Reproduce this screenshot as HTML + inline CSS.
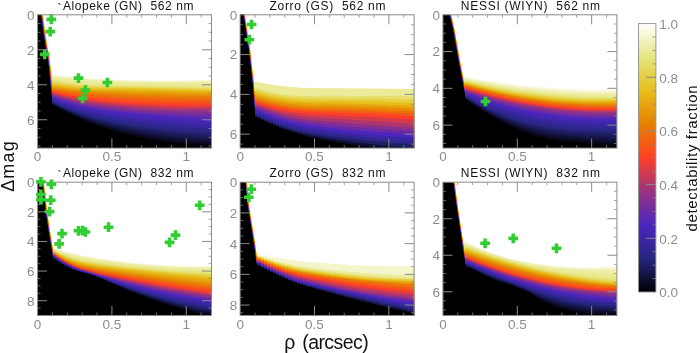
<!DOCTYPE html><html><head><meta charset="utf-8"><style>
*{margin:0;padding:0}
html,body{width:700px;height:353px;overflow:hidden;background:#fff}
svg{position:absolute;left:0;top:0;font-family:"Liberation Sans",sans-serif}
.t{font-size:12px;fill:#111}
.l{font-size:13.5px;fill:#8c8c8c}
.ax{font-size:18px;fill:#111}
</style></head><body><svg width="700" height="353" viewBox="0 0 700 353"><defs><clipPath id="cp0"><rect x="37.55" y="14.80" width="173.95" height="133.30"/></clipPath><linearGradient id="g00" x1="0" y1="14.80" x2="0" y2="148.10" gradientUnits="userSpaceOnUse"><stop offset="-0.0075" stop-color="#ffffff"/><stop offset="-0.0075" stop-color="#efefad"/><stop offset="-0.0075" stop-color="#e6e680"/><stop offset="-0.0075" stop-color="#e6bf1a"/><stop offset="-0.0075" stop-color="#e68000"/><stop offset="-0.0075" stop-color="#ff4026"/><stop offset="-0.0075" stop-color="#993380"/><stop offset="0.0044" stop-color="#4c26bf"/><stop offset="0.0232" stop-color="#262680"/><stop offset="0.0416" stop-color="#000000"/></linearGradient><linearGradient id="g01" x1="0" y1="14.80" x2="0" y2="148.10" gradientUnits="userSpaceOnUse"><stop offset="-0.0075" stop-color="#ffffff"/><stop offset="-0.0075" stop-color="#efefad"/><stop offset="-0.0075" stop-color="#e6e680"/><stop offset="-0.0075" stop-color="#e6bf1a"/><stop offset="0.0058" stop-color="#e68000"/><stop offset="0.0247" stop-color="#ff4026"/><stop offset="0.0435" stop-color="#993380"/><stop offset="0.0624" stop-color="#4c26bf"/><stop offset="0.0812" stop-color="#262680"/><stop offset="0.0999" stop-color="#000000"/></linearGradient><linearGradient id="g02" x1="0" y1="14.80" x2="0" y2="148.10" gradientUnits="userSpaceOnUse"><stop offset="0.0077" stop-color="#ffffff"/><stop offset="0.0194" stop-color="#efefad"/><stop offset="0.0261" stop-color="#e6e680"/><stop offset="0.0450" stop-color="#e6bf1a"/><stop offset="0.0638" stop-color="#e68000"/><stop offset="0.0827" stop-color="#ff4026"/><stop offset="0.1015" stop-color="#993380"/><stop offset="0.1203" stop-color="#4c26bf"/><stop offset="0.1374" stop-color="#262680"/><stop offset="0.1527" stop-color="#000000"/></linearGradient><linearGradient id="g03" x1="0" y1="14.80" x2="0" y2="148.10" gradientUnits="userSpaceOnUse"><stop offset="0.0654" stop-color="#ffffff"/><stop offset="0.0773" stop-color="#efefad"/><stop offset="0.0841" stop-color="#e6e680"/><stop offset="0.1029" stop-color="#e6bf1a"/><stop offset="0.1218" stop-color="#e68000"/><stop offset="0.1386" stop-color="#ff4026"/><stop offset="0.1542" stop-color="#993380"/><stop offset="0.1698" stop-color="#4c26bf"/><stop offset="0.1854" stop-color="#262680"/><stop offset="0.2007" stop-color="#000000"/></linearGradient><linearGradient id="g04" x1="0" y1="14.80" x2="0" y2="148.10" gradientUnits="userSpaceOnUse"><stop offset="0.1236" stop-color="#ffffff"/><stop offset="0.1342" stop-color="#efefad"/><stop offset="0.1398" stop-color="#e6e680"/><stop offset="0.1554" stop-color="#e6bf1a"/><stop offset="0.1710" stop-color="#e68000"/><stop offset="0.1866" stop-color="#ff4026"/><stop offset="0.2023" stop-color="#993380"/><stop offset="0.2179" stop-color="#4c26bf"/><stop offset="0.2335" stop-color="#262680"/><stop offset="0.2487" stop-color="#000000"/></linearGradient><linearGradient id="g05" x1="0" y1="14.80" x2="0" y2="148.10" gradientUnits="userSpaceOnUse"><stop offset="0.1726" stop-color="#ffffff"/><stop offset="0.1822" stop-color="#efefad"/><stop offset="0.1878" stop-color="#e6e680"/><stop offset="0.2035" stop-color="#e6bf1a"/><stop offset="0.2191" stop-color="#e68000"/><stop offset="0.2347" stop-color="#ff4026"/><stop offset="0.2499" stop-color="#993380"/><stop offset="0.2613" stop-color="#4c26bf"/><stop offset="0.2727" stop-color="#262680"/><stop offset="0.2843" stop-color="#000000"/></linearGradient><linearGradient id="g06" x1="0" y1="14.80" x2="0" y2="148.10" gradientUnits="userSpaceOnUse"><stop offset="0.2206" stop-color="#ffffff"/><stop offset="0.2302" stop-color="#efefad"/><stop offset="0.2359" stop-color="#e6e680"/><stop offset="0.2508" stop-color="#e6bf1a"/><stop offset="0.2622" stop-color="#e68000"/><stop offset="0.2736" stop-color="#ff4026"/><stop offset="0.2849" stop-color="#993380"/><stop offset="0.2963" stop-color="#4c26bf"/><stop offset="0.3125" stop-color="#262680"/><stop offset="0.3325" stop-color="#000000"/></linearGradient><linearGradient id="g07" x1="0" y1="14.80" x2="0" y2="148.10" gradientUnits="userSpaceOnUse"><stop offset="0.2630" stop-color="#ffffff"/><stop offset="0.2703" stop-color="#efefad"/><stop offset="0.2744" stop-color="#e6e680"/><stop offset="0.2858" stop-color="#e6bf1a"/><stop offset="0.2972" stop-color="#e68000"/><stop offset="0.3141" stop-color="#ff4026"/><stop offset="0.3344" stop-color="#993380"/><stop offset="0.3547" stop-color="#4c26bf"/><stop offset="0.3750" stop-color="#262680"/><stop offset="0.3951" stop-color="#000000"/></linearGradient><linearGradient id="g08" x1="0" y1="14.80" x2="0" y2="148.10" gradientUnits="userSpaceOnUse"><stop offset="0.2979" stop-color="#ffffff"/><stop offset="0.3083" stop-color="#efefad"/><stop offset="0.3156" stop-color="#e6e680"/><stop offset="0.3360" stop-color="#e6bf1a"/><stop offset="0.3563" stop-color="#e68000"/><stop offset="0.3766" stop-color="#ff4026"/><stop offset="0.3969" stop-color="#993380"/><stop offset="0.4181" stop-color="#4c26bf"/><stop offset="0.4442" stop-color="#262680"/><stop offset="0.4699" stop-color="#000000"/></linearGradient><linearGradient id="g09" x1="0" y1="14.80" x2="0" y2="148.10" gradientUnits="userSpaceOnUse"><stop offset="0.3581" stop-color="#ffffff"/><stop offset="0.3708" stop-color="#efefad"/><stop offset="0.3782" stop-color="#e6e680"/><stop offset="0.3985" stop-color="#e6bf1a"/><stop offset="0.4201" stop-color="#e68000"/><stop offset="0.4463" stop-color="#ff4026"/><stop offset="0.4724" stop-color="#993380"/><stop offset="0.4985" stop-color="#4c26bf"/><stop offset="0.5246" stop-color="#262680"/><stop offset="0.5452" stop-color="#000000"/></linearGradient><linearGradient id="g0a" x1="0" y1="14.80" x2="0" y2="148.10" gradientUnits="userSpaceOnUse"><stop offset="0.4226" stop-color="#ffffff"/><stop offset="0.4389" stop-color="#efefad"/><stop offset="0.4483" stop-color="#e6e680"/><stop offset="0.4744" stop-color="#e6bf1a"/><stop offset="0.5005" stop-color="#e68000"/><stop offset="0.5266" stop-color="#ff4026"/><stop offset="0.5469" stop-color="#993380"/><stop offset="0.5673" stop-color="#4c26bf"/><stop offset="0.5876" stop-color="#262680"/><stop offset="0.6074" stop-color="#000000"/></linearGradient><linearGradient id="g0b" x1="0" y1="14.80" x2="0" y2="148.10" gradientUnits="userSpaceOnUse"><stop offset="0.4466" stop-color="#ffffff"/><stop offset="0.4624" stop-color="#efefad"/><stop offset="0.4916" stop-color="#e6e680"/><stop offset="0.5258" stop-color="#e6bf1a"/><stop offset="0.5573" stop-color="#e68000"/><stop offset="0.5798" stop-color="#ff4026"/><stop offset="0.5980" stop-color="#993380"/><stop offset="0.6231" stop-color="#4c26bf"/><stop offset="0.6545" stop-color="#262680"/><stop offset="0.6803" stop-color="#000000"/></linearGradient><linearGradient id="g0c" x1="0" y1="14.80" x2="0" y2="148.10" gradientUnits="userSpaceOnUse"><stop offset="0.4472" stop-color="#ffffff"/><stop offset="0.4632" stop-color="#efefad"/><stop offset="0.4924" stop-color="#e6e680"/><stop offset="0.5265" stop-color="#e6bf1a"/><stop offset="0.5578" stop-color="#e68000"/><stop offset="0.5807" stop-color="#ff4026"/><stop offset="0.5992" stop-color="#993380"/><stop offset="0.6246" stop-color="#4c26bf"/><stop offset="0.6564" stop-color="#262680"/><stop offset="0.6822" stop-color="#000000"/></linearGradient><linearGradient id="g0d" x1="0" y1="14.80" x2="0" y2="148.10" gradientUnits="userSpaceOnUse"><stop offset="0.4479" stop-color="#ffffff"/><stop offset="0.4640" stop-color="#efefad"/><stop offset="0.4938" stop-color="#e6e680"/><stop offset="0.5277" stop-color="#e6bf1a"/><stop offset="0.5587" stop-color="#e68000"/><stop offset="0.5825" stop-color="#ff4026"/><stop offset="0.6015" stop-color="#993380"/><stop offset="0.6274" stop-color="#4c26bf"/><stop offset="0.6602" stop-color="#262680"/><stop offset="0.6865" stop-color="#000000"/></linearGradient><linearGradient id="g0e" x1="0" y1="14.80" x2="0" y2="148.10" gradientUnits="userSpaceOnUse"><stop offset="0.4488" stop-color="#ffffff"/><stop offset="0.4650" stop-color="#efefad"/><stop offset="0.4952" stop-color="#e6e680"/><stop offset="0.5290" stop-color="#e6bf1a"/><stop offset="0.5597" stop-color="#e68000"/><stop offset="0.5843" stop-color="#ff4026"/><stop offset="0.6039" stop-color="#993380"/><stop offset="0.6302" stop-color="#4c26bf"/><stop offset="0.6638" stop-color="#262680"/><stop offset="0.6907" stop-color="#000000"/></linearGradient><linearGradient id="g0f" x1="0" y1="14.80" x2="0" y2="148.10" gradientUnits="userSpaceOnUse"><stop offset="0.4495" stop-color="#ffffff"/><stop offset="0.4662" stop-color="#efefad"/><stop offset="0.4967" stop-color="#e6e680"/><stop offset="0.5302" stop-color="#e6bf1a"/><stop offset="0.5606" stop-color="#e68000"/><stop offset="0.5861" stop-color="#ff4026"/><stop offset="0.6061" stop-color="#993380"/><stop offset="0.6330" stop-color="#4c26bf"/><stop offset="0.6674" stop-color="#262680"/><stop offset="0.6947" stop-color="#000000"/></linearGradient><linearGradient id="g0g" x1="0" y1="14.80" x2="0" y2="148.10" gradientUnits="userSpaceOnUse"><stop offset="0.4504" stop-color="#ffffff"/><stop offset="0.4668" stop-color="#efefad"/><stop offset="0.4981" stop-color="#e6e680"/><stop offset="0.5314" stop-color="#e6bf1a"/><stop offset="0.5615" stop-color="#e68000"/><stop offset="0.5879" stop-color="#ff4026"/><stop offset="0.6085" stop-color="#993380"/><stop offset="0.6358" stop-color="#4c26bf"/><stop offset="0.6710" stop-color="#262680"/><stop offset="0.6988" stop-color="#000000"/></linearGradient><linearGradient id="g0h" x1="0" y1="14.80" x2="0" y2="148.10" gradientUnits="userSpaceOnUse"><stop offset="0.4510" stop-color="#ffffff"/><stop offset="0.4679" stop-color="#efefad"/><stop offset="0.4992" stop-color="#e6e680"/><stop offset="0.5325" stop-color="#e6bf1a"/><stop offset="0.5625" stop-color="#e68000"/><stop offset="0.5897" stop-color="#ff4026"/><stop offset="0.6106" stop-color="#993380"/><stop offset="0.6386" stop-color="#4c26bf"/><stop offset="0.6745" stop-color="#262680"/><stop offset="0.7029" stop-color="#000000"/></linearGradient><linearGradient id="g0i" x1="0" y1="14.80" x2="0" y2="148.10" gradientUnits="userSpaceOnUse"><stop offset="0.4520" stop-color="#ffffff"/><stop offset="0.4690" stop-color="#efefad"/><stop offset="0.5003" stop-color="#e6e680"/><stop offset="0.5336" stop-color="#e6bf1a"/><stop offset="0.5634" stop-color="#e68000"/><stop offset="0.5914" stop-color="#ff4026"/><stop offset="0.6129" stop-color="#993380"/><stop offset="0.6412" stop-color="#4c26bf"/><stop offset="0.6780" stop-color="#262680"/><stop offset="0.7070" stop-color="#000000"/></linearGradient><linearGradient id="g0j" x1="0" y1="14.80" x2="0" y2="148.10" gradientUnits="userSpaceOnUse"><stop offset="0.4531" stop-color="#ffffff"/><stop offset="0.4704" stop-color="#efefad"/><stop offset="0.5025" stop-color="#e6e680"/><stop offset="0.5353" stop-color="#e6bf1a"/><stop offset="0.5647" stop-color="#e68000"/><stop offset="0.5939" stop-color="#ff4026"/><stop offset="0.6161" stop-color="#993380"/><stop offset="0.6451" stop-color="#4c26bf"/><stop offset="0.6831" stop-color="#262680"/><stop offset="0.7129" stop-color="#000000"/></linearGradient><linearGradient id="g0k" x1="0" y1="14.80" x2="0" y2="148.10" gradientUnits="userSpaceOnUse"><stop offset="0.4545" stop-color="#ffffff"/><stop offset="0.4722" stop-color="#efefad"/><stop offset="0.5046" stop-color="#e6e680"/><stop offset="0.5374" stop-color="#e6bf1a"/><stop offset="0.5664" stop-color="#e68000"/><stop offset="0.5972" stop-color="#ff4026"/><stop offset="0.6204" stop-color="#993380"/><stop offset="0.6503" stop-color="#4c26bf"/><stop offset="0.6899" stop-color="#262680"/><stop offset="0.7208" stop-color="#000000"/></linearGradient><linearGradient id="g0l" x1="0" y1="14.80" x2="0" y2="148.10" gradientUnits="userSpaceOnUse"><stop offset="0.4560" stop-color="#ffffff"/><stop offset="0.4739" stop-color="#efefad"/><stop offset="0.5072" stop-color="#e6e680"/><stop offset="0.5394" stop-color="#e6bf1a"/><stop offset="0.5681" stop-color="#e68000"/><stop offset="0.6004" stop-color="#ff4026"/><stop offset="0.6245" stop-color="#993380"/><stop offset="0.6552" stop-color="#4c26bf"/><stop offset="0.6964" stop-color="#262680"/><stop offset="0.7284" stop-color="#000000"/></linearGradient><linearGradient id="g0m" x1="0" y1="14.80" x2="0" y2="148.10" gradientUnits="userSpaceOnUse"><stop offset="0.4573" stop-color="#ffffff"/><stop offset="0.4755" stop-color="#efefad"/><stop offset="0.5091" stop-color="#e6e680"/><stop offset="0.5413" stop-color="#e6bf1a"/><stop offset="0.5698" stop-color="#e68000"/><stop offset="0.6034" stop-color="#ff4026"/><stop offset="0.6284" stop-color="#993380"/><stop offset="0.6600" stop-color="#4c26bf"/><stop offset="0.7027" stop-color="#262680"/><stop offset="0.7360" stop-color="#000000"/></linearGradient><linearGradient id="g0n" x1="0" y1="14.80" x2="0" y2="148.10" gradientUnits="userSpaceOnUse"><stop offset="0.4587" stop-color="#ffffff"/><stop offset="0.4770" stop-color="#efefad"/><stop offset="0.5115" stop-color="#e6e680"/><stop offset="0.5431" stop-color="#e6bf1a"/><stop offset="0.5714" stop-color="#e68000"/><stop offset="0.6064" stop-color="#ff4026"/><stop offset="0.6323" stop-color="#993380"/><stop offset="0.6646" stop-color="#4c26bf"/><stop offset="0.7089" stop-color="#262680"/><stop offset="0.7434" stop-color="#000000"/></linearGradient><linearGradient id="g0o" x1="0" y1="14.80" x2="0" y2="148.10" gradientUnits="userSpaceOnUse"><stop offset="0.4601" stop-color="#ffffff"/><stop offset="0.4786" stop-color="#efefad"/><stop offset="0.5133" stop-color="#e6e680"/><stop offset="0.5448" stop-color="#e6bf1a"/><stop offset="0.5730" stop-color="#e68000"/><stop offset="0.6094" stop-color="#ff4026"/><stop offset="0.6360" stop-color="#993380"/><stop offset="0.6691" stop-color="#4c26bf"/><stop offset="0.7149" stop-color="#262680"/><stop offset="0.7508" stop-color="#000000"/></linearGradient><linearGradient id="g0p" x1="0" y1="14.80" x2="0" y2="148.10" gradientUnits="userSpaceOnUse"><stop offset="0.4614" stop-color="#ffffff"/><stop offset="0.4801" stop-color="#efefad"/><stop offset="0.5150" stop-color="#e6e680"/><stop offset="0.5464" stop-color="#e6bf1a"/><stop offset="0.5745" stop-color="#e68000"/><stop offset="0.6122" stop-color="#ff4026"/><stop offset="0.6397" stop-color="#993380"/><stop offset="0.6735" stop-color="#4c26bf"/><stop offset="0.7208" stop-color="#262680"/><stop offset="0.7580" stop-color="#000000"/></linearGradient><linearGradient id="g0q" x1="0" y1="14.80" x2="0" y2="148.10" gradientUnits="userSpaceOnUse"><stop offset="0.4628" stop-color="#ffffff"/><stop offset="0.4815" stop-color="#efefad"/><stop offset="0.5168" stop-color="#e6e680"/><stop offset="0.5478" stop-color="#e6bf1a"/><stop offset="0.5760" stop-color="#e68000"/><stop offset="0.6149" stop-color="#ff4026"/><stop offset="0.6432" stop-color="#993380"/><stop offset="0.6777" stop-color="#4c26bf"/><stop offset="0.7265" stop-color="#262680"/><stop offset="0.7650" stop-color="#000000"/></linearGradient><linearGradient id="g0r" x1="0" y1="14.80" x2="0" y2="148.10" gradientUnits="userSpaceOnUse"><stop offset="0.4641" stop-color="#ffffff"/><stop offset="0.4830" stop-color="#efefad"/><stop offset="0.5186" stop-color="#e6e680"/><stop offset="0.5492" stop-color="#e6bf1a"/><stop offset="0.5774" stop-color="#e68000"/><stop offset="0.6175" stop-color="#ff4026"/><stop offset="0.6465" stop-color="#993380"/><stop offset="0.6817" stop-color="#4c26bf"/><stop offset="0.7319" stop-color="#262680"/><stop offset="0.7719" stop-color="#000000"/></linearGradient><linearGradient id="g0s" x1="0" y1="14.80" x2="0" y2="148.10" gradientUnits="userSpaceOnUse"><stop offset="0.4653" stop-color="#ffffff"/><stop offset="0.4844" stop-color="#efefad"/><stop offset="0.5202" stop-color="#e6e680"/><stop offset="0.5505" stop-color="#e6bf1a"/><stop offset="0.5788" stop-color="#e68000"/><stop offset="0.6200" stop-color="#ff4026"/><stop offset="0.6497" stop-color="#993380"/><stop offset="0.6855" stop-color="#4c26bf"/><stop offset="0.7372" stop-color="#262680"/><stop offset="0.7788" stop-color="#000000"/></linearGradient><linearGradient id="g0t" x1="0" y1="14.80" x2="0" y2="148.10" gradientUnits="userSpaceOnUse"><stop offset="0.4665" stop-color="#ffffff"/><stop offset="0.4858" stop-color="#efefad"/><stop offset="0.5216" stop-color="#e6e680"/><stop offset="0.5516" stop-color="#e6bf1a"/><stop offset="0.5802" stop-color="#e68000"/><stop offset="0.6225" stop-color="#ff4026"/><stop offset="0.6529" stop-color="#993380"/><stop offset="0.6893" stop-color="#4c26bf"/><stop offset="0.7424" stop-color="#262680"/><stop offset="0.7854" stop-color="#000000"/></linearGradient><linearGradient id="g0u" x1="0" y1="14.80" x2="0" y2="148.10" gradientUnits="userSpaceOnUse"><stop offset="0.4676" stop-color="#ffffff"/><stop offset="0.4871" stop-color="#efefad"/><stop offset="0.5229" stop-color="#e6e680"/><stop offset="0.5527" stop-color="#e6bf1a"/><stop offset="0.5815" stop-color="#e68000"/><stop offset="0.6248" stop-color="#ff4026"/><stop offset="0.6559" stop-color="#993380"/><stop offset="0.6928" stop-color="#4c26bf"/><stop offset="0.7473" stop-color="#262680"/><stop offset="0.7919" stop-color="#000000"/></linearGradient><linearGradient id="g0v" x1="0" y1="14.80" x2="0" y2="148.10" gradientUnits="userSpaceOnUse"><stop offset="0.4689" stop-color="#ffffff"/><stop offset="0.4882" stop-color="#efefad"/><stop offset="0.5241" stop-color="#e6e680"/><stop offset="0.5537" stop-color="#e6bf1a"/><stop offset="0.5828" stop-color="#e68000"/><stop offset="0.6272" stop-color="#ff4026"/><stop offset="0.6587" stop-color="#993380"/><stop offset="0.6961" stop-color="#4c26bf"/><stop offset="0.7521" stop-color="#262680"/><stop offset="0.7984" stop-color="#000000"/></linearGradient><linearGradient id="g0w" x1="0" y1="14.80" x2="0" y2="148.10" gradientUnits="userSpaceOnUse"><stop offset="0.4700" stop-color="#ffffff"/><stop offset="0.4891" stop-color="#efefad"/><stop offset="0.5253" stop-color="#e6e680"/><stop offset="0.5545" stop-color="#e6bf1a"/><stop offset="0.5839" stop-color="#e68000"/><stop offset="0.6292" stop-color="#ff4026"/><stop offset="0.6615" stop-color="#993380"/><stop offset="0.6993" stop-color="#4c26bf"/><stop offset="0.7567" stop-color="#262680"/><stop offset="0.8046" stop-color="#000000"/></linearGradient><linearGradient id="g0x" x1="0" y1="14.80" x2="0" y2="148.10" gradientUnits="userSpaceOnUse"><stop offset="0.4710" stop-color="#ffffff"/><stop offset="0.4904" stop-color="#efefad"/><stop offset="0.5267" stop-color="#e6e680"/><stop offset="0.5552" stop-color="#e6bf1a"/><stop offset="0.5851" stop-color="#e68000"/><stop offset="0.6313" stop-color="#ff4026"/><stop offset="0.6641" stop-color="#993380"/><stop offset="0.7024" stop-color="#4c26bf"/><stop offset="0.7611" stop-color="#262680"/><stop offset="0.8107" stop-color="#000000"/></linearGradient><linearGradient id="g0y" x1="0" y1="14.80" x2="0" y2="148.10" gradientUnits="userSpaceOnUse"><stop offset="0.4720" stop-color="#ffffff"/><stop offset="0.4915" stop-color="#efefad"/><stop offset="0.5272" stop-color="#e6e680"/><stop offset="0.5559" stop-color="#e6bf1a"/><stop offset="0.5863" stop-color="#e68000"/><stop offset="0.6333" stop-color="#ff4026"/><stop offset="0.6666" stop-color="#993380"/><stop offset="0.7053" stop-color="#4c26bf"/><stop offset="0.7653" stop-color="#262680"/><stop offset="0.8167" stop-color="#000000"/></linearGradient><linearGradient id="g0z" x1="0" y1="14.80" x2="0" y2="148.10" gradientUnits="userSpaceOnUse"><stop offset="0.4731" stop-color="#ffffff"/><stop offset="0.4921" stop-color="#efefad"/><stop offset="0.5282" stop-color="#e6e680"/><stop offset="0.5564" stop-color="#e6bf1a"/><stop offset="0.5874" stop-color="#e68000"/><stop offset="0.6351" stop-color="#ff4026"/><stop offset="0.6690" stop-color="#993380"/><stop offset="0.7081" stop-color="#4c26bf"/><stop offset="0.7694" stop-color="#262680"/><stop offset="0.8226" stop-color="#000000"/></linearGradient><linearGradient id="g010" x1="0" y1="14.80" x2="0" y2="148.10" gradientUnits="userSpaceOnUse"><stop offset="0.4741" stop-color="#ffffff"/><stop offset="0.4933" stop-color="#efefad"/><stop offset="0.5287" stop-color="#e6e680"/><stop offset="0.5569" stop-color="#e6bf1a"/><stop offset="0.5884" stop-color="#e68000"/><stop offset="0.6369" stop-color="#ff4026"/><stop offset="0.6713" stop-color="#993380"/><stop offset="0.7108" stop-color="#4c26bf"/><stop offset="0.7733" stop-color="#262680"/><stop offset="0.8283" stop-color="#000000"/></linearGradient><linearGradient id="g011" x1="0" y1="14.80" x2="0" y2="148.10" gradientUnits="userSpaceOnUse"><stop offset="0.4750" stop-color="#ffffff"/><stop offset="0.4940" stop-color="#efefad"/><stop offset="0.5297" stop-color="#e6e680"/><stop offset="0.5572" stop-color="#e6bf1a"/><stop offset="0.5894" stop-color="#e68000"/><stop offset="0.6386" stop-color="#ff4026"/><stop offset="0.6734" stop-color="#993380"/><stop offset="0.7132" stop-color="#4c26bf"/><stop offset="0.7770" stop-color="#262680"/><stop offset="0.8339" stop-color="#000000"/></linearGradient><linearGradient id="g012" x1="0" y1="14.80" x2="0" y2="148.10" gradientUnits="userSpaceOnUse"><stop offset="0.4760" stop-color="#ffffff"/><stop offset="0.4949" stop-color="#efefad"/><stop offset="0.5299" stop-color="#e6e680"/><stop offset="0.5575" stop-color="#e6bf1a"/><stop offset="0.5904" stop-color="#e68000"/><stop offset="0.6402" stop-color="#ff4026"/><stop offset="0.6754" stop-color="#993380"/><stop offset="0.7155" stop-color="#4c26bf"/><stop offset="0.7805" stop-color="#262680"/><stop offset="0.8394" stop-color="#000000"/></linearGradient><linearGradient id="g013" x1="0" y1="14.80" x2="0" y2="148.10" gradientUnits="userSpaceOnUse"><stop offset="0.4767" stop-color="#ffffff"/><stop offset="0.4955" stop-color="#efefad"/><stop offset="0.5303" stop-color="#e6e680"/><stop offset="0.5576" stop-color="#e6bf1a"/><stop offset="0.5912" stop-color="#e68000"/><stop offset="0.6417" stop-color="#ff4026"/><stop offset="0.6773" stop-color="#993380"/><stop offset="0.7177" stop-color="#4c26bf"/><stop offset="0.7839" stop-color="#262680"/><stop offset="0.8448" stop-color="#000000"/></linearGradient><linearGradient id="g014" x1="0" y1="14.80" x2="0" y2="148.10" gradientUnits="userSpaceOnUse"><stop offset="0.4777" stop-color="#ffffff"/><stop offset="0.4963" stop-color="#efefad"/><stop offset="0.5308" stop-color="#e6e680"/><stop offset="0.5576" stop-color="#e6bf1a"/><stop offset="0.5922" stop-color="#e68000"/><stop offset="0.6431" stop-color="#ff4026"/><stop offset="0.6790" stop-color="#993380"/><stop offset="0.7197" stop-color="#4c26bf"/><stop offset="0.7871" stop-color="#262680"/><stop offset="0.8500" stop-color="#000000"/></linearGradient><linearGradient id="g015" x1="0" y1="14.80" x2="0" y2="148.10" gradientUnits="userSpaceOnUse"><stop offset="0.4785" stop-color="#ffffff"/><stop offset="0.4966" stop-color="#efefad"/><stop offset="0.5312" stop-color="#e6e680"/><stop offset="0.5576" stop-color="#e6bf1a"/><stop offset="0.5930" stop-color="#e68000"/><stop offset="0.6444" stop-color="#ff4026"/><stop offset="0.6807" stop-color="#993380"/><stop offset="0.7215" stop-color="#4c26bf"/><stop offset="0.7901" stop-color="#262680"/><stop offset="0.8551" stop-color="#000000"/></linearGradient><linearGradient id="g016" x1="0" y1="14.80" x2="0" y2="148.10" gradientUnits="userSpaceOnUse"><stop offset="0.4793" stop-color="#ffffff"/><stop offset="0.4976" stop-color="#efefad"/><stop offset="0.5313" stop-color="#e6e680"/><stop offset="0.5576" stop-color="#e6bf1a"/><stop offset="0.5939" stop-color="#e68000"/><stop offset="0.6457" stop-color="#ff4026"/><stop offset="0.6823" stop-color="#993380"/><stop offset="0.7233" stop-color="#4c26bf"/><stop offset="0.7932" stop-color="#262680"/><stop offset="0.8601" stop-color="#000000"/></linearGradient><linearGradient id="g017" x1="0" y1="14.80" x2="0" y2="148.10" gradientUnits="userSpaceOnUse"><stop offset="0.4801" stop-color="#ffffff"/><stop offset="0.4980" stop-color="#efefad"/><stop offset="0.5314" stop-color="#e6e680"/><stop offset="0.5576" stop-color="#e6bf1a"/><stop offset="0.5947" stop-color="#e68000"/><stop offset="0.6470" stop-color="#ff4026"/><stop offset="0.6839" stop-color="#993380"/><stop offset="0.7252" stop-color="#4c26bf"/><stop offset="0.7961" stop-color="#262680"/><stop offset="0.8650" stop-color="#000000"/></linearGradient><linearGradient id="g018" x1="0" y1="14.80" x2="0" y2="148.10" gradientUnits="userSpaceOnUse"><stop offset="0.4808" stop-color="#ffffff"/><stop offset="0.4987" stop-color="#efefad"/><stop offset="0.5316" stop-color="#e6e680"/><stop offset="0.5576" stop-color="#e6bf1a"/><stop offset="0.5955" stop-color="#e68000"/><stop offset="0.6483" stop-color="#ff4026"/><stop offset="0.6855" stop-color="#993380"/><stop offset="0.7271" stop-color="#4c26bf"/><stop offset="0.7991" stop-color="#262680"/><stop offset="0.8698" stop-color="#000000"/></linearGradient><linearGradient id="g019" x1="0" y1="14.80" x2="0" y2="148.10" gradientUnits="userSpaceOnUse"><stop offset="0.4816" stop-color="#ffffff"/><stop offset="0.4993" stop-color="#efefad"/><stop offset="0.5319" stop-color="#e6e680"/><stop offset="0.5576" stop-color="#e6bf1a"/><stop offset="0.5963" stop-color="#e68000"/><stop offset="0.6496" stop-color="#ff4026"/><stop offset="0.6870" stop-color="#993380"/><stop offset="0.7288" stop-color="#4c26bf"/><stop offset="0.8019" stop-color="#262680"/><stop offset="0.8745" stop-color="#000000"/></linearGradient><linearGradient id="g01a" x1="0" y1="14.80" x2="0" y2="148.10" gradientUnits="userSpaceOnUse"><stop offset="0.4823" stop-color="#ffffff"/><stop offset="0.4996" stop-color="#efefad"/><stop offset="0.5324" stop-color="#e6e680"/><stop offset="0.5576" stop-color="#e6bf1a"/><stop offset="0.5970" stop-color="#e68000"/><stop offset="0.6507" stop-color="#ff4026"/><stop offset="0.6885" stop-color="#993380"/><stop offset="0.7305" stop-color="#4c26bf"/><stop offset="0.8048" stop-color="#262680"/><stop offset="0.8791" stop-color="#000000"/></linearGradient><linearGradient id="g01b" x1="0" y1="14.80" x2="0" y2="148.10" gradientUnits="userSpaceOnUse"><stop offset="0.4828" stop-color="#ffffff"/><stop offset="0.5003" stop-color="#efefad"/><stop offset="0.5327" stop-color="#e6e680"/><stop offset="0.5577" stop-color="#e6bf1a"/><stop offset="0.5978" stop-color="#e68000"/><stop offset="0.6518" stop-color="#ff4026"/><stop offset="0.6900" stop-color="#993380"/><stop offset="0.7322" stop-color="#4c26bf"/><stop offset="0.8075" stop-color="#262680"/><stop offset="0.8836" stop-color="#000000"/></linearGradient><linearGradient id="g01c" x1="0" y1="14.80" x2="0" y2="148.10" gradientUnits="userSpaceOnUse"><stop offset="0.4835" stop-color="#ffffff"/><stop offset="0.5008" stop-color="#efefad"/><stop offset="0.5328" stop-color="#e6e680"/><stop offset="0.5577" stop-color="#e6bf1a"/><stop offset="0.5985" stop-color="#e68000"/><stop offset="0.6530" stop-color="#ff4026"/><stop offset="0.6914" stop-color="#993380"/><stop offset="0.7340" stop-color="#4c26bf"/><stop offset="0.8102" stop-color="#262680"/><stop offset="0.8881" stop-color="#000000"/></linearGradient><linearGradient id="g01d" x1="0" y1="14.80" x2="0" y2="148.10" gradientUnits="userSpaceOnUse"><stop offset="0.4840" stop-color="#ffffff"/><stop offset="0.5011" stop-color="#efefad"/><stop offset="0.5329" stop-color="#e6e680"/><stop offset="0.5578" stop-color="#e6bf1a"/><stop offset="0.5993" stop-color="#e68000"/><stop offset="0.6542" stop-color="#ff4026"/><stop offset="0.6928" stop-color="#993380"/><stop offset="0.7358" stop-color="#4c26bf"/><stop offset="0.8129" stop-color="#262680"/><stop offset="0.8924" stop-color="#000000"/></linearGradient><linearGradient id="g01e" x1="0" y1="14.80" x2="0" y2="148.10" gradientUnits="userSpaceOnUse"><stop offset="0.4847" stop-color="#ffffff"/><stop offset="0.5018" stop-color="#efefad"/><stop offset="0.5331" stop-color="#e6e680"/><stop offset="0.5579" stop-color="#e6bf1a"/><stop offset="0.5999" stop-color="#e68000"/><stop offset="0.6552" stop-color="#ff4026"/><stop offset="0.6941" stop-color="#993380"/><stop offset="0.7375" stop-color="#4c26bf"/><stop offset="0.8156" stop-color="#262680"/><stop offset="0.8966" stop-color="#000000"/></linearGradient><linearGradient id="g01f" x1="0" y1="14.80" x2="0" y2="148.10" gradientUnits="userSpaceOnUse"><stop offset="0.4852" stop-color="#ffffff"/><stop offset="0.5022" stop-color="#efefad"/><stop offset="0.5335" stop-color="#e6e680"/><stop offset="0.5579" stop-color="#e6bf1a"/><stop offset="0.6006" stop-color="#e68000"/><stop offset="0.6562" stop-color="#ff4026"/><stop offset="0.6954" stop-color="#993380"/><stop offset="0.7391" stop-color="#4c26bf"/><stop offset="0.8181" stop-color="#262680"/><stop offset="0.9008" stop-color="#000000"/></linearGradient><linearGradient id="g01g" x1="0" y1="14.80" x2="0" y2="148.10" gradientUnits="userSpaceOnUse"><stop offset="0.4856" stop-color="#ffffff"/><stop offset="0.5025" stop-color="#efefad"/><stop offset="0.5341" stop-color="#e6e680"/><stop offset="0.5580" stop-color="#e6bf1a"/><stop offset="0.6013" stop-color="#e68000"/><stop offset="0.6573" stop-color="#ff4026"/><stop offset="0.6967" stop-color="#993380"/><stop offset="0.7408" stop-color="#4c26bf"/><stop offset="0.8206" stop-color="#262680"/><stop offset="0.9048" stop-color="#000000"/></linearGradient><linearGradient id="g01h" x1="0" y1="14.80" x2="0" y2="148.10" gradientUnits="userSpaceOnUse"><stop offset="0.4862" stop-color="#ffffff"/><stop offset="0.5027" stop-color="#efefad"/><stop offset="0.5342" stop-color="#e6e680"/><stop offset="0.5581" stop-color="#e6bf1a"/><stop offset="0.6019" stop-color="#e68000"/><stop offset="0.6582" stop-color="#ff4026"/><stop offset="0.6979" stop-color="#993380"/><stop offset="0.7423" stop-color="#4c26bf"/><stop offset="0.8231" stop-color="#262680"/><stop offset="0.9088" stop-color="#000000"/></linearGradient><linearGradient id="g01i" x1="0" y1="14.80" x2="0" y2="148.10" gradientUnits="userSpaceOnUse"><stop offset="0.4866" stop-color="#ffffff"/><stop offset="0.5035" stop-color="#efefad"/><stop offset="0.5343" stop-color="#e6e680"/><stop offset="0.5582" stop-color="#e6bf1a"/><stop offset="0.6026" stop-color="#e68000"/><stop offset="0.6592" stop-color="#ff4026"/><stop offset="0.6990" stop-color="#993380"/><stop offset="0.7439" stop-color="#4c26bf"/><stop offset="0.8256" stop-color="#262680"/><stop offset="0.9126" stop-color="#000000"/></linearGradient><linearGradient id="g01j" x1="0" y1="14.80" x2="0" y2="148.10" gradientUnits="userSpaceOnUse"><stop offset="0.4869" stop-color="#ffffff"/><stop offset="0.5038" stop-color="#efefad"/><stop offset="0.5345" stop-color="#e6e680"/><stop offset="0.5585" stop-color="#e6bf1a"/><stop offset="0.6031" stop-color="#e68000"/><stop offset="0.6602" stop-color="#ff4026"/><stop offset="0.7002" stop-color="#993380"/><stop offset="0.7454" stop-color="#4c26bf"/><stop offset="0.8279" stop-color="#262680"/><stop offset="0.9164" stop-color="#000000"/></linearGradient><linearGradient id="g01k" x1="0" y1="14.80" x2="0" y2="148.10" gradientUnits="userSpaceOnUse"><stop offset="0.4873" stop-color="#ffffff"/><stop offset="0.5040" stop-color="#efefad"/><stop offset="0.5348" stop-color="#e6e680"/><stop offset="0.5587" stop-color="#e6bf1a"/><stop offset="0.6038" stop-color="#e68000"/><stop offset="0.6610" stop-color="#ff4026"/><stop offset="0.7013" stop-color="#993380"/><stop offset="0.7470" stop-color="#4c26bf"/><stop offset="0.8303" stop-color="#262680"/><stop offset="0.9201" stop-color="#000000"/></linearGradient><linearGradient id="g01l" x1="0" y1="14.80" x2="0" y2="148.10" gradientUnits="userSpaceOnUse"><stop offset="0.4878" stop-color="#ffffff"/><stop offset="0.5041" stop-color="#efefad"/><stop offset="0.5353" stop-color="#e6e680"/><stop offset="0.5589" stop-color="#e6bf1a"/><stop offset="0.6044" stop-color="#e68000"/><stop offset="0.6619" stop-color="#ff4026"/><stop offset="0.7024" stop-color="#993380"/><stop offset="0.7485" stop-color="#4c26bf"/><stop offset="0.8325" stop-color="#262680"/><stop offset="0.9237" stop-color="#000000"/></linearGradient><linearGradient id="g01m" x1="0" y1="14.80" x2="0" y2="148.10" gradientUnits="userSpaceOnUse"><stop offset="0.4881" stop-color="#ffffff"/><stop offset="0.5048" stop-color="#efefad"/><stop offset="0.5357" stop-color="#e6e680"/><stop offset="0.5591" stop-color="#e6bf1a"/><stop offset="0.6049" stop-color="#e68000"/><stop offset="0.6627" stop-color="#ff4026"/><stop offset="0.7034" stop-color="#993380"/><stop offset="0.7500" stop-color="#4c26bf"/><stop offset="0.8348" stop-color="#262680"/><stop offset="0.9271" stop-color="#000000"/></linearGradient><linearGradient id="g01n" x1="0" y1="14.80" x2="0" y2="148.10" gradientUnits="userSpaceOnUse"><stop offset="0.4883" stop-color="#ffffff"/><stop offset="0.5051" stop-color="#efefad"/><stop offset="0.5358" stop-color="#e6e680"/><stop offset="0.5593" stop-color="#e6bf1a"/><stop offset="0.6055" stop-color="#e68000"/><stop offset="0.6635" stop-color="#ff4026"/><stop offset="0.7044" stop-color="#993380"/><stop offset="0.7514" stop-color="#4c26bf"/><stop offset="0.8370" stop-color="#262680"/><stop offset="0.9305" stop-color="#000000"/></linearGradient><linearGradient id="g01o" x1="0" y1="14.80" x2="0" y2="148.10" gradientUnits="userSpaceOnUse"><stop offset="0.4885" stop-color="#ffffff"/><stop offset="0.5053" stop-color="#efefad"/><stop offset="0.5359" stop-color="#e6e680"/><stop offset="0.5594" stop-color="#e6bf1a"/><stop offset="0.6060" stop-color="#e68000"/><stop offset="0.6644" stop-color="#ff4026"/><stop offset="0.7053" stop-color="#993380"/><stop offset="0.7529" stop-color="#4c26bf"/><stop offset="0.8391" stop-color="#262680"/><stop offset="0.9338" stop-color="#000000"/></linearGradient><linearGradient id="g01p" x1="0" y1="14.80" x2="0" y2="148.10" gradientUnits="userSpaceOnUse"><stop offset="0.4887" stop-color="#ffffff"/><stop offset="0.5055" stop-color="#efefad"/><stop offset="0.5362" stop-color="#e6e680"/><stop offset="0.5596" stop-color="#e6bf1a"/><stop offset="0.6065" stop-color="#e68000"/><stop offset="0.6651" stop-color="#ff4026"/><stop offset="0.7063" stop-color="#993380"/><stop offset="0.7543" stop-color="#4c26bf"/><stop offset="0.8412" stop-color="#262680"/><stop offset="0.9370" stop-color="#000000"/></linearGradient><linearGradient id="g01q" x1="0" y1="14.80" x2="0" y2="148.10" gradientUnits="userSpaceOnUse"><stop offset="0.4891" stop-color="#ffffff"/><stop offset="0.5056" stop-color="#efefad"/><stop offset="0.5366" stop-color="#e6e680"/><stop offset="0.5598" stop-color="#e6bf1a"/><stop offset="0.6071" stop-color="#e68000"/><stop offset="0.6658" stop-color="#ff4026"/><stop offset="0.7072" stop-color="#993380"/><stop offset="0.7557" stop-color="#4c26bf"/><stop offset="0.8432" stop-color="#262680"/><stop offset="0.9401" stop-color="#000000"/></linearGradient><linearGradient id="g01r" x1="0" y1="14.80" x2="0" y2="148.10" gradientUnits="userSpaceOnUse"><stop offset="0.4893" stop-color="#ffffff"/><stop offset="0.5057" stop-color="#efefad"/><stop offset="0.5372" stop-color="#e6e680"/><stop offset="0.5602" stop-color="#e6bf1a"/><stop offset="0.6075" stop-color="#e68000"/><stop offset="0.6665" stop-color="#ff4026"/><stop offset="0.7080" stop-color="#993380"/><stop offset="0.7571" stop-color="#4c26bf"/><stop offset="0.8452" stop-color="#262680"/><stop offset="0.9431" stop-color="#000000"/></linearGradient><linearGradient id="g01s" x1="0" y1="14.80" x2="0" y2="148.10" gradientUnits="userSpaceOnUse"><stop offset="0.4894" stop-color="#ffffff"/><stop offset="0.5062" stop-color="#efefad"/><stop offset="0.5373" stop-color="#e6e680"/><stop offset="0.5605" stop-color="#e6bf1a"/><stop offset="0.6080" stop-color="#e68000"/><stop offset="0.6672" stop-color="#ff4026"/><stop offset="0.7088" stop-color="#993380"/><stop offset="0.7584" stop-color="#4c26bf"/><stop offset="0.8472" stop-color="#262680"/><stop offset="0.9460" stop-color="#000000"/></linearGradient><linearGradient id="g01t" x1="0" y1="14.80" x2="0" y2="148.10" gradientUnits="userSpaceOnUse"><stop offset="0.4895" stop-color="#ffffff"/><stop offset="0.5065" stop-color="#efefad"/><stop offset="0.5374" stop-color="#e6e680"/><stop offset="0.5608" stop-color="#e6bf1a"/><stop offset="0.6084" stop-color="#e68000"/><stop offset="0.6679" stop-color="#ff4026"/><stop offset="0.7096" stop-color="#993380"/><stop offset="0.7597" stop-color="#4c26bf"/><stop offset="0.8490" stop-color="#262680"/><stop offset="0.9489" stop-color="#000000"/></linearGradient><linearGradient id="g01u" x1="0" y1="14.80" x2="0" y2="148.10" gradientUnits="userSpaceOnUse"><stop offset="0.4896" stop-color="#ffffff"/><stop offset="0.5066" stop-color="#efefad"/><stop offset="0.5377" stop-color="#e6e680"/><stop offset="0.5610" stop-color="#e6bf1a"/><stop offset="0.6088" stop-color="#e68000"/><stop offset="0.6684" stop-color="#ff4026"/><stop offset="0.7103" stop-color="#993380"/><stop offset="0.7609" stop-color="#4c26bf"/><stop offset="0.8509" stop-color="#262680"/><stop offset="0.9516" stop-color="#000000"/></linearGradient><linearGradient id="g01v" x1="0" y1="14.80" x2="0" y2="148.10" gradientUnits="userSpaceOnUse"><stop offset="0.4897" stop-color="#ffffff"/><stop offset="0.5067" stop-color="#efefad"/><stop offset="0.5381" stop-color="#e6e680"/><stop offset="0.5611" stop-color="#e6bf1a"/><stop offset="0.6092" stop-color="#e68000"/><stop offset="0.6691" stop-color="#ff4026"/><stop offset="0.7110" stop-color="#993380"/><stop offset="0.7621" stop-color="#4c26bf"/><stop offset="0.8527" stop-color="#262680"/><stop offset="0.9542" stop-color="#000000"/></linearGradient><linearGradient id="g01w" x1="0" y1="14.80" x2="0" y2="148.10" gradientUnits="userSpaceOnUse"><stop offset="0.4897" stop-color="#ffffff"/><stop offset="0.5068" stop-color="#efefad"/><stop offset="0.5387" stop-color="#e6e680"/><stop offset="0.5617" stop-color="#e6bf1a"/><stop offset="0.6097" stop-color="#e68000"/><stop offset="0.6695" stop-color="#ff4026"/><stop offset="0.7117" stop-color="#993380"/><stop offset="0.7635" stop-color="#4c26bf"/><stop offset="0.8544" stop-color="#262680"/><stop offset="0.9568" stop-color="#000000"/></linearGradient><linearGradient id="g01x" x1="0" y1="14.80" x2="0" y2="148.10" gradientUnits="userSpaceOnUse"><stop offset="0.4897" stop-color="#ffffff"/><stop offset="0.5069" stop-color="#efefad"/><stop offset="0.5388" stop-color="#e6e680"/><stop offset="0.5621" stop-color="#e6bf1a"/><stop offset="0.6101" stop-color="#e68000"/><stop offset="0.6701" stop-color="#ff4026"/><stop offset="0.7123" stop-color="#993380"/><stop offset="0.7648" stop-color="#4c26bf"/><stop offset="0.8561" stop-color="#262680"/><stop offset="0.9592" stop-color="#000000"/></linearGradient><linearGradient id="g01y" x1="0" y1="14.80" x2="0" y2="148.10" gradientUnits="userSpaceOnUse"><stop offset="0.4897" stop-color="#ffffff"/><stop offset="0.5069" stop-color="#efefad"/><stop offset="0.5389" stop-color="#e6e680"/><stop offset="0.5624" stop-color="#e6bf1a"/><stop offset="0.6104" stop-color="#e68000"/><stop offset="0.6707" stop-color="#ff4026"/><stop offset="0.7128" stop-color="#993380"/><stop offset="0.7660" stop-color="#4c26bf"/><stop offset="0.8578" stop-color="#262680"/><stop offset="0.9615" stop-color="#000000"/></linearGradient><linearGradient id="g01z" x1="0" y1="14.80" x2="0" y2="148.10" gradientUnits="userSpaceOnUse"><stop offset="0.4896" stop-color="#ffffff"/><stop offset="0.5070" stop-color="#efefad"/><stop offset="0.5392" stop-color="#e6e680"/><stop offset="0.5626" stop-color="#e6bf1a"/><stop offset="0.6107" stop-color="#e68000"/><stop offset="0.6710" stop-color="#ff4026"/><stop offset="0.7134" stop-color="#993380"/><stop offset="0.7671" stop-color="#4c26bf"/><stop offset="0.8593" stop-color="#262680"/><stop offset="0.9638" stop-color="#000000"/></linearGradient><linearGradient id="g020" x1="0" y1="14.80" x2="0" y2="148.10" gradientUnits="userSpaceOnUse"><stop offset="0.4895" stop-color="#ffffff"/><stop offset="0.5070" stop-color="#efefad"/><stop offset="0.5397" stop-color="#e6e680"/><stop offset="0.5631" stop-color="#e6bf1a"/><stop offset="0.6111" stop-color="#e68000"/><stop offset="0.6714" stop-color="#ff4026"/><stop offset="0.7139" stop-color="#993380"/><stop offset="0.7681" stop-color="#4c26bf"/><stop offset="0.8609" stop-color="#262680"/><stop offset="0.9659" stop-color="#000000"/></linearGradient><linearGradient id="g021" x1="0" y1="14.80" x2="0" y2="148.10" gradientUnits="userSpaceOnUse"><stop offset="0.4894" stop-color="#ffffff"/><stop offset="0.5070" stop-color="#efefad"/><stop offset="0.5402" stop-color="#e6e680"/><stop offset="0.5635" stop-color="#e6bf1a"/><stop offset="0.6114" stop-color="#e68000"/><stop offset="0.6719" stop-color="#ff4026"/><stop offset="0.7143" stop-color="#993380"/><stop offset="0.7694" stop-color="#4c26bf"/><stop offset="0.8624" stop-color="#262680"/><stop offset="0.9680" stop-color="#000000"/></linearGradient><linearGradient id="g022" x1="0" y1="14.80" x2="0" y2="148.10" gradientUnits="userSpaceOnUse"><stop offset="0.4892" stop-color="#ffffff"/><stop offset="0.5070" stop-color="#efefad"/><stop offset="0.5403" stop-color="#e6e680"/><stop offset="0.5639" stop-color="#e6bf1a"/><stop offset="0.6117" stop-color="#e68000"/><stop offset="0.6723" stop-color="#ff4026"/><stop offset="0.7148" stop-color="#993380"/><stop offset="0.7705" stop-color="#4c26bf"/><stop offset="0.8638" stop-color="#262680"/><stop offset="0.9700" stop-color="#000000"/></linearGradient><linearGradient id="g023" x1="0" y1="14.80" x2="0" y2="148.10" gradientUnits="userSpaceOnUse"><stop offset="0.4890" stop-color="#ffffff"/><stop offset="0.5070" stop-color="#efefad"/><stop offset="0.5405" stop-color="#e6e680"/><stop offset="0.5641" stop-color="#e6bf1a"/><stop offset="0.6119" stop-color="#e68000"/><stop offset="0.6726" stop-color="#ff4026"/><stop offset="0.7152" stop-color="#993380"/><stop offset="0.7715" stop-color="#4c26bf"/><stop offset="0.8652" stop-color="#262680"/><stop offset="0.9718" stop-color="#000000"/></linearGradient><linearGradient id="g024" x1="0" y1="14.80" x2="0" y2="148.10" gradientUnits="userSpaceOnUse"><stop offset="0.4887" stop-color="#ffffff"/><stop offset="0.5070" stop-color="#efefad"/><stop offset="0.5408" stop-color="#e6e680"/><stop offset="0.5647" stop-color="#e6bf1a"/><stop offset="0.6122" stop-color="#e68000"/><stop offset="0.6729" stop-color="#ff4026"/><stop offset="0.7155" stop-color="#993380"/><stop offset="0.7726" stop-color="#4c26bf"/><stop offset="0.8666" stop-color="#262680"/><stop offset="0.9736" stop-color="#000000"/></linearGradient><linearGradient id="g025" x1="0" y1="14.80" x2="0" y2="148.10" gradientUnits="userSpaceOnUse"><stop offset="0.4885" stop-color="#ffffff"/><stop offset="0.5070" stop-color="#efefad"/><stop offset="0.5414" stop-color="#e6e680"/><stop offset="0.5652" stop-color="#e6bf1a"/><stop offset="0.6125" stop-color="#e68000"/><stop offset="0.6732" stop-color="#ff4026"/><stop offset="0.7158" stop-color="#993380"/><stop offset="0.7737" stop-color="#4c26bf"/><stop offset="0.8679" stop-color="#262680"/><stop offset="0.9753" stop-color="#000000"/></linearGradient><linearGradient id="g026" x1="0" y1="14.80" x2="0" y2="148.10" gradientUnits="userSpaceOnUse"><stop offset="0.4883" stop-color="#ffffff"/><stop offset="0.5069" stop-color="#efefad"/><stop offset="0.5417" stop-color="#e6e680"/><stop offset="0.5655" stop-color="#e6bf1a"/><stop offset="0.6127" stop-color="#e68000"/><stop offset="0.6735" stop-color="#ff4026"/><stop offset="0.7161" stop-color="#993380"/><stop offset="0.7747" stop-color="#4c26bf"/><stop offset="0.8691" stop-color="#262680"/><stop offset="0.9769" stop-color="#000000"/></linearGradient><linearGradient id="g027" x1="0" y1="14.80" x2="0" y2="148.10" gradientUnits="userSpaceOnUse"><stop offset="0.4880" stop-color="#ffffff"/><stop offset="0.5069" stop-color="#efefad"/><stop offset="0.5418" stop-color="#e6e680"/><stop offset="0.5660" stop-color="#e6bf1a"/><stop offset="0.6129" stop-color="#e68000"/><stop offset="0.6738" stop-color="#ff4026"/><stop offset="0.7164" stop-color="#993380"/><stop offset="0.7756" stop-color="#4c26bf"/><stop offset="0.8703" stop-color="#262680"/><stop offset="0.9784" stop-color="#000000"/></linearGradient><linearGradient id="g028" x1="0" y1="14.80" x2="0" y2="148.10" gradientUnits="userSpaceOnUse"><stop offset="0.4877" stop-color="#ffffff"/><stop offset="0.5068" stop-color="#efefad"/><stop offset="0.5420" stop-color="#e6e680"/><stop offset="0.5666" stop-color="#e6bf1a"/><stop offset="0.6131" stop-color="#e68000"/><stop offset="0.6739" stop-color="#ff4026"/><stop offset="0.7166" stop-color="#993380"/><stop offset="0.7767" stop-color="#4c26bf"/><stop offset="0.8715" stop-color="#262680"/><stop offset="0.9798" stop-color="#000000"/></linearGradient><linearGradient id="g029" x1="0" y1="14.80" x2="0" y2="148.10" gradientUnits="userSpaceOnUse"><stop offset="0.4872" stop-color="#ffffff"/><stop offset="0.5067" stop-color="#efefad"/><stop offset="0.5425" stop-color="#e6e680"/><stop offset="0.5670" stop-color="#e6bf1a"/><stop offset="0.6133" stop-color="#e68000"/><stop offset="0.6741" stop-color="#ff4026"/><stop offset="0.7167" stop-color="#993380"/><stop offset="0.7775" stop-color="#4c26bf"/><stop offset="0.8726" stop-color="#262680"/><stop offset="0.9811" stop-color="#000000"/></linearGradient><linearGradient id="g02a" x1="0" y1="14.80" x2="0" y2="148.10" gradientUnits="userSpaceOnUse"><stop offset="0.4869" stop-color="#ffffff"/><stop offset="0.5066" stop-color="#efefad"/><stop offset="0.5432" stop-color="#e6e680"/><stop offset="0.5675" stop-color="#e6bf1a"/><stop offset="0.6134" stop-color="#e68000"/><stop offset="0.6742" stop-color="#ff4026"/><stop offset="0.7168" stop-color="#993380"/><stop offset="0.7785" stop-color="#4c26bf"/><stop offset="0.8736" stop-color="#262680"/><stop offset="0.9823" stop-color="#000000"/></linearGradient><linearGradient id="g02b" x1="0" y1="14.80" x2="0" y2="148.10" gradientUnits="userSpaceOnUse"><stop offset="0.4865" stop-color="#ffffff"/><stop offset="0.5064" stop-color="#efefad"/><stop offset="0.5433" stop-color="#e6e680"/><stop offset="0.5681" stop-color="#e6bf1a"/><stop offset="0.6135" stop-color="#e68000"/><stop offset="0.6743" stop-color="#ff4026"/><stop offset="0.7169" stop-color="#993380"/><stop offset="0.7794" stop-color="#4c26bf"/><stop offset="0.8746" stop-color="#262680"/><stop offset="0.9834" stop-color="#000000"/></linearGradient><linearGradient id="g02c" x1="0" y1="14.80" x2="0" y2="148.10" gradientUnits="userSpaceOnUse"><stop offset="0.4860" stop-color="#ffffff"/><stop offset="0.5061" stop-color="#efefad"/><stop offset="0.5434" stop-color="#e6e680"/><stop offset="0.5685" stop-color="#e6bf1a"/><stop offset="0.6136" stop-color="#e68000"/><stop offset="0.6744" stop-color="#ff4026"/><stop offset="0.7169" stop-color="#993380"/><stop offset="0.7801" stop-color="#4c26bf"/><stop offset="0.8756" stop-color="#262680"/><stop offset="0.9844" stop-color="#000000"/></linearGradient><linearGradient id="g02d" x1="0" y1="14.80" x2="0" y2="148.10" gradientUnits="userSpaceOnUse"><stop offset="0.4855" stop-color="#ffffff"/><stop offset="0.5056" stop-color="#efefad"/><stop offset="0.5437" stop-color="#e6e680"/><stop offset="0.5691" stop-color="#e6bf1a"/><stop offset="0.6138" stop-color="#e68000"/><stop offset="0.6744" stop-color="#ff4026"/><stop offset="0.7169" stop-color="#993380"/><stop offset="0.7811" stop-color="#4c26bf"/><stop offset="0.8765" stop-color="#262680"/><stop offset="0.9853" stop-color="#000000"/></linearGradient><linearGradient id="g02e" x1="0" y1="14.80" x2="0" y2="148.10" gradientUnits="userSpaceOnUse"><stop offset="0.4851" stop-color="#ffffff"/><stop offset="0.5055" stop-color="#efefad"/><stop offset="0.5444" stop-color="#e6e680"/><stop offset="0.5697" stop-color="#e6bf1a"/><stop offset="0.6139" stop-color="#e68000"/><stop offset="0.6744" stop-color="#ff4026"/><stop offset="0.7169" stop-color="#993380"/><stop offset="0.7818" stop-color="#4c26bf"/><stop offset="0.8773" stop-color="#262680"/><stop offset="0.9862" stop-color="#000000"/></linearGradient><linearGradient id="g02f" x1="0" y1="14.80" x2="0" y2="148.10" gradientUnits="userSpaceOnUse"><stop offset="0.4844" stop-color="#ffffff"/><stop offset="0.5054" stop-color="#efefad"/><stop offset="0.5447" stop-color="#e6e680"/><stop offset="0.5701" stop-color="#e6bf1a"/><stop offset="0.6140" stop-color="#e68000"/><stop offset="0.6744" stop-color="#ff4026"/><stop offset="0.7169" stop-color="#993380"/><stop offset="0.7827" stop-color="#4c26bf"/><stop offset="0.8782" stop-color="#262680"/><stop offset="0.9871" stop-color="#000000"/></linearGradient><linearGradient id="g02g" x1="0" y1="14.80" x2="0" y2="148.10" gradientUnits="userSpaceOnUse"><stop offset="0.4839" stop-color="#ffffff"/><stop offset="0.5053" stop-color="#efefad"/><stop offset="0.5448" stop-color="#e6e680"/><stop offset="0.5708" stop-color="#e6bf1a"/><stop offset="0.6140" stop-color="#e68000"/><stop offset="0.6744" stop-color="#ff4026"/><stop offset="0.7168" stop-color="#993380"/><stop offset="0.7834" stop-color="#4c26bf"/><stop offset="0.8789" stop-color="#262680"/><stop offset="0.9882" stop-color="#000000"/></linearGradient><linearGradient id="g02h" x1="0" y1="14.80" x2="0" y2="148.10" gradientUnits="userSpaceOnUse"><stop offset="0.4833" stop-color="#ffffff"/><stop offset="0.5050" stop-color="#efefad"/><stop offset="0.5451" stop-color="#e6e680"/><stop offset="0.5714" stop-color="#e6bf1a"/><stop offset="0.6141" stop-color="#e68000"/><stop offset="0.6743" stop-color="#ff4026"/><stop offset="0.7166" stop-color="#993380"/><stop offset="0.7842" stop-color="#4c26bf"/><stop offset="0.8796" stop-color="#262680"/><stop offset="0.9896" stop-color="#000000"/></linearGradient><linearGradient id="g02i" x1="0" y1="14.80" x2="0" y2="148.10" gradientUnits="userSpaceOnUse"><stop offset="0.4826" stop-color="#ffffff"/><stop offset="0.5046" stop-color="#efefad"/><stop offset="0.5456" stop-color="#e6e680"/><stop offset="0.5720" stop-color="#e6bf1a"/><stop offset="0.6141" stop-color="#e68000"/><stop offset="0.6743" stop-color="#ff4026"/><stop offset="0.7165" stop-color="#993380"/><stop offset="0.7849" stop-color="#4c26bf"/><stop offset="0.8803" stop-color="#262680"/><stop offset="0.9911" stop-color="#000000"/></linearGradient><linearGradient id="g02j" x1="0" y1="14.80" x2="0" y2="148.10" gradientUnits="userSpaceOnUse"><stop offset="0.4820" stop-color="#ffffff"/><stop offset="0.5041" stop-color="#efefad"/><stop offset="0.5462" stop-color="#e6e680"/><stop offset="0.5726" stop-color="#e6bf1a"/><stop offset="0.6141" stop-color="#e68000"/><stop offset="0.6741" stop-color="#ff4026"/><stop offset="0.7162" stop-color="#993380"/><stop offset="0.7857" stop-color="#4c26bf"/><stop offset="0.8809" stop-color="#262680"/><stop offset="0.9930" stop-color="#000000"/></linearGradient><linearGradient id="g02k" x1="0" y1="14.80" x2="0" y2="148.10" gradientUnits="userSpaceOnUse"><stop offset="0.4813" stop-color="#ffffff"/><stop offset="0.5039" stop-color="#efefad"/><stop offset="0.5463" stop-color="#e6e680"/><stop offset="0.5731" stop-color="#e6bf1a"/><stop offset="0.6141" stop-color="#e68000"/><stop offset="0.6740" stop-color="#ff4026"/><stop offset="0.7159" stop-color="#993380"/><stop offset="0.7862" stop-color="#4c26bf"/><stop offset="0.8815" stop-color="#262680"/><stop offset="0.9950" stop-color="#000000"/></linearGradient><linearGradient id="g02l" x1="0" y1="14.80" x2="0" y2="148.10" gradientUnits="userSpaceOnUse"><stop offset="0.4806" stop-color="#ffffff"/><stop offset="0.5037" stop-color="#efefad"/><stop offset="0.5465" stop-color="#e6e680"/><stop offset="0.5739" stop-color="#e6bf1a"/><stop offset="0.6141" stop-color="#e68000"/><stop offset="0.6739" stop-color="#ff4026"/><stop offset="0.7156" stop-color="#993380"/><stop offset="0.7870" stop-color="#4c26bf"/><stop offset="0.8820" stop-color="#262680"/><stop offset="0.9973" stop-color="#000000"/></linearGradient><linearGradient id="g02m" x1="0" y1="14.80" x2="0" y2="148.10" gradientUnits="userSpaceOnUse"><stop offset="0.4798" stop-color="#ffffff"/><stop offset="0.5033" stop-color="#efefad"/><stop offset="0.5469" stop-color="#e6e680"/><stop offset="0.5745" stop-color="#e6bf1a"/><stop offset="0.6140" stop-color="#e68000"/><stop offset="0.6737" stop-color="#ff4026"/><stop offset="0.7153" stop-color="#993380"/><stop offset="0.7876" stop-color="#4c26bf"/><stop offset="0.8824" stop-color="#262680"/><stop offset="0.9998" stop-color="#000000"/></linearGradient><clipPath id="cp1"><rect x="240.15" y="14.80" width="173.95" height="133.30"/></clipPath><clipPath id="cp2"><rect x="442.95" y="14.80" width="173.95" height="133.30"/></clipPath><linearGradient id="g20" x1="0" y1="14.80" x2="0" y2="148.10" gradientUnits="userSpaceOnUse"><stop offset="-0.0075" stop-color="#ffffff"/><stop offset="-0.0075" stop-color="#efefad"/><stop offset="-0.0075" stop-color="#e6e680"/><stop offset="-0.0075" stop-color="#e6bf1a"/><stop offset="-0.0075" stop-color="#e68000"/><stop offset="-0.0075" stop-color="#ff4026"/><stop offset="0.0073" stop-color="#993380"/><stop offset="0.0164" stop-color="#4c26bf"/><stop offset="0.0255" stop-color="#262680"/><stop offset="0.0344" stop-color="#000000"/></linearGradient><linearGradient id="g21" x1="0" y1="14.80" x2="0" y2="148.10" gradientUnits="userSpaceOnUse"><stop offset="-0.0075" stop-color="#ffffff"/><stop offset="-0.0075" stop-color="#efefad"/><stop offset="0.0040" stop-color="#e6e680"/><stop offset="0.0131" stop-color="#e6bf1a"/><stop offset="0.0222" stop-color="#e68000"/><stop offset="0.0313" stop-color="#ff4026"/><stop offset="0.0404" stop-color="#993380"/><stop offset="0.0495" stop-color="#4c26bf"/><stop offset="0.0586" stop-color="#262680"/><stop offset="0.0675" stop-color="#000000"/></linearGradient><linearGradient id="g22" x1="0" y1="14.80" x2="0" y2="148.10" gradientUnits="userSpaceOnUse"><stop offset="0.0276" stop-color="#ffffff"/><stop offset="0.0338" stop-color="#efefad"/><stop offset="0.0371" stop-color="#e6e680"/><stop offset="0.0462" stop-color="#e6bf1a"/><stop offset="0.0553" stop-color="#e68000"/><stop offset="0.0644" stop-color="#ff4026"/><stop offset="0.0735" stop-color="#993380"/><stop offset="0.0826" stop-color="#4c26bf"/><stop offset="0.0917" stop-color="#262680"/><stop offset="0.1008" stop-color="#000000"/></linearGradient><linearGradient id="g23" x1="0" y1="14.80" x2="0" y2="148.10" gradientUnits="userSpaceOnUse"><stop offset="0.0608" stop-color="#ffffff"/><stop offset="0.0669" stop-color="#efefad"/><stop offset="0.0702" stop-color="#e6e680"/><stop offset="0.0793" stop-color="#e6bf1a"/><stop offset="0.0884" stop-color="#e68000"/><stop offset="0.0975" stop-color="#ff4026"/><stop offset="0.1066" stop-color="#993380"/><stop offset="0.1162" stop-color="#4c26bf"/><stop offset="0.1280" stop-color="#262680"/><stop offset="0.1395" stop-color="#000000"/></linearGradient><linearGradient id="g24" x1="0" y1="14.80" x2="0" y2="148.10" gradientUnits="userSpaceOnUse"><stop offset="0.0940" stop-color="#ffffff"/><stop offset="0.1000" stop-color="#efefad"/><stop offset="0.1033" stop-color="#e6e680"/><stop offset="0.1124" stop-color="#e6bf1a"/><stop offset="0.1237" stop-color="#e68000"/><stop offset="0.1355" stop-color="#ff4026"/><stop offset="0.1473" stop-color="#993380"/><stop offset="0.1590" stop-color="#4c26bf"/><stop offset="0.1708" stop-color="#262680"/><stop offset="0.1826" stop-color="#000000"/></linearGradient><linearGradient id="g25" x1="0" y1="14.80" x2="0" y2="148.10" gradientUnits="userSpaceOnUse"><stop offset="0.1310" stop-color="#ffffff"/><stop offset="0.1387" stop-color="#efefad"/><stop offset="0.1430" stop-color="#e6e680"/><stop offset="0.1548" stop-color="#e6bf1a"/><stop offset="0.1665" stop-color="#e68000"/><stop offset="0.1783" stop-color="#ff4026"/><stop offset="0.1901" stop-color="#993380"/><stop offset="0.2019" stop-color="#4c26bf"/><stop offset="0.2137" stop-color="#262680"/><stop offset="0.2256" stop-color="#000000"/></linearGradient><linearGradient id="g26" x1="0" y1="14.80" x2="0" y2="148.10" gradientUnits="userSpaceOnUse"><stop offset="0.1743" stop-color="#ffffff"/><stop offset="0.1816" stop-color="#efefad"/><stop offset="0.1858" stop-color="#e6e680"/><stop offset="0.1976" stop-color="#e6bf1a"/><stop offset="0.2094" stop-color="#e68000"/><stop offset="0.2212" stop-color="#ff4026"/><stop offset="0.2330" stop-color="#993380"/><stop offset="0.2448" stop-color="#4c26bf"/><stop offset="0.2566" stop-color="#262680"/><stop offset="0.2682" stop-color="#000000"/></linearGradient><linearGradient id="g27" x1="0" y1="14.80" x2="0" y2="148.10" gradientUnits="userSpaceOnUse"><stop offset="0.2167" stop-color="#ffffff"/><stop offset="0.2245" stop-color="#efefad"/><stop offset="0.2287" stop-color="#e6e680"/><stop offset="0.2405" stop-color="#e6bf1a"/><stop offset="0.2523" stop-color="#e68000"/><stop offset="0.2641" stop-color="#ff4026"/><stop offset="0.2759" stop-color="#993380"/><stop offset="0.2876" stop-color="#4c26bf"/><stop offset="0.2994" stop-color="#262680"/><stop offset="0.3114" stop-color="#000000"/></linearGradient><linearGradient id="g28" x1="0" y1="14.80" x2="0" y2="148.10" gradientUnits="userSpaceOnUse"><stop offset="0.2599" stop-color="#ffffff"/><stop offset="0.2673" stop-color="#efefad"/><stop offset="0.2716" stop-color="#e6e680"/><stop offset="0.2834" stop-color="#e6bf1a"/><stop offset="0.2951" stop-color="#e68000"/><stop offset="0.3069" stop-color="#ff4026"/><stop offset="0.3187" stop-color="#993380"/><stop offset="0.3305" stop-color="#4c26bf"/><stop offset="0.3423" stop-color="#262680"/><stop offset="0.3538" stop-color="#000000"/></linearGradient><linearGradient id="g29" x1="0" y1="14.80" x2="0" y2="148.10" gradientUnits="userSpaceOnUse"><stop offset="0.3026" stop-color="#ffffff"/><stop offset="0.3102" stop-color="#efefad"/><stop offset="0.3144" stop-color="#e6e680"/><stop offset="0.3262" stop-color="#e6bf1a"/><stop offset="0.3380" stop-color="#e68000"/><stop offset="0.3498" stop-color="#ff4026"/><stop offset="0.3608" stop-color="#993380"/><stop offset="0.3715" stop-color="#4c26bf"/><stop offset="0.3821" stop-color="#262680"/><stop offset="0.3927" stop-color="#000000"/></linearGradient><linearGradient id="g2a" x1="0" y1="14.80" x2="0" y2="148.10" gradientUnits="userSpaceOnUse"><stop offset="0.3455" stop-color="#ffffff"/><stop offset="0.3531" stop-color="#efefad"/><stop offset="0.3570" stop-color="#e6e680"/><stop offset="0.3676" stop-color="#e6bf1a"/><stop offset="0.3782" stop-color="#e68000"/><stop offset="0.3888" stop-color="#ff4026"/><stop offset="0.3994" stop-color="#993380"/><stop offset="0.4100" stop-color="#4c26bf"/><stop offset="0.4206" stop-color="#262680"/><stop offset="0.4315" stop-color="#000000"/></linearGradient><linearGradient id="g2b" x1="0" y1="14.80" x2="0" y2="148.10" gradientUnits="userSpaceOnUse"><stop offset="0.3847" stop-color="#ffffff"/><stop offset="0.3917" stop-color="#efefad"/><stop offset="0.3956" stop-color="#e6e680"/><stop offset="0.4062" stop-color="#e6bf1a"/><stop offset="0.4168" stop-color="#e68000"/><stop offset="0.4274" stop-color="#ff4026"/><stop offset="0.4380" stop-color="#993380"/><stop offset="0.4486" stop-color="#4c26bf"/><stop offset="0.4592" stop-color="#262680"/><stop offset="0.4696" stop-color="#000000"/></linearGradient><linearGradient id="g2c" x1="0" y1="14.80" x2="0" y2="148.10" gradientUnits="userSpaceOnUse"><stop offset="0.4235" stop-color="#ffffff"/><stop offset="0.4303" stop-color="#efefad"/><stop offset="0.4341" stop-color="#e6e680"/><stop offset="0.4448" stop-color="#e6bf1a"/><stop offset="0.4554" stop-color="#e68000"/><stop offset="0.4660" stop-color="#ff4026"/><stop offset="0.4766" stop-color="#993380"/><stop offset="0.4872" stop-color="#4c26bf"/><stop offset="0.4979" stop-color="#262680"/><stop offset="0.5084" stop-color="#000000"/></linearGradient><linearGradient id="g2d" x1="0" y1="14.80" x2="0" y2="148.10" gradientUnits="userSpaceOnUse"><stop offset="0.4622" stop-color="#ffffff"/><stop offset="0.4689" stop-color="#efefad"/><stop offset="0.4727" stop-color="#e6e680"/><stop offset="0.4833" stop-color="#e6bf1a"/><stop offset="0.4940" stop-color="#e68000"/><stop offset="0.5046" stop-color="#ff4026"/><stop offset="0.5153" stop-color="#993380"/><stop offset="0.5260" stop-color="#4c26bf"/><stop offset="0.5367" stop-color="#262680"/><stop offset="0.5473" stop-color="#000000"/></linearGradient><linearGradient id="g2e" x1="0" y1="14.80" x2="0" y2="148.10" gradientUnits="userSpaceOnUse"><stop offset="0.4622" stop-color="#ffffff"/><stop offset="0.4833" stop-color="#efefad"/><stop offset="0.4975" stop-color="#e6e680"/><stop offset="0.5150" stop-color="#e6bf1a"/><stop offset="0.5317" stop-color="#e68000"/><stop offset="0.5434" stop-color="#ff4026"/><stop offset="0.5541" stop-color="#993380"/><stop offset="0.5648" stop-color="#4c26bf"/><stop offset="0.5755" stop-color="#262680"/><stop offset="0.5863" stop-color="#000000"/></linearGradient><linearGradient id="g2f" x1="0" y1="14.80" x2="0" y2="148.10" gradientUnits="userSpaceOnUse"><stop offset="0.4622" stop-color="#ffffff"/><stop offset="0.4833" stop-color="#efefad"/><stop offset="0.4975" stop-color="#e6e680"/><stop offset="0.5150" stop-color="#e6bf1a"/><stop offset="0.5317" stop-color="#e68000"/><stop offset="0.5501" stop-color="#ff4026"/><stop offset="0.5683" stop-color="#993380"/><stop offset="0.5906" stop-color="#4c26bf"/><stop offset="0.6152" stop-color="#262680"/><stop offset="0.6267" stop-color="#000000"/></linearGradient><linearGradient id="g2g" x1="0" y1="14.80" x2="0" y2="148.10" gradientUnits="userSpaceOnUse"><stop offset="0.4622" stop-color="#ffffff"/><stop offset="0.4833" stop-color="#efefad"/><stop offset="0.4975" stop-color="#e6e680"/><stop offset="0.5150" stop-color="#e6bf1a"/><stop offset="0.5317" stop-color="#e68000"/><stop offset="0.5501" stop-color="#ff4026"/><stop offset="0.5683" stop-color="#993380"/><stop offset="0.5906" stop-color="#4c26bf"/><stop offset="0.6192" stop-color="#262680"/><stop offset="0.6447" stop-color="#000000"/></linearGradient><linearGradient id="g2h" x1="0" y1="14.80" x2="0" y2="148.10" gradientUnits="userSpaceOnUse"><stop offset="0.4635" stop-color="#ffffff"/><stop offset="0.4849" stop-color="#efefad"/><stop offset="0.4995" stop-color="#e6e680"/><stop offset="0.5170" stop-color="#e6bf1a"/><stop offset="0.5338" stop-color="#e68000"/><stop offset="0.5524" stop-color="#ff4026"/><stop offset="0.5706" stop-color="#993380"/><stop offset="0.5935" stop-color="#4c26bf"/><stop offset="0.6236" stop-color="#262680"/><stop offset="0.6497" stop-color="#000000"/></linearGradient><linearGradient id="g2i" x1="0" y1="14.80" x2="0" y2="148.10" gradientUnits="userSpaceOnUse"><stop offset="0.4648" stop-color="#ffffff"/><stop offset="0.4865" stop-color="#efefad"/><stop offset="0.5012" stop-color="#e6e680"/><stop offset="0.5191" stop-color="#e6bf1a"/><stop offset="0.5358" stop-color="#e68000"/><stop offset="0.5546" stop-color="#ff4026"/><stop offset="0.5729" stop-color="#993380"/><stop offset="0.5963" stop-color="#4c26bf"/><stop offset="0.6280" stop-color="#262680"/><stop offset="0.6548" stop-color="#000000"/></linearGradient><linearGradient id="g2j" x1="0" y1="14.80" x2="0" y2="148.10" gradientUnits="userSpaceOnUse"><stop offset="0.4661" stop-color="#ffffff"/><stop offset="0.4880" stop-color="#efefad"/><stop offset="0.5029" stop-color="#e6e680"/><stop offset="0.5211" stop-color="#e6bf1a"/><stop offset="0.5379" stop-color="#e68000"/><stop offset="0.5569" stop-color="#ff4026"/><stop offset="0.5753" stop-color="#993380"/><stop offset="0.5991" stop-color="#4c26bf"/><stop offset="0.6324" stop-color="#262680"/><stop offset="0.6596" stop-color="#000000"/></linearGradient><linearGradient id="g2k" x1="0" y1="14.80" x2="0" y2="148.10" gradientUnits="userSpaceOnUse"><stop offset="0.4675" stop-color="#ffffff"/><stop offset="0.4896" stop-color="#efefad"/><stop offset="0.5045" stop-color="#e6e680"/><stop offset="0.5231" stop-color="#e6bf1a"/><stop offset="0.5400" stop-color="#e68000"/><stop offset="0.5591" stop-color="#ff4026"/><stop offset="0.5775" stop-color="#993380"/><stop offset="0.6018" stop-color="#4c26bf"/><stop offset="0.6367" stop-color="#262680"/><stop offset="0.6645" stop-color="#000000"/></linearGradient><linearGradient id="g2l" x1="0" y1="14.80" x2="0" y2="148.10" gradientUnits="userSpaceOnUse"><stop offset="0.4688" stop-color="#ffffff"/><stop offset="0.4911" stop-color="#efefad"/><stop offset="0.5062" stop-color="#e6e680"/><stop offset="0.5252" stop-color="#e6bf1a"/><stop offset="0.5420" stop-color="#e68000"/><stop offset="0.5613" stop-color="#ff4026"/><stop offset="0.5799" stop-color="#993380"/><stop offset="0.6046" stop-color="#4c26bf"/><stop offset="0.6410" stop-color="#262680"/><stop offset="0.6695" stop-color="#000000"/></linearGradient><linearGradient id="g2m" x1="0" y1="14.80" x2="0" y2="148.10" gradientUnits="userSpaceOnUse"><stop offset="0.4701" stop-color="#ffffff"/><stop offset="0.4927" stop-color="#efefad"/><stop offset="0.5079" stop-color="#e6e680"/><stop offset="0.5271" stop-color="#e6bf1a"/><stop offset="0.5441" stop-color="#e68000"/><stop offset="0.5635" stop-color="#ff4026"/><stop offset="0.5821" stop-color="#993380"/><stop offset="0.6074" stop-color="#4c26bf"/><stop offset="0.6453" stop-color="#262680"/><stop offset="0.6743" stop-color="#000000"/></linearGradient><linearGradient id="g2n" x1="0" y1="14.80" x2="0" y2="148.10" gradientUnits="userSpaceOnUse"><stop offset="0.4713" stop-color="#ffffff"/><stop offset="0.4942" stop-color="#efefad"/><stop offset="0.5097" stop-color="#e6e680"/><stop offset="0.5291" stop-color="#e6bf1a"/><stop offset="0.5461" stop-color="#e68000"/><stop offset="0.5657" stop-color="#ff4026"/><stop offset="0.5844" stop-color="#993380"/><stop offset="0.6101" stop-color="#4c26bf"/><stop offset="0.6494" stop-color="#262680"/><stop offset="0.6791" stop-color="#000000"/></linearGradient><linearGradient id="g2o" x1="0" y1="14.80" x2="0" y2="148.10" gradientUnits="userSpaceOnUse"><stop offset="0.4732" stop-color="#ffffff"/><stop offset="0.4964" stop-color="#efefad"/><stop offset="0.5121" stop-color="#e6e680"/><stop offset="0.5320" stop-color="#e6bf1a"/><stop offset="0.5490" stop-color="#e68000"/><stop offset="0.5690" stop-color="#ff4026"/><stop offset="0.5878" stop-color="#993380"/><stop offset="0.6141" stop-color="#4c26bf"/><stop offset="0.6557" stop-color="#262680"/><stop offset="0.6863" stop-color="#000000"/></linearGradient><linearGradient id="g2p" x1="0" y1="14.80" x2="0" y2="148.10" gradientUnits="userSpaceOnUse"><stop offset="0.4757" stop-color="#ffffff"/><stop offset="0.4994" stop-color="#efefad"/><stop offset="0.5154" stop-color="#e6e680"/><stop offset="0.5359" stop-color="#e6bf1a"/><stop offset="0.5530" stop-color="#e68000"/><stop offset="0.5732" stop-color="#ff4026"/><stop offset="0.5922" stop-color="#993380"/><stop offset="0.6194" stop-color="#4c26bf"/><stop offset="0.6637" stop-color="#262680"/><stop offset="0.6958" stop-color="#000000"/></linearGradient><linearGradient id="g2q" x1="0" y1="14.80" x2="0" y2="148.10" gradientUnits="userSpaceOnUse"><stop offset="0.4781" stop-color="#ffffff"/><stop offset="0.5023" stop-color="#efefad"/><stop offset="0.5188" stop-color="#e6e680"/><stop offset="0.5396" stop-color="#e6bf1a"/><stop offset="0.5569" stop-color="#e68000"/><stop offset="0.5774" stop-color="#ff4026"/><stop offset="0.5965" stop-color="#993380"/><stop offset="0.6247" stop-color="#4c26bf"/><stop offset="0.6716" stop-color="#262680"/><stop offset="0.7053" stop-color="#000000"/></linearGradient><linearGradient id="g2r" x1="0" y1="14.80" x2="0" y2="148.10" gradientUnits="userSpaceOnUse"><stop offset="0.4806" stop-color="#ffffff"/><stop offset="0.5052" stop-color="#efefad"/><stop offset="0.5221" stop-color="#e6e680"/><stop offset="0.5434" stop-color="#e6bf1a"/><stop offset="0.5607" stop-color="#e68000"/><stop offset="0.5815" stop-color="#ff4026"/><stop offset="0.6008" stop-color="#993380"/><stop offset="0.6298" stop-color="#4c26bf"/><stop offset="0.6794" stop-color="#262680"/><stop offset="0.7147" stop-color="#000000"/></linearGradient><linearGradient id="g2s" x1="0" y1="14.80" x2="0" y2="148.10" gradientUnits="userSpaceOnUse"><stop offset="0.4829" stop-color="#ffffff"/><stop offset="0.5080" stop-color="#efefad"/><stop offset="0.5252" stop-color="#e6e680"/><stop offset="0.5470" stop-color="#e6bf1a"/><stop offset="0.5644" stop-color="#e68000"/><stop offset="0.5856" stop-color="#ff4026"/><stop offset="0.6049" stop-color="#993380"/><stop offset="0.6347" stop-color="#4c26bf"/><stop offset="0.6870" stop-color="#262680"/><stop offset="0.7239" stop-color="#000000"/></linearGradient><linearGradient id="g2t" x1="0" y1="14.80" x2="0" y2="148.10" gradientUnits="userSpaceOnUse"><stop offset="0.4853" stop-color="#ffffff"/><stop offset="0.5108" stop-color="#efefad"/><stop offset="0.5283" stop-color="#e6e680"/><stop offset="0.5507" stop-color="#e6bf1a"/><stop offset="0.5682" stop-color="#e68000"/><stop offset="0.5896" stop-color="#ff4026"/><stop offset="0.6090" stop-color="#993380"/><stop offset="0.6398" stop-color="#4c26bf"/><stop offset="0.6944" stop-color="#262680"/><stop offset="0.7331" stop-color="#000000"/></linearGradient><linearGradient id="g2u" x1="0" y1="14.80" x2="0" y2="148.10" gradientUnits="userSpaceOnUse"><stop offset="0.4876" stop-color="#ffffff"/><stop offset="0.5136" stop-color="#efefad"/><stop offset="0.5313" stop-color="#e6e680"/><stop offset="0.5541" stop-color="#e6bf1a"/><stop offset="0.5717" stop-color="#e68000"/><stop offset="0.5935" stop-color="#ff4026"/><stop offset="0.6132" stop-color="#993380"/><stop offset="0.6447" stop-color="#4c26bf"/><stop offset="0.7016" stop-color="#262680"/><stop offset="0.7422" stop-color="#000000"/></linearGradient><linearGradient id="g2v" x1="0" y1="14.80" x2="0" y2="148.10" gradientUnits="userSpaceOnUse"><stop offset="0.4898" stop-color="#ffffff"/><stop offset="0.5162" stop-color="#efefad"/><stop offset="0.5343" stop-color="#e6e680"/><stop offset="0.5576" stop-color="#e6bf1a"/><stop offset="0.5754" stop-color="#e68000"/><stop offset="0.5974" stop-color="#ff4026"/><stop offset="0.6172" stop-color="#993380"/><stop offset="0.6494" stop-color="#4c26bf"/><stop offset="0.7086" stop-color="#262680"/><stop offset="0.7512" stop-color="#000000"/></linearGradient><linearGradient id="g2w" x1="0" y1="14.80" x2="0" y2="148.10" gradientUnits="userSpaceOnUse"><stop offset="0.4920" stop-color="#ffffff"/><stop offset="0.5189" stop-color="#efefad"/><stop offset="0.5373" stop-color="#e6e680"/><stop offset="0.5610" stop-color="#e6bf1a"/><stop offset="0.5788" stop-color="#e68000"/><stop offset="0.6012" stop-color="#ff4026"/><stop offset="0.6210" stop-color="#993380"/><stop offset="0.6540" stop-color="#4c26bf"/><stop offset="0.7156" stop-color="#262680"/><stop offset="0.7600" stop-color="#000000"/></linearGradient><linearGradient id="g2x" x1="0" y1="14.80" x2="0" y2="148.10" gradientUnits="userSpaceOnUse"><stop offset="0.4942" stop-color="#ffffff"/><stop offset="0.5215" stop-color="#efefad"/><stop offset="0.5402" stop-color="#e6e680"/><stop offset="0.5643" stop-color="#e6bf1a"/><stop offset="0.5822" stop-color="#e68000"/><stop offset="0.6049" stop-color="#ff4026"/><stop offset="0.6250" stop-color="#993380"/><stop offset="0.6586" stop-color="#4c26bf"/><stop offset="0.7222" stop-color="#262680"/><stop offset="0.7687" stop-color="#000000"/></linearGradient><linearGradient id="g2y" x1="0" y1="14.80" x2="0" y2="148.10" gradientUnits="userSpaceOnUse"><stop offset="0.4964" stop-color="#ffffff"/><stop offset="0.5241" stop-color="#efefad"/><stop offset="0.5431" stop-color="#e6e680"/><stop offset="0.5675" stop-color="#e6bf1a"/><stop offset="0.5857" stop-color="#e68000"/><stop offset="0.6086" stop-color="#ff4026"/><stop offset="0.6286" stop-color="#993380"/><stop offset="0.6631" stop-color="#4c26bf"/><stop offset="0.7288" stop-color="#262680"/><stop offset="0.7773" stop-color="#000000"/></linearGradient><linearGradient id="g2z" x1="0" y1="14.80" x2="0" y2="148.10" gradientUnits="userSpaceOnUse"><stop offset="0.4985" stop-color="#ffffff"/><stop offset="0.5265" stop-color="#efefad"/><stop offset="0.5458" stop-color="#e6e680"/><stop offset="0.5707" stop-color="#e6bf1a"/><stop offset="0.5890" stop-color="#e68000"/><stop offset="0.6122" stop-color="#ff4026"/><stop offset="0.6326" stop-color="#993380"/><stop offset="0.6676" stop-color="#4c26bf"/><stop offset="0.7352" stop-color="#262680"/><stop offset="0.7858" stop-color="#000000"/></linearGradient><linearGradient id="g210" x1="0" y1="14.80" x2="0" y2="148.10" gradientUnits="userSpaceOnUse"><stop offset="0.5006" stop-color="#ffffff"/><stop offset="0.5291" stop-color="#efefad"/><stop offset="0.5484" stop-color="#e6e680"/><stop offset="0.5739" stop-color="#e6bf1a"/><stop offset="0.5923" stop-color="#e68000"/><stop offset="0.6157" stop-color="#ff4026"/><stop offset="0.6361" stop-color="#993380"/><stop offset="0.6720" stop-color="#4c26bf"/><stop offset="0.7413" stop-color="#262680"/><stop offset="0.7941" stop-color="#000000"/></linearGradient><linearGradient id="g211" x1="0" y1="14.80" x2="0" y2="148.10" gradientUnits="userSpaceOnUse"><stop offset="0.5026" stop-color="#ffffff"/><stop offset="0.5315" stop-color="#efefad"/><stop offset="0.5511" stop-color="#e6e680"/><stop offset="0.5769" stop-color="#e6bf1a"/><stop offset="0.5954" stop-color="#e68000"/><stop offset="0.6192" stop-color="#ff4026"/><stop offset="0.6398" stop-color="#993380"/><stop offset="0.6763" stop-color="#4c26bf"/><stop offset="0.7473" stop-color="#262680"/><stop offset="0.8023" stop-color="#000000"/></linearGradient><linearGradient id="g212" x1="0" y1="14.80" x2="0" y2="148.10" gradientUnits="userSpaceOnUse"><stop offset="0.5046" stop-color="#ffffff"/><stop offset="0.5338" stop-color="#efefad"/><stop offset="0.5538" stop-color="#e6e680"/><stop offset="0.5800" stop-color="#e6bf1a"/><stop offset="0.5986" stop-color="#e68000"/><stop offset="0.6226" stop-color="#ff4026"/><stop offset="0.6433" stop-color="#993380"/><stop offset="0.6806" stop-color="#4c26bf"/><stop offset="0.7531" stop-color="#262680"/><stop offset="0.8104" stop-color="#000000"/></linearGradient><linearGradient id="g213" x1="0" y1="14.80" x2="0" y2="148.10" gradientUnits="userSpaceOnUse"><stop offset="0.5066" stop-color="#ffffff"/><stop offset="0.5362" stop-color="#efefad"/><stop offset="0.5565" stop-color="#e6e680"/><stop offset="0.5829" stop-color="#e6bf1a"/><stop offset="0.6016" stop-color="#e68000"/><stop offset="0.6259" stop-color="#ff4026"/><stop offset="0.6466" stop-color="#993380"/><stop offset="0.6846" stop-color="#4c26bf"/><stop offset="0.7587" stop-color="#262680"/><stop offset="0.8184" stop-color="#000000"/></linearGradient><linearGradient id="g214" x1="0" y1="14.80" x2="0" y2="148.10" gradientUnits="userSpaceOnUse"><stop offset="0.5085" stop-color="#ffffff"/><stop offset="0.5384" stop-color="#efefad"/><stop offset="0.5589" stop-color="#e6e680"/><stop offset="0.5858" stop-color="#e6bf1a"/><stop offset="0.6046" stop-color="#e68000"/><stop offset="0.6292" stop-color="#ff4026"/><stop offset="0.6502" stop-color="#993380"/><stop offset="0.6885" stop-color="#4c26bf"/><stop offset="0.7642" stop-color="#262680"/><stop offset="0.8263" stop-color="#000000"/></linearGradient><linearGradient id="g215" x1="0" y1="14.80" x2="0" y2="148.10" gradientUnits="userSpaceOnUse"><stop offset="0.5104" stop-color="#ffffff"/><stop offset="0.5407" stop-color="#efefad"/><stop offset="0.5614" stop-color="#e6e680"/><stop offset="0.5886" stop-color="#e6bf1a"/><stop offset="0.6076" stop-color="#e68000"/><stop offset="0.6324" stop-color="#ff4026"/><stop offset="0.6535" stop-color="#993380"/><stop offset="0.6926" stop-color="#4c26bf"/><stop offset="0.7695" stop-color="#262680"/><stop offset="0.8340" stop-color="#000000"/></linearGradient><linearGradient id="g216" x1="0" y1="14.80" x2="0" y2="148.10" gradientUnits="userSpaceOnUse"><stop offset="0.5122" stop-color="#ffffff"/><stop offset="0.5429" stop-color="#efefad"/><stop offset="0.5640" stop-color="#e6e680"/><stop offset="0.5914" stop-color="#e6bf1a"/><stop offset="0.6105" stop-color="#e68000"/><stop offset="0.6355" stop-color="#ff4026"/><stop offset="0.6568" stop-color="#993380"/><stop offset="0.6962" stop-color="#4c26bf"/><stop offset="0.7746" stop-color="#262680"/><stop offset="0.8416" stop-color="#000000"/></linearGradient><linearGradient id="g217" x1="0" y1="14.80" x2="0" y2="148.10" gradientUnits="userSpaceOnUse"><stop offset="0.5140" stop-color="#ffffff"/><stop offset="0.5450" stop-color="#efefad"/><stop offset="0.5662" stop-color="#e6e680"/><stop offset="0.5942" stop-color="#e6bf1a"/><stop offset="0.6134" stop-color="#e68000"/><stop offset="0.6386" stop-color="#ff4026"/><stop offset="0.6599" stop-color="#993380"/><stop offset="0.7002" stop-color="#4c26bf"/><stop offset="0.7795" stop-color="#262680"/><stop offset="0.8490" stop-color="#000000"/></linearGradient><linearGradient id="g218" x1="0" y1="14.80" x2="0" y2="148.10" gradientUnits="userSpaceOnUse"><stop offset="0.5158" stop-color="#ffffff"/><stop offset="0.5472" stop-color="#efefad"/><stop offset="0.5687" stop-color="#e6e680"/><stop offset="0.5967" stop-color="#e6bf1a"/><stop offset="0.6162" stop-color="#e68000"/><stop offset="0.6416" stop-color="#ff4026"/><stop offset="0.6630" stop-color="#993380"/><stop offset="0.7036" stop-color="#4c26bf"/><stop offset="0.7843" stop-color="#262680"/><stop offset="0.8561" stop-color="#000000"/></linearGradient><linearGradient id="g219" x1="0" y1="14.80" x2="0" y2="148.10" gradientUnits="userSpaceOnUse"><stop offset="0.5175" stop-color="#ffffff"/><stop offset="0.5492" stop-color="#efefad"/><stop offset="0.5708" stop-color="#e6e680"/><stop offset="0.5992" stop-color="#e6bf1a"/><stop offset="0.6189" stop-color="#e68000"/><stop offset="0.6445" stop-color="#ff4026"/><stop offset="0.6660" stop-color="#993380"/><stop offset="0.7074" stop-color="#4c26bf"/><stop offset="0.7889" stop-color="#262680"/><stop offset="0.8630" stop-color="#000000"/></linearGradient><linearGradient id="g21a" x1="0" y1="14.80" x2="0" y2="148.10" gradientUnits="userSpaceOnUse"><stop offset="0.5192" stop-color="#ffffff"/><stop offset="0.5512" stop-color="#efefad"/><stop offset="0.5732" stop-color="#e6e680"/><stop offset="0.6018" stop-color="#e6bf1a"/><stop offset="0.6215" stop-color="#e68000"/><stop offset="0.6474" stop-color="#ff4026"/><stop offset="0.6690" stop-color="#993380"/><stop offset="0.7109" stop-color="#4c26bf"/><stop offset="0.7933" stop-color="#262680"/><stop offset="0.8697" stop-color="#000000"/></linearGradient><linearGradient id="g21b" x1="0" y1="14.80" x2="0" y2="148.10" gradientUnits="userSpaceOnUse"><stop offset="0.5209" stop-color="#ffffff"/><stop offset="0.5532" stop-color="#efefad"/><stop offset="0.5752" stop-color="#e6e680"/><stop offset="0.6042" stop-color="#e6bf1a"/><stop offset="0.6241" stop-color="#e68000"/><stop offset="0.6502" stop-color="#ff4026"/><stop offset="0.6720" stop-color="#993380"/><stop offset="0.7141" stop-color="#4c26bf"/><stop offset="0.7975" stop-color="#262680"/><stop offset="0.8761" stop-color="#000000"/></linearGradient><linearGradient id="g21c" x1="0" y1="14.80" x2="0" y2="148.10" gradientUnits="userSpaceOnUse"><stop offset="0.5225" stop-color="#ffffff"/><stop offset="0.5551" stop-color="#efefad"/><stop offset="0.5776" stop-color="#e6e680"/><stop offset="0.6066" stop-color="#e6bf1a"/><stop offset="0.6267" stop-color="#e68000"/><stop offset="0.6529" stop-color="#ff4026"/><stop offset="0.6749" stop-color="#993380"/><stop offset="0.7176" stop-color="#4c26bf"/><stop offset="0.8016" stop-color="#262680"/><stop offset="0.8823" stop-color="#000000"/></linearGradient><linearGradient id="g21d" x1="0" y1="14.80" x2="0" y2="148.10" gradientUnits="userSpaceOnUse"><stop offset="0.5241" stop-color="#ffffff"/><stop offset="0.5570" stop-color="#efefad"/><stop offset="0.5795" stop-color="#e6e680"/><stop offset="0.6089" stop-color="#e6bf1a"/><stop offset="0.6291" stop-color="#e68000"/><stop offset="0.6556" stop-color="#ff4026"/><stop offset="0.6777" stop-color="#993380"/><stop offset="0.7209" stop-color="#4c26bf"/><stop offset="0.8054" stop-color="#262680"/><stop offset="0.8883" stop-color="#000000"/></linearGradient><linearGradient id="g21e" x1="0" y1="14.80" x2="0" y2="148.10" gradientUnits="userSpaceOnUse"><stop offset="0.5256" stop-color="#ffffff"/><stop offset="0.5588" stop-color="#efefad"/><stop offset="0.5815" stop-color="#e6e680"/><stop offset="0.6111" stop-color="#e6bf1a"/><stop offset="0.6315" stop-color="#e68000"/><stop offset="0.6582" stop-color="#ff4026"/><stop offset="0.6805" stop-color="#993380"/><stop offset="0.7241" stop-color="#4c26bf"/><stop offset="0.8091" stop-color="#262680"/><stop offset="0.8940" stop-color="#000000"/></linearGradient><linearGradient id="g21f" x1="0" y1="14.80" x2="0" y2="148.10" gradientUnits="userSpaceOnUse"><stop offset="0.5272" stop-color="#ffffff"/><stop offset="0.5606" stop-color="#efefad"/><stop offset="0.5837" stop-color="#e6e680"/><stop offset="0.6133" stop-color="#e6bf1a"/><stop offset="0.6339" stop-color="#e68000"/><stop offset="0.6607" stop-color="#ff4026"/><stop offset="0.6830" stop-color="#993380"/><stop offset="0.7271" stop-color="#4c26bf"/><stop offset="0.8127" stop-color="#262680"/><stop offset="0.8995" stop-color="#000000"/></linearGradient><linearGradient id="g21g" x1="0" y1="14.80" x2="0" y2="148.10" gradientUnits="userSpaceOnUse"><stop offset="0.5286" stop-color="#ffffff"/><stop offset="0.5624" stop-color="#efefad"/><stop offset="0.5854" stop-color="#e6e680"/><stop offset="0.6154" stop-color="#e6bf1a"/><stop offset="0.6361" stop-color="#e68000"/><stop offset="0.6632" stop-color="#ff4026"/><stop offset="0.6856" stop-color="#993380"/><stop offset="0.7301" stop-color="#4c26bf"/><stop offset="0.8160" stop-color="#262680"/><stop offset="0.9048" stop-color="#000000"/></linearGradient><linearGradient id="g21h" x1="0" y1="14.80" x2="0" y2="148.10" gradientUnits="userSpaceOnUse"><stop offset="0.5301" stop-color="#ffffff"/><stop offset="0.5640" stop-color="#efefad"/><stop offset="0.5872" stop-color="#e6e680"/><stop offset="0.6174" stop-color="#e6bf1a"/><stop offset="0.6384" stop-color="#e68000"/><stop offset="0.6656" stop-color="#ff4026"/><stop offset="0.6882" stop-color="#993380"/><stop offset="0.7330" stop-color="#4c26bf"/><stop offset="0.8192" stop-color="#262680"/><stop offset="0.9098" stop-color="#000000"/></linearGradient><linearGradient id="g21i" x1="0" y1="14.80" x2="0" y2="148.10" gradientUnits="userSpaceOnUse"><stop offset="0.5315" stop-color="#ffffff"/><stop offset="0.5657" stop-color="#efefad"/><stop offset="0.5891" stop-color="#e6e680"/><stop offset="0.6195" stop-color="#e6bf1a"/><stop offset="0.6405" stop-color="#e68000"/><stop offset="0.6679" stop-color="#ff4026"/><stop offset="0.6906" stop-color="#993380"/><stop offset="0.7358" stop-color="#4c26bf"/><stop offset="0.8224" stop-color="#262680"/><stop offset="0.9146" stop-color="#000000"/></linearGradient><linearGradient id="g21j" x1="0" y1="14.80" x2="0" y2="148.10" gradientUnits="userSpaceOnUse"><stop offset="0.5328" stop-color="#ffffff"/><stop offset="0.5673" stop-color="#efefad"/><stop offset="0.5911" stop-color="#e6e680"/><stop offset="0.6214" stop-color="#e6bf1a"/><stop offset="0.6426" stop-color="#e68000"/><stop offset="0.6702" stop-color="#ff4026"/><stop offset="0.6930" stop-color="#993380"/><stop offset="0.7385" stop-color="#4c26bf"/><stop offset="0.8254" stop-color="#262680"/><stop offset="0.9192" stop-color="#000000"/></linearGradient><linearGradient id="g21k" x1="0" y1="14.80" x2="0" y2="148.10" gradientUnits="userSpaceOnUse"><stop offset="0.5341" stop-color="#ffffff"/><stop offset="0.5689" stop-color="#efefad"/><stop offset="0.5927" stop-color="#e6e680"/><stop offset="0.6232" stop-color="#e6bf1a"/><stop offset="0.6447" stop-color="#e68000"/><stop offset="0.6724" stop-color="#ff4026"/><stop offset="0.6954" stop-color="#993380"/><stop offset="0.7411" stop-color="#4c26bf"/><stop offset="0.8284" stop-color="#262680"/><stop offset="0.9235" stop-color="#000000"/></linearGradient><linearGradient id="g21l" x1="0" y1="14.80" x2="0" y2="148.10" gradientUnits="userSpaceOnUse"><stop offset="0.5354" stop-color="#ffffff"/><stop offset="0.5704" stop-color="#efefad"/><stop offset="0.5943" stop-color="#e6e680"/><stop offset="0.6250" stop-color="#e6bf1a"/><stop offset="0.6466" stop-color="#e68000"/><stop offset="0.6745" stop-color="#ff4026"/><stop offset="0.6975" stop-color="#993380"/><stop offset="0.7438" stop-color="#4c26bf"/><stop offset="0.8312" stop-color="#262680"/><stop offset="0.9276" stop-color="#000000"/></linearGradient><linearGradient id="g21m" x1="0" y1="14.80" x2="0" y2="148.10" gradientUnits="userSpaceOnUse"><stop offset="0.5367" stop-color="#ffffff"/><stop offset="0.5718" stop-color="#efefad"/><stop offset="0.5959" stop-color="#e6e680"/><stop offset="0.6268" stop-color="#e6bf1a"/><stop offset="0.6486" stop-color="#e68000"/><stop offset="0.6767" stop-color="#ff4026"/><stop offset="0.6998" stop-color="#993380"/><stop offset="0.7463" stop-color="#4c26bf"/><stop offset="0.8340" stop-color="#262680"/><stop offset="0.9315" stop-color="#000000"/></linearGradient><linearGradient id="g21n" x1="0" y1="14.80" x2="0" y2="148.10" gradientUnits="userSpaceOnUse"><stop offset="0.5379" stop-color="#ffffff"/><stop offset="0.5732" stop-color="#efefad"/><stop offset="0.5975" stop-color="#e6e680"/><stop offset="0.6285" stop-color="#e6bf1a"/><stop offset="0.6504" stop-color="#e68000"/><stop offset="0.6786" stop-color="#ff4026"/><stop offset="0.7019" stop-color="#993380"/><stop offset="0.7486" stop-color="#4c26bf"/><stop offset="0.8366" stop-color="#262680"/><stop offset="0.9351" stop-color="#000000"/></linearGradient><linearGradient id="g21o" x1="0" y1="14.80" x2="0" y2="148.10" gradientUnits="userSpaceOnUse"><stop offset="0.5390" stop-color="#ffffff"/><stop offset="0.5746" stop-color="#efefad"/><stop offset="0.5990" stop-color="#e6e680"/><stop offset="0.6301" stop-color="#e6bf1a"/><stop offset="0.6522" stop-color="#e68000"/><stop offset="0.6805" stop-color="#ff4026"/><stop offset="0.7038" stop-color="#993380"/><stop offset="0.7511" stop-color="#4c26bf"/><stop offset="0.8391" stop-color="#262680"/><stop offset="0.9385" stop-color="#000000"/></linearGradient><linearGradient id="g21p" x1="0" y1="14.80" x2="0" y2="148.10" gradientUnits="userSpaceOnUse"><stop offset="0.5402" stop-color="#ffffff"/><stop offset="0.5760" stop-color="#efefad"/><stop offset="0.6005" stop-color="#e6e680"/><stop offset="0.6316" stop-color="#e6bf1a"/><stop offset="0.6539" stop-color="#e68000"/><stop offset="0.6825" stop-color="#ff4026"/><stop offset="0.7060" stop-color="#993380"/><stop offset="0.7532" stop-color="#4c26bf"/><stop offset="0.8416" stop-color="#262680"/><stop offset="0.9417" stop-color="#000000"/></linearGradient><linearGradient id="g21q" x1="0" y1="14.80" x2="0" y2="148.10" gradientUnits="userSpaceOnUse"><stop offset="0.5413" stop-color="#ffffff"/><stop offset="0.5773" stop-color="#efefad"/><stop offset="0.6019" stop-color="#e6e680"/><stop offset="0.6331" stop-color="#e6bf1a"/><stop offset="0.6556" stop-color="#e68000"/><stop offset="0.6843" stop-color="#ff4026"/><stop offset="0.7078" stop-color="#993380"/><stop offset="0.7556" stop-color="#4c26bf"/><stop offset="0.8439" stop-color="#262680"/><stop offset="0.9446" stop-color="#000000"/></linearGradient><linearGradient id="g21r" x1="0" y1="14.80" x2="0" y2="148.10" gradientUnits="userSpaceOnUse"><stop offset="0.5423" stop-color="#ffffff"/><stop offset="0.5785" stop-color="#efefad"/><stop offset="0.6033" stop-color="#e6e680"/><stop offset="0.6345" stop-color="#e6bf1a"/><stop offset="0.6572" stop-color="#e68000"/><stop offset="0.6860" stop-color="#ff4026"/><stop offset="0.7096" stop-color="#993380"/><stop offset="0.7576" stop-color="#4c26bf"/><stop offset="0.8461" stop-color="#262680"/><stop offset="0.9473" stop-color="#000000"/></linearGradient><linearGradient id="g21s" x1="0" y1="14.80" x2="0" y2="148.10" gradientUnits="userSpaceOnUse"><stop offset="0.5434" stop-color="#ffffff"/><stop offset="0.5797" stop-color="#efefad"/><stop offset="0.6047" stop-color="#e6e680"/><stop offset="0.6358" stop-color="#e6bf1a"/><stop offset="0.6587" stop-color="#e68000"/><stop offset="0.6876" stop-color="#ff4026"/><stop offset="0.7113" stop-color="#993380"/><stop offset="0.7598" stop-color="#4c26bf"/><stop offset="0.8483" stop-color="#262680"/><stop offset="0.9498" stop-color="#000000"/></linearGradient><linearGradient id="g21t" x1="0" y1="14.80" x2="0" y2="148.10" gradientUnits="userSpaceOnUse"><stop offset="0.5443" stop-color="#ffffff"/><stop offset="0.5809" stop-color="#efefad"/><stop offset="0.6060" stop-color="#e6e680"/><stop offset="0.6370" stop-color="#e6bf1a"/><stop offset="0.6602" stop-color="#e68000"/><stop offset="0.6892" stop-color="#ff4026"/><stop offset="0.7132" stop-color="#993380"/><stop offset="0.7617" stop-color="#4c26bf"/><stop offset="0.8503" stop-color="#262680"/><stop offset="0.9520" stop-color="#000000"/></linearGradient><linearGradient id="g21u" x1="0" y1="14.80" x2="0" y2="148.10" gradientUnits="userSpaceOnUse"><stop offset="0.5453" stop-color="#ffffff"/><stop offset="0.5820" stop-color="#efefad"/><stop offset="0.6071" stop-color="#e6e680"/><stop offset="0.6383" stop-color="#e6bf1a"/><stop offset="0.6616" stop-color="#e68000"/><stop offset="0.6908" stop-color="#ff4026"/><stop offset="0.7149" stop-color="#993380"/><stop offset="0.7635" stop-color="#4c26bf"/><stop offset="0.8522" stop-color="#262680"/><stop offset="0.9540" stop-color="#000000"/></linearGradient><linearGradient id="g21v" x1="0" y1="14.80" x2="0" y2="148.10" gradientUnits="userSpaceOnUse"><stop offset="0.5462" stop-color="#ffffff"/><stop offset="0.5831" stop-color="#efefad"/><stop offset="0.6082" stop-color="#e6e680"/><stop offset="0.6394" stop-color="#e6bf1a"/><stop offset="0.6630" stop-color="#e68000"/><stop offset="0.6923" stop-color="#ff4026"/><stop offset="0.7165" stop-color="#993380"/><stop offset="0.7652" stop-color="#4c26bf"/><stop offset="0.8541" stop-color="#262680"/><stop offset="0.9558" stop-color="#000000"/></linearGradient><linearGradient id="g21w" x1="0" y1="14.80" x2="0" y2="148.10" gradientUnits="userSpaceOnUse"><stop offset="0.5471" stop-color="#ffffff"/><stop offset="0.5841" stop-color="#efefad"/><stop offset="0.6094" stop-color="#e6e680"/><stop offset="0.6406" stop-color="#e6bf1a"/><stop offset="0.6644" stop-color="#e68000"/><stop offset="0.6937" stop-color="#ff4026"/><stop offset="0.7180" stop-color="#993380"/><stop offset="0.7671" stop-color="#4c26bf"/><stop offset="0.8558" stop-color="#262680"/><stop offset="0.9573" stop-color="#000000"/></linearGradient><linearGradient id="g21x" x1="0" y1="14.80" x2="0" y2="148.10" gradientUnits="userSpaceOnUse"><stop offset="0.5479" stop-color="#ffffff"/><stop offset="0.5850" stop-color="#efefad"/><stop offset="0.6107" stop-color="#e6e680"/><stop offset="0.6415" stop-color="#e6bf1a"/><stop offset="0.6656" stop-color="#e68000"/><stop offset="0.6950" stop-color="#ff4026"/><stop offset="0.7194" stop-color="#993380"/><stop offset="0.7688" stop-color="#4c26bf"/><stop offset="0.8575" stop-color="#262680"/><stop offset="0.9586" stop-color="#000000"/></linearGradient><linearGradient id="g21y" x1="0" y1="14.80" x2="0" y2="148.10" gradientUnits="userSpaceOnUse"><stop offset="0.5487" stop-color="#ffffff"/><stop offset="0.5860" stop-color="#efefad"/><stop offset="0.6114" stop-color="#e6e680"/><stop offset="0.6425" stop-color="#e6bf1a"/><stop offset="0.6668" stop-color="#e68000"/><stop offset="0.6963" stop-color="#ff4026"/><stop offset="0.7208" stop-color="#993380"/><stop offset="0.7704" stop-color="#4c26bf"/><stop offset="0.8590" stop-color="#262680"/><stop offset="0.9598" stop-color="#000000"/></linearGradient><linearGradient id="g21z" x1="0" y1="14.80" x2="0" y2="148.10" gradientUnits="userSpaceOnUse"><stop offset="0.5495" stop-color="#ffffff"/><stop offset="0.5868" stop-color="#efefad"/><stop offset="0.6124" stop-color="#e6e680"/><stop offset="0.6434" stop-color="#e6bf1a"/><stop offset="0.6679" stop-color="#e68000"/><stop offset="0.6975" stop-color="#ff4026"/><stop offset="0.7220" stop-color="#993380"/><stop offset="0.7719" stop-color="#4c26bf"/><stop offset="0.8604" stop-color="#262680"/><stop offset="0.9611" stop-color="#000000"/></linearGradient><linearGradient id="g220" x1="0" y1="14.80" x2="0" y2="148.10" gradientUnits="userSpaceOnUse"><stop offset="0.5502" stop-color="#ffffff"/><stop offset="0.5877" stop-color="#efefad"/><stop offset="0.6134" stop-color="#e6e680"/><stop offset="0.6442" stop-color="#e6bf1a"/><stop offset="0.6690" stop-color="#e68000"/><stop offset="0.6986" stop-color="#ff4026"/><stop offset="0.7231" stop-color="#993380"/><stop offset="0.7733" stop-color="#4c26bf"/><stop offset="0.8618" stop-color="#262680"/><stop offset="0.9624" stop-color="#000000"/></linearGradient><linearGradient id="g221" x1="0" y1="14.80" x2="0" y2="148.10" gradientUnits="userSpaceOnUse"><stop offset="0.5509" stop-color="#ffffff"/><stop offset="0.5884" stop-color="#efefad"/><stop offset="0.6141" stop-color="#e6e680"/><stop offset="0.6450" stop-color="#e6bf1a"/><stop offset="0.6700" stop-color="#e68000"/><stop offset="0.6997" stop-color="#ff4026"/><stop offset="0.7245" stop-color="#993380"/><stop offset="0.7745" stop-color="#4c26bf"/><stop offset="0.8630" stop-color="#262680"/><stop offset="0.9638" stop-color="#000000"/></linearGradient><linearGradient id="g222" x1="0" y1="14.80" x2="0" y2="148.10" gradientUnits="userSpaceOnUse"><stop offset="0.5515" stop-color="#ffffff"/><stop offset="0.5892" stop-color="#efefad"/><stop offset="0.6152" stop-color="#e6e680"/><stop offset="0.6457" stop-color="#e6bf1a"/><stop offset="0.6709" stop-color="#e68000"/><stop offset="0.7008" stop-color="#ff4026"/><stop offset="0.7257" stop-color="#993380"/><stop offset="0.7757" stop-color="#4c26bf"/><stop offset="0.8641" stop-color="#262680"/><stop offset="0.9652" stop-color="#000000"/></linearGradient><linearGradient id="g223" x1="0" y1="14.80" x2="0" y2="148.10" gradientUnits="userSpaceOnUse"><stop offset="0.5521" stop-color="#ffffff"/><stop offset="0.5899" stop-color="#efefad"/><stop offset="0.6157" stop-color="#e6e680"/><stop offset="0.6464" stop-color="#e6bf1a"/><stop offset="0.6718" stop-color="#e68000"/><stop offset="0.7017" stop-color="#ff4026"/><stop offset="0.7266" stop-color="#993380"/><stop offset="0.7770" stop-color="#4c26bf"/><stop offset="0.8652" stop-color="#262680"/><stop offset="0.9667" stop-color="#000000"/></linearGradient><linearGradient id="g224" x1="0" y1="14.80" x2="0" y2="148.10" gradientUnits="userSpaceOnUse"><stop offset="0.5527" stop-color="#ffffff"/><stop offset="0.5906" stop-color="#efefad"/><stop offset="0.6167" stop-color="#e6e680"/><stop offset="0.6469" stop-color="#e6bf1a"/><stop offset="0.6727" stop-color="#e68000"/><stop offset="0.7025" stop-color="#ff4026"/><stop offset="0.7275" stop-color="#993380"/><stop offset="0.7782" stop-color="#4c26bf"/><stop offset="0.8661" stop-color="#262680"/><stop offset="0.9682" stop-color="#000000"/></linearGradient><linearGradient id="g225" x1="0" y1="14.80" x2="0" y2="148.10" gradientUnits="userSpaceOnUse"><stop offset="0.5532" stop-color="#ffffff"/><stop offset="0.5911" stop-color="#efefad"/><stop offset="0.6170" stop-color="#e6e680"/><stop offset="0.6474" stop-color="#e6bf1a"/><stop offset="0.6734" stop-color="#e68000"/><stop offset="0.7034" stop-color="#ff4026"/><stop offset="0.7286" stop-color="#993380"/><stop offset="0.7791" stop-color="#4c26bf"/><stop offset="0.8669" stop-color="#262680"/><stop offset="0.9698" stop-color="#000000"/></linearGradient><linearGradient id="g226" x1="0" y1="14.80" x2="0" y2="148.10" gradientUnits="userSpaceOnUse"><stop offset="0.5537" stop-color="#ffffff"/><stop offset="0.5917" stop-color="#efefad"/><stop offset="0.6178" stop-color="#e6e680"/><stop offset="0.6479" stop-color="#e6bf1a"/><stop offset="0.6741" stop-color="#e68000"/><stop offset="0.7041" stop-color="#ff4026"/><stop offset="0.7292" stop-color="#993380"/><stop offset="0.7800" stop-color="#4c26bf"/><stop offset="0.8677" stop-color="#262680"/><stop offset="0.9714" stop-color="#000000"/></linearGradient><linearGradient id="g227" x1="0" y1="14.80" x2="0" y2="148.10" gradientUnits="userSpaceOnUse"><stop offset="0.5542" stop-color="#ffffff"/><stop offset="0.5922" stop-color="#efefad"/><stop offset="0.6183" stop-color="#e6e680"/><stop offset="0.6483" stop-color="#e6bf1a"/><stop offset="0.6747" stop-color="#e68000"/><stop offset="0.7048" stop-color="#ff4026"/><stop offset="0.7302" stop-color="#993380"/><stop offset="0.7810" stop-color="#4c26bf"/><stop offset="0.8683" stop-color="#262680"/><stop offset="0.9731" stop-color="#000000"/></linearGradient><linearGradient id="g228" x1="0" y1="14.80" x2="0" y2="148.10" gradientUnits="userSpaceOnUse"><stop offset="0.5546" stop-color="#ffffff"/><stop offset="0.5927" stop-color="#efefad"/><stop offset="0.6187" stop-color="#e6e680"/><stop offset="0.6486" stop-color="#e6bf1a"/><stop offset="0.6753" stop-color="#e68000"/><stop offset="0.7054" stop-color="#ff4026"/><stop offset="0.7307" stop-color="#993380"/><stop offset="0.7816" stop-color="#4c26bf"/><stop offset="0.8688" stop-color="#262680"/><stop offset="0.9748" stop-color="#000000"/></linearGradient><linearGradient id="g229" x1="0" y1="14.80" x2="0" y2="148.10" gradientUnits="userSpaceOnUse"><stop offset="0.5550" stop-color="#ffffff"/><stop offset="0.5931" stop-color="#efefad"/><stop offset="0.6193" stop-color="#e6e680"/><stop offset="0.6488" stop-color="#e6bf1a"/><stop offset="0.6758" stop-color="#e68000"/><stop offset="0.7059" stop-color="#ff4026"/><stop offset="0.7316" stop-color="#993380"/><stop offset="0.7825" stop-color="#4c26bf"/><stop offset="0.8693" stop-color="#262680"/><stop offset="0.9766" stop-color="#000000"/></linearGradient><linearGradient id="g22a" x1="0" y1="14.80" x2="0" y2="148.10" gradientUnits="userSpaceOnUse"><stop offset="0.5553" stop-color="#ffffff"/><stop offset="0.5935" stop-color="#efefad"/><stop offset="0.6198" stop-color="#e6e680"/><stop offset="0.6490" stop-color="#e6bf1a"/><stop offset="0.6763" stop-color="#e68000"/><stop offset="0.7064" stop-color="#ff4026"/><stop offset="0.7320" stop-color="#993380"/><stop offset="0.7830" stop-color="#4c26bf"/><stop offset="0.8696" stop-color="#262680"/><stop offset="0.9784" stop-color="#000000"/></linearGradient><linearGradient id="g22b" x1="0" y1="14.80" x2="0" y2="148.10" gradientUnits="userSpaceOnUse"><stop offset="0.5556" stop-color="#ffffff"/><stop offset="0.5938" stop-color="#efefad"/><stop offset="0.6200" stop-color="#e6e680"/><stop offset="0.6492" stop-color="#e6bf1a"/><stop offset="0.6766" stop-color="#e68000"/><stop offset="0.7068" stop-color="#ff4026"/><stop offset="0.7325" stop-color="#993380"/><stop offset="0.7836" stop-color="#4c26bf"/><stop offset="0.8698" stop-color="#262680"/><stop offset="0.9803" stop-color="#000000"/></linearGradient><linearGradient id="g22c" x1="0" y1="14.80" x2="0" y2="148.10" gradientUnits="userSpaceOnUse"><stop offset="0.5559" stop-color="#ffffff"/><stop offset="0.5941" stop-color="#efefad"/><stop offset="0.6202" stop-color="#e6e680"/><stop offset="0.6492" stop-color="#e6bf1a"/><stop offset="0.6770" stop-color="#e68000"/><stop offset="0.7072" stop-color="#ff4026"/><stop offset="0.7331" stop-color="#993380"/><stop offset="0.7841" stop-color="#4c26bf"/><stop offset="0.8699" stop-color="#262680"/><stop offset="0.9822" stop-color="#000000"/></linearGradient><linearGradient id="g22d" x1="0" y1="14.80" x2="0" y2="148.10" gradientUnits="userSpaceOnUse"><stop offset="0.5561" stop-color="#ffffff"/><stop offset="0.5944" stop-color="#efefad"/><stop offset="0.6205" stop-color="#e6e680"/><stop offset="0.6492" stop-color="#e6bf1a"/><stop offset="0.6773" stop-color="#e68000"/><stop offset="0.7074" stop-color="#ff4026"/><stop offset="0.7334" stop-color="#993380"/><stop offset="0.7845" stop-color="#4c26bf"/><stop offset="0.8700" stop-color="#262680"/><stop offset="0.9842" stop-color="#000000"/></linearGradient><linearGradient id="g22e" x1="0" y1="14.80" x2="0" y2="148.10" gradientUnits="userSpaceOnUse"><stop offset="0.5563" stop-color="#ffffff"/><stop offset="0.5946" stop-color="#efefad"/><stop offset="0.6208" stop-color="#e6e680"/><stop offset="0.6492" stop-color="#e6bf1a"/><stop offset="0.6775" stop-color="#e68000"/><stop offset="0.7077" stop-color="#ff4026"/><stop offset="0.7336" stop-color="#993380"/><stop offset="0.7847" stop-color="#4c26bf"/><stop offset="0.8699" stop-color="#262680"/><stop offset="0.9862" stop-color="#000000"/></linearGradient><linearGradient id="g22f" x1="0" y1="14.80" x2="0" y2="148.10" gradientUnits="userSpaceOnUse"><stop offset="0.5565" stop-color="#ffffff"/><stop offset="0.5947" stop-color="#efefad"/><stop offset="0.6211" stop-color="#e6e680"/><stop offset="0.6490" stop-color="#e6bf1a"/><stop offset="0.6776" stop-color="#e68000"/><stop offset="0.7078" stop-color="#ff4026"/><stop offset="0.7338" stop-color="#993380"/><stop offset="0.7850" stop-color="#4c26bf"/><stop offset="0.8698" stop-color="#262680"/><stop offset="0.9883" stop-color="#000000"/></linearGradient><linearGradient id="g22g" x1="0" y1="14.80" x2="0" y2="148.10" gradientUnits="userSpaceOnUse"><stop offset="0.5566" stop-color="#ffffff"/><stop offset="0.5948" stop-color="#efefad"/><stop offset="0.6212" stop-color="#e6e680"/><stop offset="0.6488" stop-color="#e6bf1a"/><stop offset="0.6777" stop-color="#e68000"/><stop offset="0.7079" stop-color="#ff4026"/><stop offset="0.7341" stop-color="#993380"/><stop offset="0.7852" stop-color="#4c26bf"/><stop offset="0.8698" stop-color="#262680"/><stop offset="0.9905" stop-color="#000000"/></linearGradient><linearGradient id="g22h" x1="0" y1="14.80" x2="0" y2="148.10" gradientUnits="userSpaceOnUse"><stop offset="0.5567" stop-color="#ffffff"/><stop offset="0.5949" stop-color="#efefad"/><stop offset="0.6212" stop-color="#e6e680"/><stop offset="0.6486" stop-color="#e6bf1a"/><stop offset="0.6777" stop-color="#e68000"/><stop offset="0.7079" stop-color="#ff4026"/><stop offset="0.7342" stop-color="#993380"/><stop offset="0.7853" stop-color="#4c26bf"/><stop offset="0.8700" stop-color="#262680"/><stop offset="0.9927" stop-color="#000000"/></linearGradient><linearGradient id="g22i" x1="0" y1="14.80" x2="0" y2="148.10" gradientUnits="userSpaceOnUse"><stop offset="0.5567" stop-color="#ffffff"/><stop offset="0.5949" stop-color="#efefad"/><stop offset="0.6212" stop-color="#e6e680"/><stop offset="0.6482" stop-color="#e6bf1a"/><stop offset="0.6777" stop-color="#e68000"/><stop offset="0.7079" stop-color="#ff4026"/><stop offset="0.7343" stop-color="#993380"/><stop offset="0.7853" stop-color="#4c26bf"/><stop offset="0.8705" stop-color="#262680"/><stop offset="0.9949" stop-color="#000000"/></linearGradient><linearGradient id="g22j" x1="0" y1="14.80" x2="0" y2="148.10" gradientUnits="userSpaceOnUse"><stop offset="0.5567" stop-color="#ffffff"/><stop offset="0.5949" stop-color="#efefad"/><stop offset="0.6212" stop-color="#e6e680"/><stop offset="0.6479" stop-color="#e6bf1a"/><stop offset="0.6776" stop-color="#e68000"/><stop offset="0.7077" stop-color="#ff4026"/><stop offset="0.7342" stop-color="#993380"/><stop offset="0.7853" stop-color="#4c26bf"/><stop offset="0.8712" stop-color="#262680"/><stop offset="0.9973" stop-color="#000000"/></linearGradient><linearGradient id="g22k" x1="0" y1="14.80" x2="0" y2="148.10" gradientUnits="userSpaceOnUse"><stop offset="0.5567" stop-color="#ffffff"/><stop offset="0.5948" stop-color="#efefad"/><stop offset="0.6211" stop-color="#e6e680"/><stop offset="0.6474" stop-color="#e6bf1a"/><stop offset="0.6774" stop-color="#e68000"/><stop offset="0.7075" stop-color="#ff4026"/><stop offset="0.7341" stop-color="#993380"/><stop offset="0.7851" stop-color="#4c26bf"/><stop offset="0.8719" stop-color="#262680"/><stop offset="0.9996" stop-color="#000000"/></linearGradient><linearGradient id="g22l" x1="0" y1="14.80" x2="0" y2="148.10" gradientUnits="userSpaceOnUse"><stop offset="0.5566" stop-color="#ffffff"/><stop offset="0.5947" stop-color="#efefad"/><stop offset="0.6207" stop-color="#e6e680"/><stop offset="0.6469" stop-color="#e6bf1a"/><stop offset="0.6772" stop-color="#e68000"/><stop offset="0.7073" stop-color="#ff4026"/><stop offset="0.7338" stop-color="#993380"/><stop offset="0.7847" stop-color="#4c26bf"/><stop offset="0.8730" stop-color="#262680"/><stop offset="1.0021" stop-color="#000000"/></linearGradient><linearGradient id="g22m" x1="0" y1="14.80" x2="0" y2="148.10" gradientUnits="userSpaceOnUse"><stop offset="0.5565" stop-color="#ffffff"/><stop offset="0.5945" stop-color="#efefad"/><stop offset="0.6204" stop-color="#e6e680"/><stop offset="0.6463" stop-color="#e6bf1a"/><stop offset="0.6770" stop-color="#e68000"/><stop offset="0.7070" stop-color="#ff4026"/><stop offset="0.7336" stop-color="#993380"/><stop offset="0.7845" stop-color="#4c26bf"/><stop offset="0.8743" stop-color="#262680"/><stop offset="1.0046" stop-color="#000000"/></linearGradient><linearGradient id="g22n" x1="0" y1="14.80" x2="0" y2="148.10" gradientUnits="userSpaceOnUse"><stop offset="0.5564" stop-color="#ffffff"/><stop offset="0.5943" stop-color="#efefad"/><stop offset="0.6201" stop-color="#e6e680"/><stop offset="0.6457" stop-color="#e6bf1a"/><stop offset="0.6766" stop-color="#e68000"/><stop offset="0.7066" stop-color="#ff4026"/><stop offset="0.7334" stop-color="#993380"/><stop offset="0.7842" stop-color="#4c26bf"/><stop offset="0.8757" stop-color="#262680"/><stop offset="1.0075" stop-color="#000000"/></linearGradient><clipPath id="cp3"><rect x="37.55" y="182.20" width="173.95" height="133.30"/></clipPath><linearGradient id="g30" x1="0" y1="182.20" x2="0" y2="315.50" gradientUnits="userSpaceOnUse"><stop offset="-0.0075" stop-color="#ffffff"/><stop offset="-0.0075" stop-color="#efefad"/><stop offset="-0.0075" stop-color="#e6e680"/><stop offset="-0.0075" stop-color="#e6bf1a"/><stop offset="-0.0075" stop-color="#e68000"/><stop offset="-0.0075" stop-color="#ff4026"/><stop offset="-0.0075" stop-color="#993380"/><stop offset="-0.0075" stop-color="#4c26bf"/><stop offset="0.0142" stop-color="#262680"/><stop offset="0.0311" stop-color="#000000"/></linearGradient><linearGradient id="g31" x1="0" y1="182.20" x2="0" y2="315.50" gradientUnits="userSpaceOnUse"><stop offset="-0.0075" stop-color="#ffffff"/><stop offset="-0.0075" stop-color="#efefad"/><stop offset="-0.0075" stop-color="#e6e680"/><stop offset="-0.0075" stop-color="#e6bf1a"/><stop offset="0.0079" stop-color="#e68000"/><stop offset="0.0252" stop-color="#ff4026"/><stop offset="0.0426" stop-color="#993380"/><stop offset="0.0599" stop-color="#4c26bf"/><stop offset="0.0773" stop-color="#262680"/><stop offset="0.0942" stop-color="#000000"/></linearGradient><linearGradient id="g32" x1="0" y1="182.20" x2="0" y2="315.50" gradientUnits="userSpaceOnUse"><stop offset="0.0191" stop-color="#ffffff"/><stop offset="0.0300" stop-color="#efefad"/><stop offset="0.0363" stop-color="#e6e680"/><stop offset="0.0536" stop-color="#e6bf1a"/><stop offset="0.0710" stop-color="#e68000"/><stop offset="0.0883" stop-color="#ff4026"/><stop offset="0.1057" stop-color="#993380"/><stop offset="0.1230" stop-color="#4c26bf"/><stop offset="0.1404" stop-color="#262680"/><stop offset="0.1573" stop-color="#000000"/></linearGradient><linearGradient id="g33" x1="0" y1="182.20" x2="0" y2="315.50" gradientUnits="userSpaceOnUse"><stop offset="0.0823" stop-color="#ffffff"/><stop offset="0.0931" stop-color="#efefad"/><stop offset="0.0994" stop-color="#e6e680"/><stop offset="0.1167" stop-color="#e6bf1a"/><stop offset="0.1341" stop-color="#e68000"/><stop offset="0.1514" stop-color="#ff4026"/><stop offset="0.1688" stop-color="#993380"/><stop offset="0.1861" stop-color="#4c26bf"/><stop offset="0.2035" stop-color="#262680"/><stop offset="0.2204" stop-color="#000000"/></linearGradient><linearGradient id="g34" x1="0" y1="182.20" x2="0" y2="315.50" gradientUnits="userSpaceOnUse"><stop offset="0.1455" stop-color="#ffffff"/><stop offset="0.1562" stop-color="#efefad"/><stop offset="0.1625" stop-color="#e6e680"/><stop offset="0.1798" stop-color="#e6bf1a"/><stop offset="0.1972" stop-color="#e68000"/><stop offset="0.2145" stop-color="#ff4026"/><stop offset="0.2319" stop-color="#993380"/><stop offset="0.2486" stop-color="#4c26bf"/><stop offset="0.2623" stop-color="#262680"/><stop offset="0.2757" stop-color="#000000"/></linearGradient><linearGradient id="g35" x1="0" y1="182.20" x2="0" y2="315.50" gradientUnits="userSpaceOnUse"><stop offset="0.2086" stop-color="#ffffff"/><stop offset="0.2193" stop-color="#efefad"/><stop offset="0.2256" stop-color="#e6e680"/><stop offset="0.2429" stop-color="#e6bf1a"/><stop offset="0.2573" stop-color="#e68000"/><stop offset="0.2711" stop-color="#ff4026"/><stop offset="0.2848" stop-color="#993380"/><stop offset="0.2986" stop-color="#4c26bf"/><stop offset="0.3123" stop-color="#262680"/><stop offset="0.3261" stop-color="#000000"/></linearGradient><linearGradient id="g36" x1="0" y1="182.20" x2="0" y2="315.50" gradientUnits="userSpaceOnUse"><stop offset="0.2661" stop-color="#ffffff"/><stop offset="0.2749" stop-color="#efefad"/><stop offset="0.2798" stop-color="#e6e680"/><stop offset="0.2936" stop-color="#e6bf1a"/><stop offset="0.3073" stop-color="#e68000"/><stop offset="0.3211" stop-color="#ff4026"/><stop offset="0.3348" stop-color="#993380"/><stop offset="0.3486" stop-color="#4c26bf"/><stop offset="0.3623" stop-color="#262680"/><stop offset="0.3761" stop-color="#000000"/></linearGradient><linearGradient id="g37" x1="0" y1="182.20" x2="0" y2="315.50" gradientUnits="userSpaceOnUse"><stop offset="0.3161" stop-color="#ffffff"/><stop offset="0.3249" stop-color="#efefad"/><stop offset="0.3298" stop-color="#e6e680"/><stop offset="0.3436" stop-color="#e6bf1a"/><stop offset="0.3573" stop-color="#e68000"/><stop offset="0.3711" stop-color="#ff4026"/><stop offset="0.3848" stop-color="#993380"/><stop offset="0.3983" stop-color="#4c26bf"/><stop offset="0.4104" stop-color="#262680"/><stop offset="0.4227" stop-color="#000000"/></linearGradient><linearGradient id="g38" x1="0" y1="182.20" x2="0" y2="315.50" gradientUnits="userSpaceOnUse"><stop offset="0.3664" stop-color="#ffffff"/><stop offset="0.3749" stop-color="#efefad"/><stop offset="0.3798" stop-color="#e6e680"/><stop offset="0.3936" stop-color="#e6bf1a"/><stop offset="0.4060" stop-color="#e68000"/><stop offset="0.4182" stop-color="#ff4026"/><stop offset="0.4303" stop-color="#993380"/><stop offset="0.4424" stop-color="#4c26bf"/><stop offset="0.4546" stop-color="#262680"/><stop offset="0.4664" stop-color="#000000"/></linearGradient><linearGradient id="g39" x1="0" y1="182.20" x2="0" y2="315.50" gradientUnits="userSpaceOnUse"><stop offset="0.4138" stop-color="#ffffff"/><stop offset="0.4215" stop-color="#efefad"/><stop offset="0.4259" stop-color="#e6e680"/><stop offset="0.4380" stop-color="#e6bf1a"/><stop offset="0.4502" stop-color="#e68000"/><stop offset="0.4623" stop-color="#ff4026"/><stop offset="0.4744" stop-color="#993380"/><stop offset="0.4866" stop-color="#4c26bf"/><stop offset="0.4987" stop-color="#262680"/><stop offset="0.5110" stop-color="#000000"/></linearGradient><linearGradient id="g3a" x1="0" y1="182.20" x2="0" y2="315.50" gradientUnits="userSpaceOnUse"><stop offset="0.4580" stop-color="#ffffff"/><stop offset="0.4656" stop-color="#efefad"/><stop offset="0.4700" stop-color="#e6e680"/><stop offset="0.4821" stop-color="#e6bf1a"/><stop offset="0.4943" stop-color="#e68000"/><stop offset="0.5064" stop-color="#ff4026"/><stop offset="0.5186" stop-color="#993380"/><stop offset="0.5307" stop-color="#4c26bf"/><stop offset="0.5428" stop-color="#262680"/><stop offset="0.5548" stop-color="#000000"/></linearGradient><linearGradient id="g3b" x1="0" y1="182.20" x2="0" y2="315.50" gradientUnits="userSpaceOnUse"><stop offset="0.4959" stop-color="#ffffff"/><stop offset="0.5018" stop-color="#efefad"/><stop offset="0.5108" stop-color="#e6e680"/><stop offset="0.5258" stop-color="#e6bf1a"/><stop offset="0.5326" stop-color="#e68000"/><stop offset="0.5417" stop-color="#ff4026"/><stop offset="0.5491" stop-color="#993380"/><stop offset="0.5565" stop-color="#4c26bf"/><stop offset="0.5673" stop-color="#262680"/><stop offset="0.5785" stop-color="#000000"/></linearGradient><linearGradient id="g3c" x1="0" y1="182.20" x2="0" y2="315.50" gradientUnits="userSpaceOnUse"><stop offset="0.4984" stop-color="#ffffff"/><stop offset="0.5041" stop-color="#efefad"/><stop offset="0.5148" stop-color="#e6e680"/><stop offset="0.5302" stop-color="#e6bf1a"/><stop offset="0.5381" stop-color="#e68000"/><stop offset="0.5472" stop-color="#ff4026"/><stop offset="0.5545" stop-color="#993380"/><stop offset="0.5621" stop-color="#4c26bf"/><stop offset="0.5728" stop-color="#262680"/><stop offset="0.5834" stop-color="#000000"/></linearGradient><linearGradient id="g3d" x1="0" y1="182.20" x2="0" y2="315.50" gradientUnits="userSpaceOnUse"><stop offset="0.5000" stop-color="#ffffff"/><stop offset="0.5070" stop-color="#efefad"/><stop offset="0.5187" stop-color="#e6e680"/><stop offset="0.5344" stop-color="#e6bf1a"/><stop offset="0.5435" stop-color="#e68000"/><stop offset="0.5525" stop-color="#ff4026"/><stop offset="0.5599" stop-color="#993380"/><stop offset="0.5673" stop-color="#4c26bf"/><stop offset="0.5783" stop-color="#262680"/><stop offset="0.5891" stop-color="#000000"/></linearGradient><linearGradient id="g3e" x1="0" y1="182.20" x2="0" y2="315.50" gradientUnits="userSpaceOnUse"><stop offset="0.5019" stop-color="#ffffff"/><stop offset="0.5097" stop-color="#efefad"/><stop offset="0.5224" stop-color="#e6e680"/><stop offset="0.5387" stop-color="#e6bf1a"/><stop offset="0.5487" stop-color="#e68000"/><stop offset="0.5578" stop-color="#ff4026"/><stop offset="0.5651" stop-color="#993380"/><stop offset="0.5726" stop-color="#4c26bf"/><stop offset="0.5836" stop-color="#262680"/><stop offset="0.5939" stop-color="#000000"/></linearGradient><linearGradient id="g3f" x1="0" y1="182.20" x2="0" y2="315.50" gradientUnits="userSpaceOnUse"><stop offset="0.5043" stop-color="#ffffff"/><stop offset="0.5121" stop-color="#efefad"/><stop offset="0.5261" stop-color="#e6e680"/><stop offset="0.5426" stop-color="#e6bf1a"/><stop offset="0.5539" stop-color="#e68000"/><stop offset="0.5629" stop-color="#ff4026"/><stop offset="0.5702" stop-color="#993380"/><stop offset="0.5776" stop-color="#4c26bf"/><stop offset="0.5887" stop-color="#262680"/><stop offset="0.5986" stop-color="#000000"/></linearGradient><linearGradient id="g3g" x1="0" y1="182.20" x2="0" y2="315.50" gradientUnits="userSpaceOnUse"><stop offset="0.5060" stop-color="#ffffff"/><stop offset="0.5145" stop-color="#efefad"/><stop offset="0.5298" stop-color="#e6e680"/><stop offset="0.5465" stop-color="#e6bf1a"/><stop offset="0.5588" stop-color="#e68000"/><stop offset="0.5679" stop-color="#ff4026"/><stop offset="0.5752" stop-color="#993380"/><stop offset="0.5827" stop-color="#4c26bf"/><stop offset="0.5938" stop-color="#262680"/><stop offset="0.6040" stop-color="#000000"/></linearGradient><linearGradient id="g3h" x1="0" y1="182.20" x2="0" y2="315.50" gradientUnits="userSpaceOnUse"><stop offset="0.5077" stop-color="#ffffff"/><stop offset="0.5172" stop-color="#efefad"/><stop offset="0.5331" stop-color="#e6e680"/><stop offset="0.5503" stop-color="#e6bf1a"/><stop offset="0.5636" stop-color="#e68000"/><stop offset="0.5728" stop-color="#ff4026"/><stop offset="0.5801" stop-color="#993380"/><stop offset="0.5876" stop-color="#4c26bf"/><stop offset="0.5987" stop-color="#262680"/><stop offset="0.6087" stop-color="#000000"/></linearGradient><linearGradient id="g3i" x1="0" y1="182.20" x2="0" y2="315.50" gradientUnits="userSpaceOnUse"><stop offset="0.5097" stop-color="#ffffff"/><stop offset="0.5193" stop-color="#efefad"/><stop offset="0.5366" stop-color="#e6e680"/><stop offset="0.5540" stop-color="#e6bf1a"/><stop offset="0.5683" stop-color="#e68000"/><stop offset="0.5776" stop-color="#ff4026"/><stop offset="0.5848" stop-color="#993380"/><stop offset="0.5923" stop-color="#4c26bf"/><stop offset="0.6034" stop-color="#262680"/><stop offset="0.6132" stop-color="#000000"/></linearGradient><linearGradient id="g3j" x1="0" y1="182.20" x2="0" y2="315.50" gradientUnits="userSpaceOnUse"><stop offset="0.5124" stop-color="#ffffff"/><stop offset="0.5232" stop-color="#efefad"/><stop offset="0.5417" stop-color="#e6e680"/><stop offset="0.5594" stop-color="#e6bf1a"/><stop offset="0.5750" stop-color="#e68000"/><stop offset="0.5844" stop-color="#ff4026"/><stop offset="0.5917" stop-color="#993380"/><stop offset="0.5992" stop-color="#4c26bf"/><stop offset="0.6102" stop-color="#262680"/><stop offset="0.6194" stop-color="#000000"/></linearGradient><linearGradient id="g3k" x1="0" y1="182.20" x2="0" y2="315.50" gradientUnits="userSpaceOnUse"><stop offset="0.5165" stop-color="#ffffff"/><stop offset="0.5277" stop-color="#efefad"/><stop offset="0.5478" stop-color="#e6e680"/><stop offset="0.5662" stop-color="#e6bf1a"/><stop offset="0.5837" stop-color="#e68000"/><stop offset="0.5931" stop-color="#ff4026"/><stop offset="0.6005" stop-color="#993380"/><stop offset="0.6078" stop-color="#4c26bf"/><stop offset="0.6189" stop-color="#262680"/><stop offset="0.6282" stop-color="#000000"/></linearGradient><linearGradient id="g3l" x1="0" y1="182.20" x2="0" y2="315.50" gradientUnits="userSpaceOnUse"><stop offset="0.5198" stop-color="#ffffff"/><stop offset="0.5321" stop-color="#efefad"/><stop offset="0.5538" stop-color="#e6e680"/><stop offset="0.5727" stop-color="#e6bf1a"/><stop offset="0.5915" stop-color="#e68000"/><stop offset="0.6014" stop-color="#ff4026"/><stop offset="0.6089" stop-color="#993380"/><stop offset="0.6162" stop-color="#4c26bf"/><stop offset="0.6271" stop-color="#262680"/><stop offset="0.6358" stop-color="#000000"/></linearGradient><linearGradient id="g3m" x1="0" y1="182.20" x2="0" y2="315.50" gradientUnits="userSpaceOnUse"><stop offset="0.5235" stop-color="#ffffff"/><stop offset="0.5362" stop-color="#efefad"/><stop offset="0.5595" stop-color="#e6e680"/><stop offset="0.5787" stop-color="#e6bf1a"/><stop offset="0.5989" stop-color="#e68000"/><stop offset="0.6092" stop-color="#ff4026"/><stop offset="0.6168" stop-color="#993380"/><stop offset="0.6240" stop-color="#4c26bf"/><stop offset="0.6347" stop-color="#262680"/><stop offset="0.6433" stop-color="#000000"/></linearGradient><linearGradient id="g3n" x1="0" y1="182.20" x2="0" y2="315.50" gradientUnits="userSpaceOnUse"><stop offset="0.5270" stop-color="#ffffff"/><stop offset="0.5401" stop-color="#efefad"/><stop offset="0.5644" stop-color="#e6e680"/><stop offset="0.5843" stop-color="#e6bf1a"/><stop offset="0.6057" stop-color="#e68000"/><stop offset="0.6164" stop-color="#ff4026"/><stop offset="0.6242" stop-color="#993380"/><stop offset="0.6313" stop-color="#4c26bf"/><stop offset="0.6416" stop-color="#262680"/><stop offset="0.6495" stop-color="#000000"/></linearGradient><linearGradient id="g3o" x1="0" y1="182.20" x2="0" y2="315.50" gradientUnits="userSpaceOnUse"><stop offset="0.5303" stop-color="#ffffff"/><stop offset="0.5442" stop-color="#efefad"/><stop offset="0.5691" stop-color="#e6e680"/><stop offset="0.5894" stop-color="#e6bf1a"/><stop offset="0.6121" stop-color="#e68000"/><stop offset="0.6231" stop-color="#ff4026"/><stop offset="0.6311" stop-color="#993380"/><stop offset="0.6382" stop-color="#4c26bf"/><stop offset="0.6481" stop-color="#262680"/><stop offset="0.6561" stop-color="#000000"/></linearGradient><linearGradient id="g3p" x1="0" y1="182.20" x2="0" y2="315.50" gradientUnits="userSpaceOnUse"><stop offset="0.5335" stop-color="#ffffff"/><stop offset="0.5476" stop-color="#efefad"/><stop offset="0.5735" stop-color="#e6e680"/><stop offset="0.5942" stop-color="#e6bf1a"/><stop offset="0.6176" stop-color="#e68000"/><stop offset="0.6293" stop-color="#ff4026"/><stop offset="0.6376" stop-color="#993380"/><stop offset="0.6446" stop-color="#4c26bf"/><stop offset="0.6540" stop-color="#262680"/><stop offset="0.6615" stop-color="#000000"/></linearGradient><linearGradient id="g3q" x1="0" y1="182.20" x2="0" y2="315.50" gradientUnits="userSpaceOnUse"><stop offset="0.5368" stop-color="#ffffff"/><stop offset="0.5514" stop-color="#efefad"/><stop offset="0.5778" stop-color="#e6e680"/><stop offset="0.5986" stop-color="#e6bf1a"/><stop offset="0.6228" stop-color="#e68000"/><stop offset="0.6351" stop-color="#ff4026"/><stop offset="0.6436" stop-color="#993380"/><stop offset="0.6505" stop-color="#4c26bf"/><stop offset="0.6593" stop-color="#262680"/><stop offset="0.6673" stop-color="#000000"/></linearGradient><linearGradient id="g3r" x1="0" y1="182.20" x2="0" y2="315.50" gradientUnits="userSpaceOnUse"><stop offset="0.5402" stop-color="#ffffff"/><stop offset="0.5547" stop-color="#efefad"/><stop offset="0.5812" stop-color="#e6e680"/><stop offset="0.6027" stop-color="#e6bf1a"/><stop offset="0.6273" stop-color="#e68000"/><stop offset="0.6404" stop-color="#ff4026"/><stop offset="0.6490" stop-color="#993380"/><stop offset="0.6559" stop-color="#4c26bf"/><stop offset="0.6642" stop-color="#262680"/><stop offset="0.6718" stop-color="#000000"/></linearGradient><linearGradient id="g3s" x1="0" y1="182.20" x2="0" y2="315.50" gradientUnits="userSpaceOnUse"><stop offset="0.5433" stop-color="#ffffff"/><stop offset="0.5579" stop-color="#efefad"/><stop offset="0.5846" stop-color="#e6e680"/><stop offset="0.6062" stop-color="#e6bf1a"/><stop offset="0.6312" stop-color="#e68000"/><stop offset="0.6452" stop-color="#ff4026"/><stop offset="0.6542" stop-color="#993380"/><stop offset="0.6609" stop-color="#4c26bf"/><stop offset="0.6685" stop-color="#262680"/><stop offset="0.6761" stop-color="#000000"/></linearGradient><linearGradient id="g3t" x1="0" y1="182.20" x2="0" y2="315.50" gradientUnits="userSpaceOnUse"><stop offset="0.5463" stop-color="#ffffff"/><stop offset="0.5609" stop-color="#efefad"/><stop offset="0.5875" stop-color="#e6e680"/><stop offset="0.6095" stop-color="#e6bf1a"/><stop offset="0.6347" stop-color="#e68000"/><stop offset="0.6495" stop-color="#ff4026"/><stop offset="0.6588" stop-color="#993380"/><stop offset="0.6654" stop-color="#4c26bf"/><stop offset="0.6723" stop-color="#262680"/><stop offset="0.6795" stop-color="#000000"/></linearGradient><linearGradient id="g3u" x1="0" y1="182.20" x2="0" y2="315.50" gradientUnits="userSpaceOnUse"><stop offset="0.5493" stop-color="#ffffff"/><stop offset="0.5638" stop-color="#efefad"/><stop offset="0.5903" stop-color="#e6e680"/><stop offset="0.6125" stop-color="#e6bf1a"/><stop offset="0.6380" stop-color="#e68000"/><stop offset="0.6535" stop-color="#ff4026"/><stop offset="0.6633" stop-color="#993380"/><stop offset="0.6699" stop-color="#4c26bf"/><stop offset="0.6762" stop-color="#262680"/><stop offset="0.6837" stop-color="#000000"/></linearGradient><linearGradient id="g3v" x1="0" y1="182.20" x2="0" y2="315.50" gradientUnits="userSpaceOnUse"><stop offset="0.5522" stop-color="#ffffff"/><stop offset="0.5667" stop-color="#efefad"/><stop offset="0.5930" stop-color="#e6e680"/><stop offset="0.6155" stop-color="#e6bf1a"/><stop offset="0.6412" stop-color="#e68000"/><stop offset="0.6576" stop-color="#ff4026"/><stop offset="0.6678" stop-color="#993380"/><stop offset="0.6744" stop-color="#4c26bf"/><stop offset="0.6804" stop-color="#262680"/><stop offset="0.6877" stop-color="#000000"/></linearGradient><linearGradient id="g3w" x1="0" y1="182.20" x2="0" y2="315.50" gradientUnits="userSpaceOnUse"><stop offset="0.5548" stop-color="#ffffff"/><stop offset="0.5695" stop-color="#efefad"/><stop offset="0.5958" stop-color="#e6e680"/><stop offset="0.6183" stop-color="#e6bf1a"/><stop offset="0.6443" stop-color="#e68000"/><stop offset="0.6617" stop-color="#ff4026"/><stop offset="0.6722" stop-color="#993380"/><stop offset="0.6789" stop-color="#4c26bf"/><stop offset="0.6847" stop-color="#262680"/><stop offset="0.6921" stop-color="#000000"/></linearGradient><linearGradient id="g3x" x1="0" y1="182.20" x2="0" y2="315.50" gradientUnits="userSpaceOnUse"><stop offset="0.5575" stop-color="#ffffff"/><stop offset="0.5719" stop-color="#efefad"/><stop offset="0.5987" stop-color="#e6e680"/><stop offset="0.6210" stop-color="#e6bf1a"/><stop offset="0.6473" stop-color="#e68000"/><stop offset="0.6653" stop-color="#ff4026"/><stop offset="0.6764" stop-color="#993380"/><stop offset="0.6834" stop-color="#4c26bf"/><stop offset="0.6893" stop-color="#262680"/><stop offset="0.6971" stop-color="#000000"/></linearGradient><linearGradient id="g3y" x1="0" y1="182.20" x2="0" y2="315.50" gradientUnits="userSpaceOnUse"><stop offset="0.5603" stop-color="#ffffff"/><stop offset="0.5745" stop-color="#efefad"/><stop offset="0.6007" stop-color="#e6e680"/><stop offset="0.6237" stop-color="#e6bf1a"/><stop offset="0.6503" stop-color="#e68000"/><stop offset="0.6692" stop-color="#ff4026"/><stop offset="0.6805" stop-color="#993380"/><stop offset="0.6880" stop-color="#4c26bf"/><stop offset="0.6941" stop-color="#262680"/><stop offset="0.7019" stop-color="#000000"/></linearGradient><linearGradient id="g3z" x1="0" y1="182.20" x2="0" y2="315.50" gradientUnits="userSpaceOnUse"><stop offset="0.5631" stop-color="#ffffff"/><stop offset="0.5773" stop-color="#efefad"/><stop offset="0.6033" stop-color="#e6e680"/><stop offset="0.6261" stop-color="#e6bf1a"/><stop offset="0.6532" stop-color="#e68000"/><stop offset="0.6726" stop-color="#ff4026"/><stop offset="0.6846" stop-color="#993380"/><stop offset="0.6925" stop-color="#4c26bf"/><stop offset="0.6990" stop-color="#262680"/><stop offset="0.7075" stop-color="#000000"/></linearGradient><linearGradient id="g310" x1="0" y1="182.20" x2="0" y2="315.50" gradientUnits="userSpaceOnUse"><stop offset="0.5657" stop-color="#ffffff"/><stop offset="0.5797" stop-color="#efefad"/><stop offset="0.6055" stop-color="#e6e680"/><stop offset="0.6285" stop-color="#e6bf1a"/><stop offset="0.6560" stop-color="#e68000"/><stop offset="0.6762" stop-color="#ff4026"/><stop offset="0.6888" stop-color="#993380"/><stop offset="0.6971" stop-color="#4c26bf"/><stop offset="0.7042" stop-color="#262680"/><stop offset="0.7125" stop-color="#000000"/></linearGradient><linearGradient id="g311" x1="0" y1="182.20" x2="0" y2="315.50" gradientUnits="userSpaceOnUse"><stop offset="0.5679" stop-color="#ffffff"/><stop offset="0.5820" stop-color="#efefad"/><stop offset="0.6078" stop-color="#e6e680"/><stop offset="0.6307" stop-color="#e6bf1a"/><stop offset="0.6588" stop-color="#e68000"/><stop offset="0.6797" stop-color="#ff4026"/><stop offset="0.6927" stop-color="#993380"/><stop offset="0.7017" stop-color="#4c26bf"/><stop offset="0.7095" stop-color="#262680"/><stop offset="0.7185" stop-color="#000000"/></linearGradient><linearGradient id="g312" x1="0" y1="182.20" x2="0" y2="315.50" gradientUnits="userSpaceOnUse"><stop offset="0.5706" stop-color="#ffffff"/><stop offset="0.5845" stop-color="#efefad"/><stop offset="0.6098" stop-color="#e6e680"/><stop offset="0.6329" stop-color="#e6bf1a"/><stop offset="0.6614" stop-color="#e68000"/><stop offset="0.6829" stop-color="#ff4026"/><stop offset="0.6966" stop-color="#993380"/><stop offset="0.7063" stop-color="#4c26bf"/><stop offset="0.7151" stop-color="#262680"/><stop offset="0.7247" stop-color="#000000"/></linearGradient><linearGradient id="g313" x1="0" y1="182.20" x2="0" y2="315.50" gradientUnits="userSpaceOnUse"><stop offset="0.5728" stop-color="#ffffff"/><stop offset="0.5865" stop-color="#efefad"/><stop offset="0.6122" stop-color="#e6e680"/><stop offset="0.6348" stop-color="#e6bf1a"/><stop offset="0.6639" stop-color="#e68000"/><stop offset="0.6860" stop-color="#ff4026"/><stop offset="0.7005" stop-color="#993380"/><stop offset="0.7109" stop-color="#4c26bf"/><stop offset="0.7209" stop-color="#262680"/><stop offset="0.7317" stop-color="#000000"/></linearGradient><linearGradient id="g314" x1="0" y1="182.20" x2="0" y2="315.50" gradientUnits="userSpaceOnUse"><stop offset="0.5752" stop-color="#ffffff"/><stop offset="0.5890" stop-color="#efefad"/><stop offset="0.6139" stop-color="#e6e680"/><stop offset="0.6368" stop-color="#e6bf1a"/><stop offset="0.6664" stop-color="#e68000"/><stop offset="0.6890" stop-color="#ff4026"/><stop offset="0.7041" stop-color="#993380"/><stop offset="0.7155" stop-color="#4c26bf"/><stop offset="0.7269" stop-color="#262680"/><stop offset="0.7379" stop-color="#000000"/></linearGradient><linearGradient id="g315" x1="0" y1="182.20" x2="0" y2="315.50" gradientUnits="userSpaceOnUse"><stop offset="0.5773" stop-color="#ffffff"/><stop offset="0.5910" stop-color="#efefad"/><stop offset="0.6156" stop-color="#e6e680"/><stop offset="0.6386" stop-color="#e6bf1a"/><stop offset="0.6688" stop-color="#e68000"/><stop offset="0.6920" stop-color="#ff4026"/><stop offset="0.7079" stop-color="#993380"/><stop offset="0.7201" stop-color="#4c26bf"/><stop offset="0.7330" stop-color="#262680"/><stop offset="0.7452" stop-color="#000000"/></linearGradient><linearGradient id="g316" x1="0" y1="182.20" x2="0" y2="315.50" gradientUnits="userSpaceOnUse"><stop offset="0.5797" stop-color="#ffffff"/><stop offset="0.5929" stop-color="#efefad"/><stop offset="0.6176" stop-color="#e6e680"/><stop offset="0.6404" stop-color="#e6bf1a"/><stop offset="0.6712" stop-color="#e68000"/><stop offset="0.6950" stop-color="#ff4026"/><stop offset="0.7115" stop-color="#993380"/><stop offset="0.7246" stop-color="#4c26bf"/><stop offset="0.7390" stop-color="#262680"/><stop offset="0.7517" stop-color="#000000"/></linearGradient><linearGradient id="g317" x1="0" y1="182.20" x2="0" y2="315.50" gradientUnits="userSpaceOnUse"><stop offset="0.5816" stop-color="#ffffff"/><stop offset="0.5952" stop-color="#efefad"/><stop offset="0.6197" stop-color="#e6e680"/><stop offset="0.6421" stop-color="#e6bf1a"/><stop offset="0.6737" stop-color="#e68000"/><stop offset="0.6980" stop-color="#ff4026"/><stop offset="0.7151" stop-color="#993380"/><stop offset="0.7291" stop-color="#4c26bf"/><stop offset="0.7449" stop-color="#262680"/><stop offset="0.7587" stop-color="#000000"/></linearGradient><linearGradient id="g318" x1="0" y1="182.20" x2="0" y2="315.50" gradientUnits="userSpaceOnUse"><stop offset="0.5839" stop-color="#ffffff"/><stop offset="0.5970" stop-color="#efefad"/><stop offset="0.6213" stop-color="#e6e680"/><stop offset="0.6440" stop-color="#e6bf1a"/><stop offset="0.6760" stop-color="#e68000"/><stop offset="0.7009" stop-color="#ff4026"/><stop offset="0.7187" stop-color="#993380"/><stop offset="0.7335" stop-color="#4c26bf"/><stop offset="0.7507" stop-color="#262680"/><stop offset="0.7651" stop-color="#000000"/></linearGradient><linearGradient id="g319" x1="0" y1="182.20" x2="0" y2="315.50" gradientUnits="userSpaceOnUse"><stop offset="0.5858" stop-color="#ffffff"/><stop offset="0.5989" stop-color="#efefad"/><stop offset="0.6230" stop-color="#e6e680"/><stop offset="0.6458" stop-color="#e6bf1a"/><stop offset="0.6784" stop-color="#e68000"/><stop offset="0.7038" stop-color="#ff4026"/><stop offset="0.7222" stop-color="#993380"/><stop offset="0.7379" stop-color="#4c26bf"/><stop offset="0.7565" stop-color="#262680"/><stop offset="0.7721" stop-color="#000000"/></linearGradient><linearGradient id="g31a" x1="0" y1="182.20" x2="0" y2="315.50" gradientUnits="userSpaceOnUse"><stop offset="0.5877" stop-color="#ffffff"/><stop offset="0.6011" stop-color="#efefad"/><stop offset="0.6247" stop-color="#e6e680"/><stop offset="0.6476" stop-color="#e6bf1a"/><stop offset="0.6807" stop-color="#e68000"/><stop offset="0.7068" stop-color="#ff4026"/><stop offset="0.7257" stop-color="#993380"/><stop offset="0.7422" stop-color="#4c26bf"/><stop offset="0.7623" stop-color="#262680"/><stop offset="0.7784" stop-color="#000000"/></linearGradient><linearGradient id="g31b" x1="0" y1="182.20" x2="0" y2="315.50" gradientUnits="userSpaceOnUse"><stop offset="0.5899" stop-color="#ffffff"/><stop offset="0.6029" stop-color="#efefad"/><stop offset="0.6265" stop-color="#e6e680"/><stop offset="0.6493" stop-color="#e6bf1a"/><stop offset="0.6830" stop-color="#e68000"/><stop offset="0.7097" stop-color="#ff4026"/><stop offset="0.7293" stop-color="#993380"/><stop offset="0.7465" stop-color="#4c26bf"/><stop offset="0.7679" stop-color="#262680"/><stop offset="0.7851" stop-color="#000000"/></linearGradient><linearGradient id="g31c" x1="0" y1="182.20" x2="0" y2="315.50" gradientUnits="userSpaceOnUse"><stop offset="0.5917" stop-color="#ffffff"/><stop offset="0.6045" stop-color="#efefad"/><stop offset="0.6283" stop-color="#e6e680"/><stop offset="0.6510" stop-color="#e6bf1a"/><stop offset="0.6854" stop-color="#e68000"/><stop offset="0.7125" stop-color="#ff4026"/><stop offset="0.7327" stop-color="#993380"/><stop offset="0.7508" stop-color="#4c26bf"/><stop offset="0.7734" stop-color="#262680"/><stop offset="0.7916" stop-color="#000000"/></linearGradient><linearGradient id="g31d" x1="0" y1="182.20" x2="0" y2="315.50" gradientUnits="userSpaceOnUse"><stop offset="0.5933" stop-color="#ffffff"/><stop offset="0.6061" stop-color="#efefad"/><stop offset="0.6302" stop-color="#e6e680"/><stop offset="0.6527" stop-color="#e6bf1a"/><stop offset="0.6877" stop-color="#e68000"/><stop offset="0.7153" stop-color="#ff4026"/><stop offset="0.7361" stop-color="#993380"/><stop offset="0.7549" stop-color="#4c26bf"/><stop offset="0.7789" stop-color="#262680"/><stop offset="0.7977" stop-color="#000000"/></linearGradient><linearGradient id="g31e" x1="0" y1="182.20" x2="0" y2="315.50" gradientUnits="userSpaceOnUse"><stop offset="0.5951" stop-color="#ffffff"/><stop offset="0.6081" stop-color="#efefad"/><stop offset="0.6317" stop-color="#e6e680"/><stop offset="0.6545" stop-color="#e6bf1a"/><stop offset="0.6900" stop-color="#e68000"/><stop offset="0.7181" stop-color="#ff4026"/><stop offset="0.7395" stop-color="#993380"/><stop offset="0.7591" stop-color="#4c26bf"/><stop offset="0.7843" stop-color="#262680"/><stop offset="0.8040" stop-color="#000000"/></linearGradient><linearGradient id="g31f" x1="0" y1="182.20" x2="0" y2="315.50" gradientUnits="userSpaceOnUse"><stop offset="0.5970" stop-color="#ffffff"/><stop offset="0.6099" stop-color="#efefad"/><stop offset="0.6333" stop-color="#e6e680"/><stop offset="0.6563" stop-color="#e6bf1a"/><stop offset="0.6922" stop-color="#e68000"/><stop offset="0.7209" stop-color="#ff4026"/><stop offset="0.7428" stop-color="#993380"/><stop offset="0.7632" stop-color="#4c26bf"/><stop offset="0.7897" stop-color="#262680"/><stop offset="0.8103" stop-color="#000000"/></linearGradient><linearGradient id="g31g" x1="0" y1="182.20" x2="0" y2="315.50" gradientUnits="userSpaceOnUse"><stop offset="0.5988" stop-color="#ffffff"/><stop offset="0.6116" stop-color="#efefad"/><stop offset="0.6349" stop-color="#e6e680"/><stop offset="0.6580" stop-color="#e6bf1a"/><stop offset="0.6945" stop-color="#e68000"/><stop offset="0.7237" stop-color="#ff4026"/><stop offset="0.7461" stop-color="#993380"/><stop offset="0.7672" stop-color="#4c26bf"/><stop offset="0.7950" stop-color="#262680"/><stop offset="0.8167" stop-color="#000000"/></linearGradient><linearGradient id="g31h" x1="0" y1="182.20" x2="0" y2="315.50" gradientUnits="userSpaceOnUse"><stop offset="0.6004" stop-color="#ffffff"/><stop offset="0.6132" stop-color="#efefad"/><stop offset="0.6364" stop-color="#e6e680"/><stop offset="0.6597" stop-color="#e6bf1a"/><stop offset="0.6967" stop-color="#e68000"/><stop offset="0.7265" stop-color="#ff4026"/><stop offset="0.7494" stop-color="#993380"/><stop offset="0.7711" stop-color="#4c26bf"/><stop offset="0.8001" stop-color="#262680"/><stop offset="0.8228" stop-color="#000000"/></linearGradient><linearGradient id="g31i" x1="0" y1="182.20" x2="0" y2="315.50" gradientUnits="userSpaceOnUse"><stop offset="0.6019" stop-color="#ffffff"/><stop offset="0.6148" stop-color="#efefad"/><stop offset="0.6380" stop-color="#e6e680"/><stop offset="0.6614" stop-color="#e6bf1a"/><stop offset="0.6990" stop-color="#e68000"/><stop offset="0.7293" stop-color="#ff4026"/><stop offset="0.7527" stop-color="#993380"/><stop offset="0.7752" stop-color="#4c26bf"/><stop offset="0.8052" stop-color="#262680"/><stop offset="0.8288" stop-color="#000000"/></linearGradient><linearGradient id="g31j" x1="0" y1="182.20" x2="0" y2="315.50" gradientUnits="userSpaceOnUse"><stop offset="0.6035" stop-color="#ffffff"/><stop offset="0.6163" stop-color="#efefad"/><stop offset="0.6395" stop-color="#e6e680"/><stop offset="0.6630" stop-color="#e6bf1a"/><stop offset="0.7012" stop-color="#e68000"/><stop offset="0.7321" stop-color="#ff4026"/><stop offset="0.7559" stop-color="#993380"/><stop offset="0.7790" stop-color="#4c26bf"/><stop offset="0.8103" stop-color="#262680"/><stop offset="0.8348" stop-color="#000000"/></linearGradient><linearGradient id="g31k" x1="0" y1="182.20" x2="0" y2="315.50" gradientUnits="userSpaceOnUse"><stop offset="0.6049" stop-color="#ffffff"/><stop offset="0.6178" stop-color="#efefad"/><stop offset="0.6410" stop-color="#e6e680"/><stop offset="0.6646" stop-color="#e6bf1a"/><stop offset="0.7034" stop-color="#e68000"/><stop offset="0.7347" stop-color="#ff4026"/><stop offset="0.7590" stop-color="#993380"/><stop offset="0.7829" stop-color="#4c26bf"/><stop offset="0.8152" stop-color="#262680"/><stop offset="0.8407" stop-color="#000000"/></linearGradient><linearGradient id="g31l" x1="0" y1="182.20" x2="0" y2="315.50" gradientUnits="userSpaceOnUse"><stop offset="0.6063" stop-color="#ffffff"/><stop offset="0.6192" stop-color="#efefad"/><stop offset="0.6425" stop-color="#e6e680"/><stop offset="0.6663" stop-color="#e6bf1a"/><stop offset="0.7056" stop-color="#e68000"/><stop offset="0.7374" stop-color="#ff4026"/><stop offset="0.7622" stop-color="#993380"/><stop offset="0.7867" stop-color="#4c26bf"/><stop offset="0.8201" stop-color="#262680"/><stop offset="0.8466" stop-color="#000000"/></linearGradient><linearGradient id="g31m" x1="0" y1="182.20" x2="0" y2="315.50" gradientUnits="userSpaceOnUse"><stop offset="0.6077" stop-color="#ffffff"/><stop offset="0.6206" stop-color="#efefad"/><stop offset="0.6440" stop-color="#e6e680"/><stop offset="0.6680" stop-color="#e6bf1a"/><stop offset="0.7078" stop-color="#e68000"/><stop offset="0.7401" stop-color="#ff4026"/><stop offset="0.7653" stop-color="#993380"/><stop offset="0.7904" stop-color="#4c26bf"/><stop offset="0.8250" stop-color="#262680"/><stop offset="0.8522" stop-color="#000000"/></linearGradient><linearGradient id="g31n" x1="0" y1="182.20" x2="0" y2="315.50" gradientUnits="userSpaceOnUse"><stop offset="0.6088" stop-color="#ffffff"/><stop offset="0.6220" stop-color="#efefad"/><stop offset="0.6454" stop-color="#e6e680"/><stop offset="0.6697" stop-color="#e6bf1a"/><stop offset="0.7100" stop-color="#e68000"/><stop offset="0.7428" stop-color="#ff4026"/><stop offset="0.7684" stop-color="#993380"/><stop offset="0.7942" stop-color="#4c26bf"/><stop offset="0.8298" stop-color="#262680"/><stop offset="0.8579" stop-color="#000000"/></linearGradient><linearGradient id="g31o" x1="0" y1="182.20" x2="0" y2="315.50" gradientUnits="userSpaceOnUse"><stop offset="0.6100" stop-color="#ffffff"/><stop offset="0.6232" stop-color="#efefad"/><stop offset="0.6469" stop-color="#e6e680"/><stop offset="0.6714" stop-color="#e6bf1a"/><stop offset="0.7121" stop-color="#e68000"/><stop offset="0.7455" stop-color="#ff4026"/><stop offset="0.7714" stop-color="#993380"/><stop offset="0.7978" stop-color="#4c26bf"/><stop offset="0.8344" stop-color="#262680"/><stop offset="0.8636" stop-color="#000000"/></linearGradient><linearGradient id="g31p" x1="0" y1="182.20" x2="0" y2="315.50" gradientUnits="userSpaceOnUse"><stop offset="0.6113" stop-color="#ffffff"/><stop offset="0.6241" stop-color="#efefad"/><stop offset="0.6483" stop-color="#e6e680"/><stop offset="0.6730" stop-color="#e6bf1a"/><stop offset="0.7143" stop-color="#e68000"/><stop offset="0.7481" stop-color="#ff4026"/><stop offset="0.7744" stop-color="#993380"/><stop offset="0.8014" stop-color="#4c26bf"/><stop offset="0.8390" stop-color="#262680"/><stop offset="0.8693" stop-color="#000000"/></linearGradient><linearGradient id="g31q" x1="0" y1="182.20" x2="0" y2="315.50" gradientUnits="userSpaceOnUse"><stop offset="0.6126" stop-color="#ffffff"/><stop offset="0.6255" stop-color="#efefad"/><stop offset="0.6498" stop-color="#e6e680"/><stop offset="0.6746" stop-color="#e6bf1a"/><stop offset="0.7163" stop-color="#e68000"/><stop offset="0.7507" stop-color="#ff4026"/><stop offset="0.7774" stop-color="#993380"/><stop offset="0.8050" stop-color="#4c26bf"/><stop offset="0.8435" stop-color="#262680"/><stop offset="0.8748" stop-color="#000000"/></linearGradient><linearGradient id="g31r" x1="0" y1="182.20" x2="0" y2="315.50" gradientUnits="userSpaceOnUse"><stop offset="0.6137" stop-color="#ffffff"/><stop offset="0.6269" stop-color="#efefad"/><stop offset="0.6512" stop-color="#e6e680"/><stop offset="0.6762" stop-color="#e6bf1a"/><stop offset="0.7185" stop-color="#e68000"/><stop offset="0.7533" stop-color="#ff4026"/><stop offset="0.7804" stop-color="#993380"/><stop offset="0.8085" stop-color="#4c26bf"/><stop offset="0.8480" stop-color="#262680"/><stop offset="0.8802" stop-color="#000000"/></linearGradient><linearGradient id="g31s" x1="0" y1="182.20" x2="0" y2="315.50" gradientUnits="userSpaceOnUse"><stop offset="0.6145" stop-color="#ffffff"/><stop offset="0.6281" stop-color="#efefad"/><stop offset="0.6525" stop-color="#e6e680"/><stop offset="0.6778" stop-color="#e6bf1a"/><stop offset="0.7205" stop-color="#e68000"/><stop offset="0.7559" stop-color="#ff4026"/><stop offset="0.7833" stop-color="#993380"/><stop offset="0.8119" stop-color="#4c26bf"/><stop offset="0.8523" stop-color="#262680"/><stop offset="0.8857" stop-color="#000000"/></linearGradient><linearGradient id="g31t" x1="0" y1="182.20" x2="0" y2="315.50" gradientUnits="userSpaceOnUse"><stop offset="0.6157" stop-color="#ffffff"/><stop offset="0.6290" stop-color="#efefad"/><stop offset="0.6536" stop-color="#e6e680"/><stop offset="0.6793" stop-color="#e6bf1a"/><stop offset="0.7226" stop-color="#e68000"/><stop offset="0.7584" stop-color="#ff4026"/><stop offset="0.7861" stop-color="#993380"/><stop offset="0.8154" stop-color="#4c26bf"/><stop offset="0.8566" stop-color="#262680"/><stop offset="0.8910" stop-color="#000000"/></linearGradient><linearGradient id="g31u" x1="0" y1="182.20" x2="0" y2="315.50" gradientUnits="userSpaceOnUse"><stop offset="0.6167" stop-color="#ffffff"/><stop offset="0.6300" stop-color="#efefad"/><stop offset="0.6548" stop-color="#e6e680"/><stop offset="0.6809" stop-color="#e6bf1a"/><stop offset="0.7247" stop-color="#e68000"/><stop offset="0.7610" stop-color="#ff4026"/><stop offset="0.7890" stop-color="#993380"/><stop offset="0.8187" stop-color="#4c26bf"/><stop offset="0.8608" stop-color="#262680"/><stop offset="0.8963" stop-color="#000000"/></linearGradient><linearGradient id="g31v" x1="0" y1="182.20" x2="0" y2="315.50" gradientUnits="userSpaceOnUse"><stop offset="0.6174" stop-color="#ffffff"/><stop offset="0.6313" stop-color="#efefad"/><stop offset="0.6561" stop-color="#e6e680"/><stop offset="0.6824" stop-color="#e6bf1a"/><stop offset="0.7267" stop-color="#e68000"/><stop offset="0.7636" stop-color="#ff4026"/><stop offset="0.7918" stop-color="#993380"/><stop offset="0.8220" stop-color="#4c26bf"/><stop offset="0.8650" stop-color="#262680"/><stop offset="0.9015" stop-color="#000000"/></linearGradient><linearGradient id="g31w" x1="0" y1="182.20" x2="0" y2="315.50" gradientUnits="userSpaceOnUse"><stop offset="0.6184" stop-color="#ffffff"/><stop offset="0.6321" stop-color="#efefad"/><stop offset="0.6574" stop-color="#e6e680"/><stop offset="0.6839" stop-color="#e6bf1a"/><stop offset="0.7288" stop-color="#e68000"/><stop offset="0.7660" stop-color="#ff4026"/><stop offset="0.7946" stop-color="#993380"/><stop offset="0.8252" stop-color="#4c26bf"/><stop offset="0.8690" stop-color="#262680"/><stop offset="0.9067" stop-color="#000000"/></linearGradient><linearGradient id="g31x" x1="0" y1="182.20" x2="0" y2="315.50" gradientUnits="userSpaceOnUse"><stop offset="0.6190" stop-color="#ffffff"/><stop offset="0.6330" stop-color="#efefad"/><stop offset="0.6587" stop-color="#e6e680"/><stop offset="0.6855" stop-color="#e6bf1a"/><stop offset="0.7308" stop-color="#e68000"/><stop offset="0.7685" stop-color="#ff4026"/><stop offset="0.7973" stop-color="#993380"/><stop offset="0.8285" stop-color="#4c26bf"/><stop offset="0.8731" stop-color="#262680"/><stop offset="0.9117" stop-color="#000000"/></linearGradient><linearGradient id="g31y" x1="0" y1="182.20" x2="0" y2="315.50" gradientUnits="userSpaceOnUse"><stop offset="0.6200" stop-color="#ffffff"/><stop offset="0.6341" stop-color="#efefad"/><stop offset="0.6598" stop-color="#e6e680"/><stop offset="0.6870" stop-color="#e6bf1a"/><stop offset="0.7328" stop-color="#e68000"/><stop offset="0.7711" stop-color="#ff4026"/><stop offset="0.8000" stop-color="#993380"/><stop offset="0.8317" stop-color="#4c26bf"/><stop offset="0.8770" stop-color="#262680"/><stop offset="0.9168" stop-color="#000000"/></linearGradient><linearGradient id="g31z" x1="0" y1="182.20" x2="0" y2="315.50" gradientUnits="userSpaceOnUse"><stop offset="0.6204" stop-color="#ffffff"/><stop offset="0.6346" stop-color="#efefad"/><stop offset="0.6608" stop-color="#e6e680"/><stop offset="0.6885" stop-color="#e6bf1a"/><stop offset="0.7348" stop-color="#e68000"/><stop offset="0.7734" stop-color="#ff4026"/><stop offset="0.8027" stop-color="#993380"/><stop offset="0.8348" stop-color="#4c26bf"/><stop offset="0.8808" stop-color="#262680"/><stop offset="0.9217" stop-color="#000000"/></linearGradient><linearGradient id="g320" x1="0" y1="182.20" x2="0" y2="315.50" gradientUnits="userSpaceOnUse"><stop offset="0.6213" stop-color="#ffffff"/><stop offset="0.6357" stop-color="#efefad"/><stop offset="0.6620" stop-color="#e6e680"/><stop offset="0.6900" stop-color="#e6bf1a"/><stop offset="0.7368" stop-color="#e68000"/><stop offset="0.7759" stop-color="#ff4026"/><stop offset="0.8054" stop-color="#993380"/><stop offset="0.8379" stop-color="#4c26bf"/><stop offset="0.8846" stop-color="#262680"/><stop offset="0.9266" stop-color="#000000"/></linearGradient><linearGradient id="g321" x1="0" y1="182.20" x2="0" y2="315.50" gradientUnits="userSpaceOnUse"><stop offset="0.6218" stop-color="#ffffff"/><stop offset="0.6361" stop-color="#efefad"/><stop offset="0.6632" stop-color="#e6e680"/><stop offset="0.6915" stop-color="#e6bf1a"/><stop offset="0.7387" stop-color="#e68000"/><stop offset="0.7784" stop-color="#ff4026"/><stop offset="0.8080" stop-color="#993380"/><stop offset="0.8409" stop-color="#4c26bf"/><stop offset="0.8883" stop-color="#262680"/><stop offset="0.9314" stop-color="#000000"/></linearGradient><linearGradient id="g322" x1="0" y1="182.20" x2="0" y2="315.50" gradientUnits="userSpaceOnUse"><stop offset="0.6222" stop-color="#ffffff"/><stop offset="0.6372" stop-color="#efefad"/><stop offset="0.6642" stop-color="#e6e680"/><stop offset="0.6930" stop-color="#e6bf1a"/><stop offset="0.7407" stop-color="#e68000"/><stop offset="0.7807" stop-color="#ff4026"/><stop offset="0.8105" stop-color="#993380"/><stop offset="0.8439" stop-color="#4c26bf"/><stop offset="0.8919" stop-color="#262680"/><stop offset="0.9362" stop-color="#000000"/></linearGradient><linearGradient id="g323" x1="0" y1="182.20" x2="0" y2="315.50" gradientUnits="userSpaceOnUse"><stop offset="0.6229" stop-color="#ffffff"/><stop offset="0.6376" stop-color="#efefad"/><stop offset="0.6651" stop-color="#e6e680"/><stop offset="0.6945" stop-color="#e6bf1a"/><stop offset="0.7426" stop-color="#e68000"/><stop offset="0.7832" stop-color="#ff4026"/><stop offset="0.8131" stop-color="#993380"/><stop offset="0.8468" stop-color="#4c26bf"/><stop offset="0.8955" stop-color="#262680"/><stop offset="0.9409" stop-color="#000000"/></linearGradient><linearGradient id="g324" x1="0" y1="182.20" x2="0" y2="315.50" gradientUnits="userSpaceOnUse"><stop offset="0.6233" stop-color="#ffffff"/><stop offset="0.6385" stop-color="#efefad"/><stop offset="0.6663" stop-color="#e6e680"/><stop offset="0.6960" stop-color="#e6bf1a"/><stop offset="0.7445" stop-color="#e68000"/><stop offset="0.7855" stop-color="#ff4026"/><stop offset="0.8156" stop-color="#993380"/><stop offset="0.8497" stop-color="#4c26bf"/><stop offset="0.8989" stop-color="#262680"/><stop offset="0.9456" stop-color="#000000"/></linearGradient><linearGradient id="g325" x1="0" y1="182.20" x2="0" y2="315.50" gradientUnits="userSpaceOnUse"><stop offset="0.6235" stop-color="#ffffff"/><stop offset="0.6390" stop-color="#efefad"/><stop offset="0.6673" stop-color="#e6e680"/><stop offset="0.6974" stop-color="#e6bf1a"/><stop offset="0.7464" stop-color="#e68000"/><stop offset="0.7879" stop-color="#ff4026"/><stop offset="0.8181" stop-color="#993380"/><stop offset="0.8525" stop-color="#4c26bf"/><stop offset="0.9023" stop-color="#262680"/><stop offset="0.9501" stop-color="#000000"/></linearGradient><linearGradient id="g326" x1="0" y1="182.20" x2="0" y2="315.50" gradientUnits="userSpaceOnUse"><stop offset="0.6239" stop-color="#ffffff"/><stop offset="0.6392" stop-color="#efefad"/><stop offset="0.6681" stop-color="#e6e680"/><stop offset="0.6989" stop-color="#e6bf1a"/><stop offset="0.7483" stop-color="#e68000"/><stop offset="0.7902" stop-color="#ff4026"/><stop offset="0.8205" stop-color="#993380"/><stop offset="0.8552" stop-color="#4c26bf"/><stop offset="0.9057" stop-color="#262680"/><stop offset="0.9546" stop-color="#000000"/></linearGradient><linearGradient id="g327" x1="0" y1="182.20" x2="0" y2="315.50" gradientUnits="userSpaceOnUse"><stop offset="0.6243" stop-color="#ffffff"/><stop offset="0.6401" stop-color="#efefad"/><stop offset="0.6693" stop-color="#e6e680"/><stop offset="0.7003" stop-color="#e6bf1a"/><stop offset="0.7502" stop-color="#e68000"/><stop offset="0.7925" stop-color="#ff4026"/><stop offset="0.8230" stop-color="#993380"/><stop offset="0.8580" stop-color="#4c26bf"/><stop offset="0.9089" stop-color="#262680"/><stop offset="0.9591" stop-color="#000000"/></linearGradient><linearGradient id="g328" x1="0" y1="182.20" x2="0" y2="315.50" gradientUnits="userSpaceOnUse"><stop offset="0.6245" stop-color="#ffffff"/><stop offset="0.6405" stop-color="#efefad"/><stop offset="0.6700" stop-color="#e6e680"/><stop offset="0.7018" stop-color="#e6bf1a"/><stop offset="0.7521" stop-color="#e68000"/><stop offset="0.7948" stop-color="#ff4026"/><stop offset="0.8253" stop-color="#993380"/><stop offset="0.8607" stop-color="#4c26bf"/><stop offset="0.9121" stop-color="#262680"/><stop offset="0.9635" stop-color="#000000"/></linearGradient><linearGradient id="g329" x1="0" y1="182.20" x2="0" y2="315.50" gradientUnits="userSpaceOnUse"><stop offset="0.6247" stop-color="#ffffff"/><stop offset="0.6406" stop-color="#efefad"/><stop offset="0.6710" stop-color="#e6e680"/><stop offset="0.7032" stop-color="#e6bf1a"/><stop offset="0.7539" stop-color="#e68000"/><stop offset="0.7971" stop-color="#ff4026"/><stop offset="0.8277" stop-color="#993380"/><stop offset="0.8634" stop-color="#4c26bf"/><stop offset="0.9152" stop-color="#262680"/><stop offset="0.9678" stop-color="#000000"/></linearGradient><linearGradient id="g32a" x1="0" y1="182.20" x2="0" y2="315.50" gradientUnits="userSpaceOnUse"><stop offset="0.6248" stop-color="#ffffff"/><stop offset="0.6413" stop-color="#efefad"/><stop offset="0.6721" stop-color="#e6e680"/><stop offset="0.7046" stop-color="#e6bf1a"/><stop offset="0.7557" stop-color="#e68000"/><stop offset="0.7994" stop-color="#ff4026"/><stop offset="0.8300" stop-color="#993380"/><stop offset="0.8659" stop-color="#4c26bf"/><stop offset="0.9182" stop-color="#262680"/><stop offset="0.9720" stop-color="#000000"/></linearGradient><linearGradient id="g32b" x1="0" y1="182.20" x2="0" y2="315.50" gradientUnits="userSpaceOnUse"><stop offset="0.6248" stop-color="#ffffff"/><stop offset="0.6417" stop-color="#efefad"/><stop offset="0.6726" stop-color="#e6e680"/><stop offset="0.7060" stop-color="#e6bf1a"/><stop offset="0.7576" stop-color="#e68000"/><stop offset="0.8016" stop-color="#ff4026"/><stop offset="0.8323" stop-color="#993380"/><stop offset="0.8685" stop-color="#4c26bf"/><stop offset="0.9212" stop-color="#262680"/><stop offset="0.9762" stop-color="#000000"/></linearGradient><linearGradient id="g32c" x1="0" y1="182.20" x2="0" y2="315.50" gradientUnits="userSpaceOnUse"><stop offset="0.6248" stop-color="#ffffff"/><stop offset="0.6419" stop-color="#efefad"/><stop offset="0.6737" stop-color="#e6e680"/><stop offset="0.7074" stop-color="#e6bf1a"/><stop offset="0.7594" stop-color="#e68000"/><stop offset="0.8039" stop-color="#ff4026"/><stop offset="0.8345" stop-color="#993380"/><stop offset="0.8710" stop-color="#4c26bf"/><stop offset="0.9240" stop-color="#262680"/><stop offset="0.9803" stop-color="#000000"/></linearGradient><linearGradient id="g32d" x1="0" y1="182.20" x2="0" y2="315.50" gradientUnits="userSpaceOnUse"><stop offset="0.6248" stop-color="#ffffff"/><stop offset="0.6420" stop-color="#efefad"/><stop offset="0.6742" stop-color="#e6e680"/><stop offset="0.7087" stop-color="#e6bf1a"/><stop offset="0.7611" stop-color="#e68000"/><stop offset="0.8061" stop-color="#ff4026"/><stop offset="0.8367" stop-color="#993380"/><stop offset="0.8733" stop-color="#4c26bf"/><stop offset="0.9269" stop-color="#262680"/><stop offset="0.9844" stop-color="#000000"/></linearGradient><linearGradient id="g32e" x1="0" y1="182.20" x2="0" y2="315.50" gradientUnits="userSpaceOnUse"><stop offset="0.6247" stop-color="#ffffff"/><stop offset="0.6421" stop-color="#efefad"/><stop offset="0.6753" stop-color="#e6e680"/><stop offset="0.7101" stop-color="#e6bf1a"/><stop offset="0.7629" stop-color="#e68000"/><stop offset="0.8083" stop-color="#ff4026"/><stop offset="0.8389" stop-color="#993380"/><stop offset="0.8758" stop-color="#4c26bf"/><stop offset="0.9296" stop-color="#262680"/><stop offset="0.9884" stop-color="#000000"/></linearGradient><linearGradient id="g32f" x1="0" y1="182.20" x2="0" y2="315.50" gradientUnits="userSpaceOnUse"><stop offset="0.6246" stop-color="#ffffff"/><stop offset="0.6422" stop-color="#efefad"/><stop offset="0.6758" stop-color="#e6e680"/><stop offset="0.7114" stop-color="#e6bf1a"/><stop offset="0.7647" stop-color="#e68000"/><stop offset="0.8105" stop-color="#ff4026"/><stop offset="0.8411" stop-color="#993380"/><stop offset="0.8781" stop-color="#4c26bf"/><stop offset="0.9323" stop-color="#262680"/><stop offset="0.9923" stop-color="#000000"/></linearGradient><linearGradient id="g32g" x1="0" y1="182.20" x2="0" y2="315.50" gradientUnits="userSpaceOnUse"><stop offset="0.6244" stop-color="#ffffff"/><stop offset="0.6425" stop-color="#efefad"/><stop offset="0.6767" stop-color="#e6e680"/><stop offset="0.7127" stop-color="#e6bf1a"/><stop offset="0.7665" stop-color="#e68000"/><stop offset="0.8126" stop-color="#ff4026"/><stop offset="0.8431" stop-color="#993380"/><stop offset="0.8804" stop-color="#4c26bf"/><stop offset="0.9348" stop-color="#262680"/><stop offset="0.9962" stop-color="#000000"/></linearGradient><linearGradient id="g32h" x1="0" y1="182.20" x2="0" y2="315.50" gradientUnits="userSpaceOnUse"><stop offset="0.6241" stop-color="#ffffff"/><stop offset="0.6427" stop-color="#efefad"/><stop offset="0.6772" stop-color="#e6e680"/><stop offset="0.7140" stop-color="#e6bf1a"/><stop offset="0.7682" stop-color="#e68000"/><stop offset="0.8148" stop-color="#ff4026"/><stop offset="0.8452" stop-color="#993380"/><stop offset="0.8827" stop-color="#4c26bf"/><stop offset="0.9373" stop-color="#262680"/><stop offset="1.0001" stop-color="#000000"/></linearGradient><linearGradient id="g32i" x1="0" y1="182.20" x2="0" y2="315.50" gradientUnits="userSpaceOnUse"><stop offset="0.6237" stop-color="#ffffff"/><stop offset="0.6428" stop-color="#efefad"/><stop offset="0.6782" stop-color="#e6e680"/><stop offset="0.7154" stop-color="#e6bf1a"/><stop offset="0.7699" stop-color="#e68000"/><stop offset="0.8169" stop-color="#ff4026"/><stop offset="0.8473" stop-color="#993380"/><stop offset="0.8849" stop-color="#4c26bf"/><stop offset="0.9397" stop-color="#262680"/><stop offset="1.0039" stop-color="#000000"/></linearGradient><linearGradient id="g32j" x1="0" y1="182.20" x2="0" y2="315.50" gradientUnits="userSpaceOnUse"><stop offset="0.6234" stop-color="#ffffff"/><stop offset="0.6427" stop-color="#efefad"/><stop offset="0.6786" stop-color="#e6e680"/><stop offset="0.7168" stop-color="#e6bf1a"/><stop offset="0.7716" stop-color="#e68000"/><stop offset="0.8191" stop-color="#ff4026"/><stop offset="0.8492" stop-color="#993380"/><stop offset="0.8870" stop-color="#4c26bf"/><stop offset="0.9421" stop-color="#262680"/><stop offset="1.0075" stop-color="#000000"/></linearGradient><linearGradient id="g32k" x1="0" y1="182.20" x2="0" y2="315.50" gradientUnits="userSpaceOnUse"><stop offset="0.6231" stop-color="#ffffff"/><stop offset="0.6426" stop-color="#efefad"/><stop offset="0.6794" stop-color="#e6e680"/><stop offset="0.7181" stop-color="#e6bf1a"/><stop offset="0.7733" stop-color="#e68000"/><stop offset="0.8211" stop-color="#ff4026"/><stop offset="0.8513" stop-color="#993380"/><stop offset="0.8892" stop-color="#4c26bf"/><stop offset="0.9444" stop-color="#262680"/><stop offset="1.0075" stop-color="#000000"/></linearGradient><linearGradient id="g32l" x1="0" y1="182.20" x2="0" y2="315.50" gradientUnits="userSpaceOnUse"><stop offset="0.6226" stop-color="#ffffff"/><stop offset="0.6424" stop-color="#efefad"/><stop offset="0.6799" stop-color="#e6e680"/><stop offset="0.7194" stop-color="#e6bf1a"/><stop offset="0.7750" stop-color="#e68000"/><stop offset="0.8232" stop-color="#ff4026"/><stop offset="0.8532" stop-color="#993380"/><stop offset="0.8911" stop-color="#4c26bf"/><stop offset="0.9465" stop-color="#262680"/><stop offset="1.0075" stop-color="#000000"/></linearGradient><clipPath id="cp4"><rect x="240.15" y="182.20" width="173.95" height="133.30"/></clipPath><clipPath id="cp5"><rect x="442.95" y="182.20" width="173.95" height="133.30"/></clipPath><linearGradient id="g50" x1="0" y1="182.20" x2="0" y2="315.50" gradientUnits="userSpaceOnUse"><stop offset="-0.0075" stop-color="#ffffff"/><stop offset="-0.0075" stop-color="#efefad"/><stop offset="-0.0075" stop-color="#e6e680"/><stop offset="-0.0075" stop-color="#e6bf1a"/><stop offset="-0.0075" stop-color="#e68000"/><stop offset="-0.0075" stop-color="#ff4026"/><stop offset="-0.0075" stop-color="#993380"/><stop offset="-0.0075" stop-color="#4c26bf"/><stop offset="0.0042" stop-color="#262680"/><stop offset="0.0169" stop-color="#000000"/></linearGradient><linearGradient id="g51" x1="0" y1="182.20" x2="0" y2="315.50" gradientUnits="userSpaceOnUse"><stop offset="-0.0075" stop-color="#ffffff"/><stop offset="-0.0075" stop-color="#efefad"/><stop offset="-0.0075" stop-color="#e6e680"/><stop offset="-0.0075" stop-color="#e6bf1a"/><stop offset="0.0099" stop-color="#e68000"/><stop offset="0.0226" stop-color="#ff4026"/><stop offset="0.0352" stop-color="#993380"/><stop offset="0.0479" stop-color="#4c26bf"/><stop offset="0.0606" stop-color="#262680"/><stop offset="0.0732" stop-color="#000000"/></linearGradient><linearGradient id="g52" x1="0" y1="182.20" x2="0" y2="315.50" gradientUnits="userSpaceOnUse"><stop offset="0.0285" stop-color="#ffffff"/><stop offset="0.0363" stop-color="#efefad"/><stop offset="0.0409" stop-color="#e6e680"/><stop offset="0.0536" stop-color="#e6bf1a"/><stop offset="0.0663" stop-color="#e68000"/><stop offset="0.0789" stop-color="#ff4026"/><stop offset="0.0916" stop-color="#993380"/><stop offset="0.1043" stop-color="#4c26bf"/><stop offset="0.1170" stop-color="#262680"/><stop offset="0.1298" stop-color="#000000"/></linearGradient><linearGradient id="g53" x1="0" y1="182.20" x2="0" y2="315.50" gradientUnits="userSpaceOnUse"><stop offset="0.0845" stop-color="#ffffff"/><stop offset="0.0927" stop-color="#efefad"/><stop offset="0.0973" stop-color="#e6e680"/><stop offset="0.1100" stop-color="#e6bf1a"/><stop offset="0.1226" stop-color="#e68000"/><stop offset="0.1353" stop-color="#ff4026"/><stop offset="0.1480" stop-color="#993380"/><stop offset="0.1607" stop-color="#4c26bf"/><stop offset="0.1734" stop-color="#262680"/><stop offset="0.1848" stop-color="#000000"/></linearGradient><linearGradient id="g54" x1="0" y1="182.20" x2="0" y2="315.50" gradientUnits="userSpaceOnUse"><stop offset="0.1413" stop-color="#ffffff"/><stop offset="0.1491" stop-color="#efefad"/><stop offset="0.1536" stop-color="#e6e680"/><stop offset="0.1663" stop-color="#e6bf1a"/><stop offset="0.1786" stop-color="#e68000"/><stop offset="0.1899" stop-color="#ff4026"/><stop offset="0.2012" stop-color="#993380"/><stop offset="0.2125" stop-color="#4c26bf"/><stop offset="0.2239" stop-color="#262680"/><stop offset="0.2352" stop-color="#000000"/></linearGradient><linearGradient id="g55" x1="0" y1="182.20" x2="0" y2="315.50" gradientUnits="userSpaceOnUse"><stop offset="0.1952" stop-color="#ffffff"/><stop offset="0.2022" stop-color="#efefad"/><stop offset="0.2063" stop-color="#e6e680"/><stop offset="0.2176" stop-color="#e6bf1a"/><stop offset="0.2289" stop-color="#e68000"/><stop offset="0.2402" stop-color="#ff4026"/><stop offset="0.2516" stop-color="#993380"/><stop offset="0.2629" stop-color="#4c26bf"/><stop offset="0.2742" stop-color="#262680"/><stop offset="0.2857" stop-color="#000000"/></linearGradient><linearGradient id="g56" x1="0" y1="182.20" x2="0" y2="315.50" gradientUnits="userSpaceOnUse"><stop offset="0.2451" stop-color="#ffffff"/><stop offset="0.2525" stop-color="#efefad"/><stop offset="0.2566" stop-color="#e6e680"/><stop offset="0.2679" stop-color="#e6bf1a"/><stop offset="0.2793" stop-color="#e68000"/><stop offset="0.2906" stop-color="#ff4026"/><stop offset="0.3019" stop-color="#993380"/><stop offset="0.3132" stop-color="#4c26bf"/><stop offset="0.3246" stop-color="#262680"/><stop offset="0.3358" stop-color="#000000"/></linearGradient><linearGradient id="g57" x1="0" y1="182.20" x2="0" y2="315.50" gradientUnits="userSpaceOnUse"><stop offset="0.2959" stop-color="#ffffff"/><stop offset="0.3029" stop-color="#efefad"/><stop offset="0.3069" stop-color="#e6e680"/><stop offset="0.3183" stop-color="#e6bf1a"/><stop offset="0.3296" stop-color="#e68000"/><stop offset="0.3409" stop-color="#ff4026"/><stop offset="0.3522" stop-color="#993380"/><stop offset="0.3636" stop-color="#4c26bf"/><stop offset="0.3747" stop-color="#262680"/><stop offset="0.3854" stop-color="#000000"/></linearGradient><linearGradient id="g58" x1="0" y1="182.20" x2="0" y2="315.50" gradientUnits="userSpaceOnUse"><stop offset="0.3457" stop-color="#ffffff"/><stop offset="0.3532" stop-color="#efefad"/><stop offset="0.3573" stop-color="#e6e680"/><stop offset="0.3685" stop-color="#e6bf1a"/><stop offset="0.3796" stop-color="#e68000"/><stop offset="0.3906" stop-color="#ff4026"/><stop offset="0.4017" stop-color="#993380"/><stop offset="0.4127" stop-color="#4c26bf"/><stop offset="0.4237" stop-color="#262680"/><stop offset="0.4348" stop-color="#000000"/></linearGradient><linearGradient id="g59" x1="0" y1="182.20" x2="0" y2="315.50" gradientUnits="userSpaceOnUse"><stop offset="0.3953" stop-color="#ffffff"/><stop offset="0.4026" stop-color="#efefad"/><stop offset="0.4066" stop-color="#e6e680"/><stop offset="0.4176" stop-color="#e6bf1a"/><stop offset="0.4286" stop-color="#e68000"/><stop offset="0.4397" stop-color="#ff4026"/><stop offset="0.4507" stop-color="#993380"/><stop offset="0.4617" stop-color="#4c26bf"/><stop offset="0.4728" stop-color="#262680"/><stop offset="0.4840" stop-color="#000000"/></linearGradient><linearGradient id="g5a" x1="0" y1="182.20" x2="0" y2="315.50" gradientUnits="userSpaceOnUse"><stop offset="0.4445" stop-color="#ffffff"/><stop offset="0.4516" stop-color="#efefad"/><stop offset="0.4556" stop-color="#e6e680"/><stop offset="0.4666" stop-color="#e6bf1a"/><stop offset="0.4777" stop-color="#e68000"/><stop offset="0.4887" stop-color="#ff4026"/><stop offset="0.4998" stop-color="#993380"/><stop offset="0.5108" stop-color="#4c26bf"/><stop offset="0.5218" stop-color="#262680"/><stop offset="0.5326" stop-color="#000000"/></linearGradient><linearGradient id="g5b" x1="0" y1="182.20" x2="0" y2="315.50" gradientUnits="userSpaceOnUse"><stop offset="0.4479" stop-color="#ffffff"/><stop offset="0.4615" stop-color="#efefad"/><stop offset="0.4860" stop-color="#e6e680"/><stop offset="0.5100" stop-color="#e6bf1a"/><stop offset="0.5267" stop-color="#e68000"/><stop offset="0.5378" stop-color="#ff4026"/><stop offset="0.5488" stop-color="#993380"/><stop offset="0.5595" stop-color="#4c26bf"/><stop offset="0.5687" stop-color="#262680"/><stop offset="0.5783" stop-color="#000000"/></linearGradient><linearGradient id="g5c" x1="0" y1="182.20" x2="0" y2="315.50" gradientUnits="userSpaceOnUse"><stop offset="0.4479" stop-color="#ffffff"/><stop offset="0.4615" stop-color="#efefad"/><stop offset="0.4860" stop-color="#e6e680"/><stop offset="0.5100" stop-color="#e6bf1a"/><stop offset="0.5419" stop-color="#e68000"/><stop offset="0.5660" stop-color="#ff4026"/><stop offset="0.5777" stop-color="#993380"/><stop offset="0.5968" stop-color="#4c26bf"/><stop offset="0.6100" stop-color="#262680"/><stop offset="0.6194" stop-color="#000000"/></linearGradient><linearGradient id="g5d" x1="0" y1="182.20" x2="0" y2="315.50" gradientUnits="userSpaceOnUse"><stop offset="0.4479" stop-color="#ffffff"/><stop offset="0.4615" stop-color="#efefad"/><stop offset="0.4860" stop-color="#e6e680"/><stop offset="0.5100" stop-color="#e6bf1a"/><stop offset="0.5419" stop-color="#e68000"/><stop offset="0.5660" stop-color="#ff4026"/><stop offset="0.5777" stop-color="#993380"/><stop offset="0.5968" stop-color="#4c26bf"/><stop offset="0.6230" stop-color="#262680"/><stop offset="0.6373" stop-color="#000000"/></linearGradient><linearGradient id="g5e" x1="0" y1="182.20" x2="0" y2="315.50" gradientUnits="userSpaceOnUse"><stop offset="0.4507" stop-color="#ffffff"/><stop offset="0.4636" stop-color="#efefad"/><stop offset="0.4878" stop-color="#e6e680"/><stop offset="0.5120" stop-color="#e6bf1a"/><stop offset="0.5438" stop-color="#e68000"/><stop offset="0.5682" stop-color="#ff4026"/><stop offset="0.5801" stop-color="#993380"/><stop offset="0.5990" stop-color="#4c26bf"/><stop offset="0.6244" stop-color="#262680"/><stop offset="0.6398" stop-color="#000000"/></linearGradient><linearGradient id="g5f" x1="0" y1="182.20" x2="0" y2="315.50" gradientUnits="userSpaceOnUse"><stop offset="0.4542" stop-color="#ffffff"/><stop offset="0.4672" stop-color="#efefad"/><stop offset="0.4907" stop-color="#e6e680"/><stop offset="0.5147" stop-color="#e6bf1a"/><stop offset="0.5466" stop-color="#e68000"/><stop offset="0.5713" stop-color="#ff4026"/><stop offset="0.5832" stop-color="#993380"/><stop offset="0.6023" stop-color="#4c26bf"/><stop offset="0.6266" stop-color="#262680"/><stop offset="0.6429" stop-color="#000000"/></linearGradient><linearGradient id="g5g" x1="0" y1="182.20" x2="0" y2="315.50" gradientUnits="userSpaceOnUse"><stop offset="0.4581" stop-color="#ffffff"/><stop offset="0.4706" stop-color="#efefad"/><stop offset="0.4936" stop-color="#e6e680"/><stop offset="0.5174" stop-color="#e6bf1a"/><stop offset="0.5494" stop-color="#e68000"/><stop offset="0.5744" stop-color="#ff4026"/><stop offset="0.5863" stop-color="#993380"/><stop offset="0.6056" stop-color="#4c26bf"/><stop offset="0.6289" stop-color="#262680"/><stop offset="0.6460" stop-color="#000000"/></linearGradient><linearGradient id="g5h" x1="0" y1="182.20" x2="0" y2="315.50" gradientUnits="userSpaceOnUse"><stop offset="0.4613" stop-color="#ffffff"/><stop offset="0.4739" stop-color="#efefad"/><stop offset="0.4962" stop-color="#e6e680"/><stop offset="0.5202" stop-color="#e6bf1a"/><stop offset="0.5522" stop-color="#e68000"/><stop offset="0.5775" stop-color="#ff4026"/><stop offset="0.5894" stop-color="#993380"/><stop offset="0.6088" stop-color="#4c26bf"/><stop offset="0.6315" stop-color="#262680"/><stop offset="0.6491" stop-color="#000000"/></linearGradient><linearGradient id="g5i" x1="0" y1="182.20" x2="0" y2="315.50" gradientUnits="userSpaceOnUse"><stop offset="0.4652" stop-color="#ffffff"/><stop offset="0.4770" stop-color="#efefad"/><stop offset="0.4988" stop-color="#e6e680"/><stop offset="0.5229" stop-color="#e6bf1a"/><stop offset="0.5549" stop-color="#e68000"/><stop offset="0.5806" stop-color="#ff4026"/><stop offset="0.5925" stop-color="#993380"/><stop offset="0.6120" stop-color="#4c26bf"/><stop offset="0.6341" stop-color="#262680"/><stop offset="0.6522" stop-color="#000000"/></linearGradient><linearGradient id="g5j" x1="0" y1="182.20" x2="0" y2="315.50" gradientUnits="userSpaceOnUse"><stop offset="0.4686" stop-color="#ffffff"/><stop offset="0.4801" stop-color="#efefad"/><stop offset="0.5016" stop-color="#e6e680"/><stop offset="0.5255" stop-color="#e6bf1a"/><stop offset="0.5576" stop-color="#e68000"/><stop offset="0.5836" stop-color="#ff4026"/><stop offset="0.5956" stop-color="#993380"/><stop offset="0.6152" stop-color="#4c26bf"/><stop offset="0.6370" stop-color="#262680"/><stop offset="0.6556" stop-color="#000000"/></linearGradient><linearGradient id="g5k" x1="0" y1="182.20" x2="0" y2="315.50" gradientUnits="userSpaceOnUse"><stop offset="0.4718" stop-color="#ffffff"/><stop offset="0.4834" stop-color="#efefad"/><stop offset="0.5044" stop-color="#e6e680"/><stop offset="0.5281" stop-color="#e6bf1a"/><stop offset="0.5603" stop-color="#e68000"/><stop offset="0.5865" stop-color="#ff4026"/><stop offset="0.5986" stop-color="#993380"/><stop offset="0.6184" stop-color="#4c26bf"/><stop offset="0.6400" stop-color="#262680"/><stop offset="0.6593" stop-color="#000000"/></linearGradient><linearGradient id="g5l" x1="0" y1="182.20" x2="0" y2="315.50" gradientUnits="userSpaceOnUse"><stop offset="0.4772" stop-color="#ffffff"/><stop offset="0.4884" stop-color="#efefad"/><stop offset="0.5087" stop-color="#e6e680"/><stop offset="0.5322" stop-color="#e6bf1a"/><stop offset="0.5644" stop-color="#e68000"/><stop offset="0.5909" stop-color="#ff4026"/><stop offset="0.6031" stop-color="#993380"/><stop offset="0.6231" stop-color="#4c26bf"/><stop offset="0.6449" stop-color="#262680"/><stop offset="0.6642" stop-color="#000000"/></linearGradient><linearGradient id="g5m" x1="0" y1="182.20" x2="0" y2="315.50" gradientUnits="userSpaceOnUse"><stop offset="0.4837" stop-color="#ffffff"/><stop offset="0.4946" stop-color="#efefad"/><stop offset="0.5137" stop-color="#e6e680"/><stop offset="0.5373" stop-color="#e6bf1a"/><stop offset="0.5697" stop-color="#e68000"/><stop offset="0.5967" stop-color="#ff4026"/><stop offset="0.6091" stop-color="#993380"/><stop offset="0.6294" stop-color="#4c26bf"/><stop offset="0.6520" stop-color="#262680"/><stop offset="0.6716" stop-color="#000000"/></linearGradient><linearGradient id="g5n" x1="0" y1="182.20" x2="0" y2="315.50" gradientUnits="userSpaceOnUse"><stop offset="0.4901" stop-color="#ffffff"/><stop offset="0.5007" stop-color="#efefad"/><stop offset="0.5192" stop-color="#e6e680"/><stop offset="0.5426" stop-color="#e6bf1a"/><stop offset="0.5749" stop-color="#e68000"/><stop offset="0.6024" stop-color="#ff4026"/><stop offset="0.6151" stop-color="#993380"/><stop offset="0.6356" stop-color="#4c26bf"/><stop offset="0.6593" stop-color="#262680"/><stop offset="0.6790" stop-color="#000000"/></linearGradient><linearGradient id="g5o" x1="0" y1="182.20" x2="0" y2="315.50" gradientUnits="userSpaceOnUse"><stop offset="0.4967" stop-color="#ffffff"/><stop offset="0.5067" stop-color="#efefad"/><stop offset="0.5243" stop-color="#e6e680"/><stop offset="0.5476" stop-color="#e6bf1a"/><stop offset="0.5801" stop-color="#e68000"/><stop offset="0.6081" stop-color="#ff4026"/><stop offset="0.6210" stop-color="#993380"/><stop offset="0.6417" stop-color="#4c26bf"/><stop offset="0.6665" stop-color="#262680"/><stop offset="0.6865" stop-color="#000000"/></linearGradient><linearGradient id="g5p" x1="0" y1="182.20" x2="0" y2="315.50" gradientUnits="userSpaceOnUse"><stop offset="0.5029" stop-color="#ffffff"/><stop offset="0.5125" stop-color="#efefad"/><stop offset="0.5297" stop-color="#e6e680"/><stop offset="0.5528" stop-color="#e6bf1a"/><stop offset="0.5852" stop-color="#e68000"/><stop offset="0.6138" stop-color="#ff4026"/><stop offset="0.6268" stop-color="#993380"/><stop offset="0.6477" stop-color="#4c26bf"/><stop offset="0.6733" stop-color="#262680"/><stop offset="0.6942" stop-color="#000000"/></linearGradient><linearGradient id="g5q" x1="0" y1="182.20" x2="0" y2="315.50" gradientUnits="userSpaceOnUse"><stop offset="0.5089" stop-color="#ffffff"/><stop offset="0.5180" stop-color="#efefad"/><stop offset="0.5346" stop-color="#e6e680"/><stop offset="0.5578" stop-color="#e6bf1a"/><stop offset="0.5903" stop-color="#e68000"/><stop offset="0.6194" stop-color="#ff4026"/><stop offset="0.6326" stop-color="#993380"/><stop offset="0.6537" stop-color="#4c26bf"/><stop offset="0.6800" stop-color="#262680"/><stop offset="0.7022" stop-color="#000000"/></linearGradient><linearGradient id="g5r" x1="0" y1="182.20" x2="0" y2="315.50" gradientUnits="userSpaceOnUse"><stop offset="0.5148" stop-color="#ffffff"/><stop offset="0.5235" stop-color="#efefad"/><stop offset="0.5397" stop-color="#e6e680"/><stop offset="0.5626" stop-color="#e6bf1a"/><stop offset="0.5952" stop-color="#e68000"/><stop offset="0.6247" stop-color="#ff4026"/><stop offset="0.6381" stop-color="#993380"/><stop offset="0.6596" stop-color="#4c26bf"/><stop offset="0.6863" stop-color="#262680"/><stop offset="0.7104" stop-color="#000000"/></linearGradient><linearGradient id="g5s" x1="0" y1="182.20" x2="0" y2="315.50" gradientUnits="userSpaceOnUse"><stop offset="0.5201" stop-color="#ffffff"/><stop offset="0.5292" stop-color="#efefad"/><stop offset="0.5448" stop-color="#e6e680"/><stop offset="0.5676" stop-color="#e6bf1a"/><stop offset="0.6002" stop-color="#e68000"/><stop offset="0.6302" stop-color="#ff4026"/><stop offset="0.6436" stop-color="#993380"/><stop offset="0.6654" stop-color="#4c26bf"/><stop offset="0.6925" stop-color="#262680"/><stop offset="0.7179" stop-color="#000000"/></linearGradient><linearGradient id="g5t" x1="0" y1="182.20" x2="0" y2="315.50" gradientUnits="userSpaceOnUse"><stop offset="0.5256" stop-color="#ffffff"/><stop offset="0.5341" stop-color="#efefad"/><stop offset="0.5495" stop-color="#e6e680"/><stop offset="0.5725" stop-color="#e6bf1a"/><stop offset="0.6050" stop-color="#e68000"/><stop offset="0.6353" stop-color="#ff4026"/><stop offset="0.6491" stop-color="#993380"/><stop offset="0.6711" stop-color="#4c26bf"/><stop offset="0.6984" stop-color="#262680"/><stop offset="0.7249" stop-color="#000000"/></linearGradient><linearGradient id="g5u" x1="0" y1="182.20" x2="0" y2="315.50" gradientUnits="userSpaceOnUse"><stop offset="0.5313" stop-color="#ffffff"/><stop offset="0.5397" stop-color="#efefad"/><stop offset="0.5544" stop-color="#e6e680"/><stop offset="0.5772" stop-color="#e6bf1a"/><stop offset="0.6098" stop-color="#e68000"/><stop offset="0.6407" stop-color="#ff4026"/><stop offset="0.6544" stop-color="#993380"/><stop offset="0.6766" stop-color="#4c26bf"/><stop offset="0.7040" stop-color="#262680"/><stop offset="0.7314" stop-color="#000000"/></linearGradient><linearGradient id="g5v" x1="0" y1="182.20" x2="0" y2="315.50" gradientUnits="userSpaceOnUse"><stop offset="0.5361" stop-color="#ffffff"/><stop offset="0.5445" stop-color="#efefad"/><stop offset="0.5592" stop-color="#e6e680"/><stop offset="0.5819" stop-color="#e6bf1a"/><stop offset="0.6145" stop-color="#e68000"/><stop offset="0.6457" stop-color="#ff4026"/><stop offset="0.6598" stop-color="#993380"/><stop offset="0.6823" stop-color="#4c26bf"/><stop offset="0.7095" stop-color="#262680"/><stop offset="0.7375" stop-color="#000000"/></linearGradient><linearGradient id="g5w" x1="0" y1="182.20" x2="0" y2="315.50" gradientUnits="userSpaceOnUse"><stop offset="0.5413" stop-color="#ffffff"/><stop offset="0.5494" stop-color="#efefad"/><stop offset="0.5640" stop-color="#e6e680"/><stop offset="0.5866" stop-color="#e6bf1a"/><stop offset="0.6192" stop-color="#e68000"/><stop offset="0.6509" stop-color="#ff4026"/><stop offset="0.6649" stop-color="#993380"/><stop offset="0.6878" stop-color="#4c26bf"/><stop offset="0.7149" stop-color="#262680"/><stop offset="0.7431" stop-color="#000000"/></linearGradient><linearGradient id="g5x" x1="0" y1="182.20" x2="0" y2="315.50" gradientUnits="userSpaceOnUse"><stop offset="0.5464" stop-color="#ffffff"/><stop offset="0.5544" stop-color="#efefad"/><stop offset="0.5687" stop-color="#e6e680"/><stop offset="0.5911" stop-color="#e6bf1a"/><stop offset="0.6238" stop-color="#e68000"/><stop offset="0.6558" stop-color="#ff4026"/><stop offset="0.6701" stop-color="#993380"/><stop offset="0.6931" stop-color="#4c26bf"/><stop offset="0.7203" stop-color="#262680"/><stop offset="0.7481" stop-color="#000000"/></linearGradient><linearGradient id="g5y" x1="0" y1="182.20" x2="0" y2="315.50" gradientUnits="userSpaceOnUse"><stop offset="0.5510" stop-color="#ffffff"/><stop offset="0.5591" stop-color="#efefad"/><stop offset="0.5732" stop-color="#e6e680"/><stop offset="0.5957" stop-color="#e6bf1a"/><stop offset="0.6283" stop-color="#e68000"/><stop offset="0.6606" stop-color="#ff4026"/><stop offset="0.6751" stop-color="#993380"/><stop offset="0.6985" stop-color="#4c26bf"/><stop offset="0.7257" stop-color="#262680"/><stop offset="0.7527" stop-color="#000000"/></linearGradient><linearGradient id="g5z" x1="0" y1="182.20" x2="0" y2="315.50" gradientUnits="userSpaceOnUse"><stop offset="0.5555" stop-color="#ffffff"/><stop offset="0.5636" stop-color="#efefad"/><stop offset="0.5778" stop-color="#e6e680"/><stop offset="0.6002" stop-color="#e6bf1a"/><stop offset="0.6328" stop-color="#e68000"/><stop offset="0.6654" stop-color="#ff4026"/><stop offset="0.6801" stop-color="#993380"/><stop offset="0.7037" stop-color="#4c26bf"/><stop offset="0.7312" stop-color="#262680"/><stop offset="0.7571" stop-color="#000000"/></linearGradient><linearGradient id="g510" x1="0" y1="182.20" x2="0" y2="315.50" gradientUnits="userSpaceOnUse"><stop offset="0.5599" stop-color="#ffffff"/><stop offset="0.5680" stop-color="#efefad"/><stop offset="0.5822" stop-color="#e6e680"/><stop offset="0.6046" stop-color="#e6bf1a"/><stop offset="0.6372" stop-color="#e68000"/><stop offset="0.6703" stop-color="#ff4026"/><stop offset="0.6851" stop-color="#993380"/><stop offset="0.7090" stop-color="#4c26bf"/><stop offset="0.7367" stop-color="#262680"/><stop offset="0.7617" stop-color="#000000"/></linearGradient><linearGradient id="g511" x1="0" y1="182.20" x2="0" y2="315.50" gradientUnits="userSpaceOnUse"><stop offset="0.5642" stop-color="#ffffff"/><stop offset="0.5722" stop-color="#efefad"/><stop offset="0.5867" stop-color="#e6e680"/><stop offset="0.6091" stop-color="#e6bf1a"/><stop offset="0.6415" stop-color="#e68000"/><stop offset="0.6751" stop-color="#ff4026"/><stop offset="0.6898" stop-color="#993380"/><stop offset="0.7141" stop-color="#4c26bf"/><stop offset="0.7422" stop-color="#262680"/><stop offset="0.7664" stop-color="#000000"/></linearGradient><linearGradient id="g512" x1="0" y1="182.20" x2="0" y2="315.50" gradientUnits="userSpaceOnUse"><stop offset="0.5678" stop-color="#ffffff"/><stop offset="0.5761" stop-color="#efefad"/><stop offset="0.5909" stop-color="#e6e680"/><stop offset="0.6134" stop-color="#e6bf1a"/><stop offset="0.6458" stop-color="#e68000"/><stop offset="0.6797" stop-color="#ff4026"/><stop offset="0.6945" stop-color="#993380"/><stop offset="0.7191" stop-color="#4c26bf"/><stop offset="0.7477" stop-color="#262680"/><stop offset="0.7713" stop-color="#000000"/></linearGradient><linearGradient id="g513" x1="0" y1="182.20" x2="0" y2="315.50" gradientUnits="userSpaceOnUse"><stop offset="0.5720" stop-color="#ffffff"/><stop offset="0.5804" stop-color="#efefad"/><stop offset="0.5951" stop-color="#e6e680"/><stop offset="0.6178" stop-color="#e6bf1a"/><stop offset="0.6500" stop-color="#e68000"/><stop offset="0.6842" stop-color="#ff4026"/><stop offset="0.6991" stop-color="#993380"/><stop offset="0.7241" stop-color="#4c26bf"/><stop offset="0.7533" stop-color="#262680"/><stop offset="0.7764" stop-color="#000000"/></linearGradient><linearGradient id="g514" x1="0" y1="182.20" x2="0" y2="315.50" gradientUnits="userSpaceOnUse"><stop offset="0.5753" stop-color="#ffffff"/><stop offset="0.5842" stop-color="#efefad"/><stop offset="0.5992" stop-color="#e6e680"/><stop offset="0.6220" stop-color="#e6bf1a"/><stop offset="0.6541" stop-color="#e68000"/><stop offset="0.6886" stop-color="#ff4026"/><stop offset="0.7037" stop-color="#993380"/><stop offset="0.7290" stop-color="#4c26bf"/><stop offset="0.7588" stop-color="#262680"/><stop offset="0.7812" stop-color="#000000"/></linearGradient><linearGradient id="g515" x1="0" y1="182.20" x2="0" y2="315.50" gradientUnits="userSpaceOnUse"><stop offset="0.5793" stop-color="#ffffff"/><stop offset="0.5879" stop-color="#efefad"/><stop offset="0.6034" stop-color="#e6e680"/><stop offset="0.6262" stop-color="#e6bf1a"/><stop offset="0.6582" stop-color="#e68000"/><stop offset="0.6928" stop-color="#ff4026"/><stop offset="0.7082" stop-color="#993380"/><stop offset="0.7338" stop-color="#4c26bf"/><stop offset="0.7643" stop-color="#262680"/><stop offset="0.7866" stop-color="#000000"/></linearGradient><linearGradient id="g516" x1="0" y1="182.20" x2="0" y2="315.50" gradientUnits="userSpaceOnUse"><stop offset="0.5825" stop-color="#ffffff"/><stop offset="0.5914" stop-color="#efefad"/><stop offset="0.6077" stop-color="#e6e680"/><stop offset="0.6302" stop-color="#e6bf1a"/><stop offset="0.6622" stop-color="#e68000"/><stop offset="0.6969" stop-color="#ff4026"/><stop offset="0.7126" stop-color="#993380"/><stop offset="0.7385" stop-color="#4c26bf"/><stop offset="0.7700" stop-color="#262680"/><stop offset="0.7917" stop-color="#000000"/></linearGradient><linearGradient id="g517" x1="0" y1="182.20" x2="0" y2="315.50" gradientUnits="userSpaceOnUse"><stop offset="0.5856" stop-color="#ffffff"/><stop offset="0.5952" stop-color="#efefad"/><stop offset="0.6115" stop-color="#e6e680"/><stop offset="0.6343" stop-color="#e6bf1a"/><stop offset="0.6662" stop-color="#e68000"/><stop offset="0.7011" stop-color="#ff4026"/><stop offset="0.7170" stop-color="#993380"/><stop offset="0.7432" stop-color="#4c26bf"/><stop offset="0.7757" stop-color="#262680"/><stop offset="0.7974" stop-color="#000000"/></linearGradient><linearGradient id="g518" x1="0" y1="182.20" x2="0" y2="315.50" gradientUnits="userSpaceOnUse"><stop offset="0.5887" stop-color="#ffffff"/><stop offset="0.5984" stop-color="#efefad"/><stop offset="0.6154" stop-color="#e6e680"/><stop offset="0.6383" stop-color="#e6bf1a"/><stop offset="0.6701" stop-color="#e68000"/><stop offset="0.7053" stop-color="#ff4026"/><stop offset="0.7213" stop-color="#993380"/><stop offset="0.7478" stop-color="#4c26bf"/><stop offset="0.7812" stop-color="#262680"/><stop offset="0.8035" stop-color="#000000"/></linearGradient><linearGradient id="g519" x1="0" y1="182.20" x2="0" y2="315.50" gradientUnits="userSpaceOnUse"><stop offset="0.5916" stop-color="#ffffff"/><stop offset="0.6015" stop-color="#efefad"/><stop offset="0.6194" stop-color="#e6e680"/><stop offset="0.6421" stop-color="#e6bf1a"/><stop offset="0.6739" stop-color="#e68000"/><stop offset="0.7094" stop-color="#ff4026"/><stop offset="0.7255" stop-color="#993380"/><stop offset="0.7523" stop-color="#4c26bf"/><stop offset="0.7869" stop-color="#262680"/><stop offset="0.8099" stop-color="#000000"/></linearGradient><linearGradient id="g51a" x1="0" y1="182.20" x2="0" y2="315.50" gradientUnits="userSpaceOnUse"><stop offset="0.5945" stop-color="#ffffff"/><stop offset="0.6046" stop-color="#efefad"/><stop offset="0.6231" stop-color="#e6e680"/><stop offset="0.6461" stop-color="#e6bf1a"/><stop offset="0.6776" stop-color="#e68000"/><stop offset="0.7132" stop-color="#ff4026"/><stop offset="0.7296" stop-color="#993380"/><stop offset="0.7568" stop-color="#4c26bf"/><stop offset="0.7926" stop-color="#262680"/><stop offset="0.8171" stop-color="#000000"/></linearGradient><linearGradient id="g51b" x1="0" y1="182.20" x2="0" y2="315.50" gradientUnits="userSpaceOnUse"><stop offset="0.5971" stop-color="#ffffff"/><stop offset="0.6075" stop-color="#efefad"/><stop offset="0.6270" stop-color="#e6e680"/><stop offset="0.6499" stop-color="#e6bf1a"/><stop offset="0.6813" stop-color="#e68000"/><stop offset="0.7172" stop-color="#ff4026"/><stop offset="0.7335" stop-color="#993380"/><stop offset="0.7611" stop-color="#4c26bf"/><stop offset="0.7984" stop-color="#262680"/><stop offset="0.8249" stop-color="#000000"/></linearGradient><linearGradient id="g51c" x1="0" y1="182.20" x2="0" y2="315.50" gradientUnits="userSpaceOnUse"><stop offset="0.5992" stop-color="#ffffff"/><stop offset="0.6105" stop-color="#efefad"/><stop offset="0.6305" stop-color="#e6e680"/><stop offset="0.6537" stop-color="#e6bf1a"/><stop offset="0.6850" stop-color="#e68000"/><stop offset="0.7208" stop-color="#ff4026"/><stop offset="0.7376" stop-color="#993380"/><stop offset="0.7654" stop-color="#4c26bf"/><stop offset="0.8041" stop-color="#262680"/><stop offset="0.8334" stop-color="#000000"/></linearGradient><linearGradient id="g51d" x1="0" y1="182.20" x2="0" y2="315.50" gradientUnits="userSpaceOnUse"><stop offset="0.6018" stop-color="#ffffff"/><stop offset="0.6133" stop-color="#efefad"/><stop offset="0.6342" stop-color="#e6e680"/><stop offset="0.6574" stop-color="#e6bf1a"/><stop offset="0.6885" stop-color="#e68000"/><stop offset="0.7247" stop-color="#ff4026"/><stop offset="0.7413" stop-color="#993380"/><stop offset="0.7696" stop-color="#4c26bf"/><stop offset="0.8097" stop-color="#262680"/><stop offset="0.8423" stop-color="#000000"/></linearGradient><linearGradient id="g51e" x1="0" y1="182.20" x2="0" y2="315.50" gradientUnits="userSpaceOnUse"><stop offset="0.6038" stop-color="#ffffff"/><stop offset="0.6161" stop-color="#efefad"/><stop offset="0.6378" stop-color="#e6e680"/><stop offset="0.6611" stop-color="#e6bf1a"/><stop offset="0.6920" stop-color="#e68000"/><stop offset="0.7282" stop-color="#ff4026"/><stop offset="0.7452" stop-color="#993380"/><stop offset="0.7738" stop-color="#4c26bf"/><stop offset="0.8152" stop-color="#262680"/><stop offset="0.8517" stop-color="#000000"/></linearGradient><linearGradient id="g51f" x1="0" y1="182.20" x2="0" y2="315.50" gradientUnits="userSpaceOnUse"><stop offset="0.6062" stop-color="#ffffff"/><stop offset="0.6184" stop-color="#efefad"/><stop offset="0.6411" stop-color="#e6e680"/><stop offset="0.6646" stop-color="#e6bf1a"/><stop offset="0.6954" stop-color="#e68000"/><stop offset="0.7318" stop-color="#ff4026"/><stop offset="0.7487" stop-color="#993380"/><stop offset="0.7778" stop-color="#4c26bf"/><stop offset="0.8205" stop-color="#262680"/><stop offset="0.8617" stop-color="#000000"/></linearGradient><linearGradient id="g51g" x1="0" y1="182.20" x2="0" y2="315.50" gradientUnits="userSpaceOnUse"><stop offset="0.6082" stop-color="#ffffff"/><stop offset="0.6210" stop-color="#efefad"/><stop offset="0.6447" stop-color="#e6e680"/><stop offset="0.6683" stop-color="#e6bf1a"/><stop offset="0.6988" stop-color="#e68000"/><stop offset="0.7353" stop-color="#ff4026"/><stop offset="0.7525" stop-color="#993380"/><stop offset="0.7817" stop-color="#4c26bf"/><stop offset="0.8258" stop-color="#262680"/><stop offset="0.8714" stop-color="#000000"/></linearGradient><linearGradient id="g51h" x1="0" y1="182.20" x2="0" y2="315.50" gradientUnits="userSpaceOnUse"><stop offset="0.6100" stop-color="#ffffff"/><stop offset="0.6237" stop-color="#efefad"/><stop offset="0.6482" stop-color="#e6e680"/><stop offset="0.6717" stop-color="#e6bf1a"/><stop offset="0.7020" stop-color="#e68000"/><stop offset="0.7386" stop-color="#ff4026"/><stop offset="0.7560" stop-color="#993380"/><stop offset="0.7857" stop-color="#4c26bf"/><stop offset="0.8308" stop-color="#262680"/><stop offset="0.8807" stop-color="#000000"/></linearGradient><linearGradient id="g51i" x1="0" y1="182.20" x2="0" y2="315.50" gradientUnits="userSpaceOnUse"><stop offset="0.6120" stop-color="#ffffff"/><stop offset="0.6256" stop-color="#efefad"/><stop offset="0.6514" stop-color="#e6e680"/><stop offset="0.6751" stop-color="#e6bf1a"/><stop offset="0.7053" stop-color="#e68000"/><stop offset="0.7419" stop-color="#ff4026"/><stop offset="0.7594" stop-color="#993380"/><stop offset="0.7895" stop-color="#4c26bf"/><stop offset="0.8357" stop-color="#262680"/><stop offset="0.8896" stop-color="#000000"/></linearGradient><linearGradient id="g51j" x1="0" y1="182.20" x2="0" y2="315.50" gradientUnits="userSpaceOnUse"><stop offset="0.6139" stop-color="#ffffff"/><stop offset="0.6283" stop-color="#efefad"/><stop offset="0.6545" stop-color="#e6e680"/><stop offset="0.6785" stop-color="#e6bf1a"/><stop offset="0.7085" stop-color="#e68000"/><stop offset="0.7451" stop-color="#ff4026"/><stop offset="0.7629" stop-color="#993380"/><stop offset="0.7933" stop-color="#4c26bf"/><stop offset="0.8406" stop-color="#262680"/><stop offset="0.8980" stop-color="#000000"/></linearGradient><linearGradient id="g51k" x1="0" y1="182.20" x2="0" y2="315.50" gradientUnits="userSpaceOnUse"><stop offset="0.6156" stop-color="#ffffff"/><stop offset="0.6301" stop-color="#efefad"/><stop offset="0.6577" stop-color="#e6e680"/><stop offset="0.6819" stop-color="#e6bf1a"/><stop offset="0.7116" stop-color="#e68000"/><stop offset="0.7484" stop-color="#ff4026"/><stop offset="0.7662" stop-color="#993380"/><stop offset="0.7969" stop-color="#4c26bf"/><stop offset="0.8453" stop-color="#262680"/><stop offset="0.9061" stop-color="#000000"/></linearGradient><linearGradient id="g51l" x1="0" y1="182.20" x2="0" y2="315.50" gradientUnits="userSpaceOnUse"><stop offset="0.6172" stop-color="#ffffff"/><stop offset="0.6327" stop-color="#efefad"/><stop offset="0.6608" stop-color="#e6e680"/><stop offset="0.6851" stop-color="#e6bf1a"/><stop offset="0.7146" stop-color="#e68000"/><stop offset="0.7515" stop-color="#ff4026"/><stop offset="0.7694" stop-color="#993380"/><stop offset="0.8006" stop-color="#4c26bf"/><stop offset="0.8498" stop-color="#262680"/><stop offset="0.9137" stop-color="#000000"/></linearGradient><linearGradient id="g51m" x1="0" y1="182.20" x2="0" y2="315.50" gradientUnits="userSpaceOnUse"><stop offset="0.6188" stop-color="#ffffff"/><stop offset="0.6345" stop-color="#efefad"/><stop offset="0.6639" stop-color="#e6e680"/><stop offset="0.6883" stop-color="#e6bf1a"/><stop offset="0.7176" stop-color="#e68000"/><stop offset="0.7544" stop-color="#ff4026"/><stop offset="0.7725" stop-color="#993380"/><stop offset="0.8040" stop-color="#4c26bf"/><stop offset="0.8542" stop-color="#262680"/><stop offset="0.9209" stop-color="#000000"/></linearGradient><linearGradient id="g51n" x1="0" y1="182.20" x2="0" y2="315.50" gradientUnits="userSpaceOnUse"><stop offset="0.6203" stop-color="#ffffff"/><stop offset="0.6366" stop-color="#efefad"/><stop offset="0.6669" stop-color="#e6e680"/><stop offset="0.6915" stop-color="#e6bf1a"/><stop offset="0.7205" stop-color="#e68000"/><stop offset="0.7573" stop-color="#ff4026"/><stop offset="0.7755" stop-color="#993380"/><stop offset="0.8075" stop-color="#4c26bf"/><stop offset="0.8584" stop-color="#262680"/><stop offset="0.9277" stop-color="#000000"/></linearGradient><linearGradient id="g51o" x1="0" y1="182.20" x2="0" y2="315.50" gradientUnits="userSpaceOnUse"><stop offset="0.6216" stop-color="#ffffff"/><stop offset="0.6387" stop-color="#efefad"/><stop offset="0.6699" stop-color="#e6e680"/><stop offset="0.6945" stop-color="#e6bf1a"/><stop offset="0.7233" stop-color="#e68000"/><stop offset="0.7601" stop-color="#ff4026"/><stop offset="0.7785" stop-color="#993380"/><stop offset="0.8109" stop-color="#4c26bf"/><stop offset="0.8625" stop-color="#262680"/><stop offset="0.9341" stop-color="#000000"/></linearGradient><linearGradient id="g51p" x1="0" y1="182.20" x2="0" y2="315.50" gradientUnits="userSpaceOnUse"><stop offset="0.6229" stop-color="#ffffff"/><stop offset="0.6404" stop-color="#efefad"/><stop offset="0.6727" stop-color="#e6e680"/><stop offset="0.6976" stop-color="#e6bf1a"/><stop offset="0.7261" stop-color="#e68000"/><stop offset="0.7628" stop-color="#ff4026"/><stop offset="0.7815" stop-color="#993380"/><stop offset="0.8142" stop-color="#4c26bf"/><stop offset="0.8666" stop-color="#262680"/><stop offset="0.9400" stop-color="#000000"/></linearGradient><linearGradient id="g51q" x1="0" y1="182.20" x2="0" y2="315.50" gradientUnits="userSpaceOnUse"><stop offset="0.6242" stop-color="#ffffff"/><stop offset="0.6421" stop-color="#efefad"/><stop offset="0.6756" stop-color="#e6e680"/><stop offset="0.7006" stop-color="#e6bf1a"/><stop offset="0.7288" stop-color="#e68000"/><stop offset="0.7655" stop-color="#ff4026"/><stop offset="0.7843" stop-color="#993380"/><stop offset="0.8174" stop-color="#4c26bf"/><stop offset="0.8704" stop-color="#262680"/><stop offset="0.9456" stop-color="#000000"/></linearGradient><linearGradient id="g51r" x1="0" y1="182.20" x2="0" y2="315.50" gradientUnits="userSpaceOnUse"><stop offset="0.6251" stop-color="#ffffff"/><stop offset="0.6436" stop-color="#efefad"/><stop offset="0.6784" stop-color="#e6e680"/><stop offset="0.7035" stop-color="#e6bf1a"/><stop offset="0.7315" stop-color="#e68000"/><stop offset="0.7682" stop-color="#ff4026"/><stop offset="0.7871" stop-color="#993380"/><stop offset="0.8205" stop-color="#4c26bf"/><stop offset="0.8742" stop-color="#262680"/><stop offset="0.9507" stop-color="#000000"/></linearGradient><linearGradient id="g51s" x1="0" y1="182.20" x2="0" y2="315.50" gradientUnits="userSpaceOnUse"><stop offset="0.6263" stop-color="#ffffff"/><stop offset="0.6452" stop-color="#efefad"/><stop offset="0.6813" stop-color="#e6e680"/><stop offset="0.7064" stop-color="#e6bf1a"/><stop offset="0.7340" stop-color="#e68000"/><stop offset="0.7706" stop-color="#ff4026"/><stop offset="0.7898" stop-color="#993380"/><stop offset="0.8236" stop-color="#4c26bf"/><stop offset="0.8777" stop-color="#262680"/><stop offset="0.9555" stop-color="#000000"/></linearGradient><linearGradient id="g51t" x1="0" y1="182.20" x2="0" y2="315.50" gradientUnits="userSpaceOnUse"><stop offset="0.6273" stop-color="#ffffff"/><stop offset="0.6468" stop-color="#efefad"/><stop offset="0.6842" stop-color="#e6e680"/><stop offset="0.7092" stop-color="#e6bf1a"/><stop offset="0.7365" stop-color="#e68000"/><stop offset="0.7730" stop-color="#ff4026"/><stop offset="0.7922" stop-color="#993380"/><stop offset="0.8266" stop-color="#4c26bf"/><stop offset="0.8812" stop-color="#262680"/><stop offset="0.9598" stop-color="#000000"/></linearGradient><linearGradient id="g51u" x1="0" y1="182.20" x2="0" y2="315.50" gradientUnits="userSpaceOnUse"><stop offset="0.6281" stop-color="#ffffff"/><stop offset="0.6482" stop-color="#efefad"/><stop offset="0.6863" stop-color="#e6e680"/><stop offset="0.7120" stop-color="#e6bf1a"/><stop offset="0.7390" stop-color="#e68000"/><stop offset="0.7755" stop-color="#ff4026"/><stop offset="0.7948" stop-color="#993380"/><stop offset="0.8295" stop-color="#4c26bf"/><stop offset="0.8845" stop-color="#262680"/><stop offset="0.9637" stop-color="#000000"/></linearGradient><linearGradient id="g51v" x1="0" y1="182.20" x2="0" y2="315.50" gradientUnits="userSpaceOnUse"><stop offset="0.6290" stop-color="#ffffff"/><stop offset="0.6496" stop-color="#efefad"/><stop offset="0.6889" stop-color="#e6e680"/><stop offset="0.7147" stop-color="#e6bf1a"/><stop offset="0.7414" stop-color="#e68000"/><stop offset="0.7776" stop-color="#ff4026"/><stop offset="0.7973" stop-color="#993380"/><stop offset="0.8324" stop-color="#4c26bf"/><stop offset="0.8877" stop-color="#262680"/><stop offset="0.9671" stop-color="#000000"/></linearGradient><linearGradient id="g51w" x1="0" y1="182.20" x2="0" y2="315.50" gradientUnits="userSpaceOnUse"><stop offset="0.6296" stop-color="#ffffff"/><stop offset="0.6511" stop-color="#efefad"/><stop offset="0.6917" stop-color="#e6e680"/><stop offset="0.7173" stop-color="#e6bf1a"/><stop offset="0.7437" stop-color="#e68000"/><stop offset="0.7799" stop-color="#ff4026"/><stop offset="0.7995" stop-color="#993380"/><stop offset="0.8352" stop-color="#4c26bf"/><stop offset="0.8908" stop-color="#262680"/><stop offset="0.9702" stop-color="#000000"/></linearGradient><linearGradient id="g51x" x1="0" y1="182.20" x2="0" y2="315.50" gradientUnits="userSpaceOnUse"><stop offset="0.6303" stop-color="#ffffff"/><stop offset="0.6524" stop-color="#efefad"/><stop offset="0.6937" stop-color="#e6e680"/><stop offset="0.7199" stop-color="#e6bf1a"/><stop offset="0.7460" stop-color="#e68000"/><stop offset="0.7820" stop-color="#ff4026"/><stop offset="0.8019" stop-color="#993380"/><stop offset="0.8378" stop-color="#4c26bf"/><stop offset="0.8937" stop-color="#262680"/><stop offset="0.9729" stop-color="#000000"/></linearGradient><linearGradient id="g51y" x1="0" y1="182.20" x2="0" y2="315.50" gradientUnits="userSpaceOnUse"><stop offset="0.6308" stop-color="#ffffff"/><stop offset="0.6537" stop-color="#efefad"/><stop offset="0.6963" stop-color="#e6e680"/><stop offset="0.7224" stop-color="#e6bf1a"/><stop offset="0.7482" stop-color="#e68000"/><stop offset="0.7840" stop-color="#ff4026"/><stop offset="0.8040" stop-color="#993380"/><stop offset="0.8403" stop-color="#4c26bf"/><stop offset="0.8964" stop-color="#262680"/><stop offset="0.9751" stop-color="#000000"/></linearGradient><linearGradient id="g51z" x1="0" y1="182.20" x2="0" y2="315.50" gradientUnits="userSpaceOnUse"><stop offset="0.6312" stop-color="#ffffff"/><stop offset="0.6547" stop-color="#efefad"/><stop offset="0.6983" stop-color="#e6e680"/><stop offset="0.7249" stop-color="#e6bf1a"/><stop offset="0.7502" stop-color="#e68000"/><stop offset="0.7861" stop-color="#ff4026"/><stop offset="0.8062" stop-color="#993380"/><stop offset="0.8429" stop-color="#4c26bf"/><stop offset="0.8990" stop-color="#262680"/><stop offset="0.9773" stop-color="#000000"/></linearGradient><linearGradient id="g520" x1="0" y1="182.20" x2="0" y2="315.50" gradientUnits="userSpaceOnUse"><stop offset="0.6317" stop-color="#ffffff"/><stop offset="0.6556" stop-color="#efefad"/><stop offset="0.7008" stop-color="#e6e680"/><stop offset="0.7273" stop-color="#e6bf1a"/><stop offset="0.7524" stop-color="#e68000"/><stop offset="0.7879" stop-color="#ff4026"/><stop offset="0.8082" stop-color="#993380"/><stop offset="0.8454" stop-color="#4c26bf"/><stop offset="0.9015" stop-color="#262680"/><stop offset="0.9795" stop-color="#000000"/></linearGradient><linearGradient id="g521" x1="0" y1="182.20" x2="0" y2="315.50" gradientUnits="userSpaceOnUse"><stop offset="0.6320" stop-color="#ffffff"/><stop offset="0.6567" stop-color="#efefad"/><stop offset="0.7027" stop-color="#e6e680"/><stop offset="0.7297" stop-color="#e6bf1a"/><stop offset="0.7544" stop-color="#e68000"/><stop offset="0.7896" stop-color="#ff4026"/><stop offset="0.8101" stop-color="#993380"/><stop offset="0.8477" stop-color="#4c26bf"/><stop offset="0.9040" stop-color="#262680"/><stop offset="0.9818" stop-color="#000000"/></linearGradient><linearGradient id="g522" x1="0" y1="182.20" x2="0" y2="315.50" gradientUnits="userSpaceOnUse"><stop offset="0.6322" stop-color="#ffffff"/><stop offset="0.6572" stop-color="#efefad"/><stop offset="0.7052" stop-color="#e6e680"/><stop offset="0.7320" stop-color="#e6bf1a"/><stop offset="0.7562" stop-color="#e68000"/><stop offset="0.7913" stop-color="#ff4026"/><stop offset="0.8119" stop-color="#993380"/><stop offset="0.8501" stop-color="#4c26bf"/><stop offset="0.9061" stop-color="#262680"/><stop offset="0.9842" stop-color="#000000"/></linearGradient><linearGradient id="g523" x1="0" y1="182.20" x2="0" y2="315.50" gradientUnits="userSpaceOnUse"><stop offset="0.6323" stop-color="#ffffff"/><stop offset="0.6583" stop-color="#efefad"/><stop offset="0.7069" stop-color="#e6e680"/><stop offset="0.7342" stop-color="#e6bf1a"/><stop offset="0.7582" stop-color="#e68000"/><stop offset="0.7930" stop-color="#ff4026"/><stop offset="0.8138" stop-color="#993380"/><stop offset="0.8522" stop-color="#4c26bf"/><stop offset="0.9083" stop-color="#262680"/><stop offset="0.9866" stop-color="#000000"/></linearGradient><linearGradient id="g524" x1="0" y1="182.20" x2="0" y2="315.50" gradientUnits="userSpaceOnUse"><stop offset="0.6323" stop-color="#ffffff"/><stop offset="0.6587" stop-color="#efefad"/><stop offset="0.7089" stop-color="#e6e680"/><stop offset="0.7365" stop-color="#e6bf1a"/><stop offset="0.7600" stop-color="#e68000"/><stop offset="0.7945" stop-color="#ff4026"/><stop offset="0.8156" stop-color="#993380"/><stop offset="0.8545" stop-color="#4c26bf"/><stop offset="0.9103" stop-color="#262680"/><stop offset="0.9891" stop-color="#000000"/></linearGradient><linearGradient id="g525" x1="0" y1="182.20" x2="0" y2="315.50" gradientUnits="userSpaceOnUse"><stop offset="0.6323" stop-color="#ffffff"/><stop offset="0.6597" stop-color="#efefad"/><stop offset="0.7112" stop-color="#e6e680"/><stop offset="0.7386" stop-color="#e6bf1a"/><stop offset="0.7617" stop-color="#e68000"/><stop offset="0.7960" stop-color="#ff4026"/><stop offset="0.8172" stop-color="#993380"/><stop offset="0.8565" stop-color="#4c26bf"/><stop offset="0.9121" stop-color="#262680"/><stop offset="0.9917" stop-color="#000000"/></linearGradient><linearGradient id="g526" x1="0" y1="182.20" x2="0" y2="315.50" gradientUnits="userSpaceOnUse"><stop offset="0.6322" stop-color="#ffffff"/><stop offset="0.6600" stop-color="#efefad"/><stop offset="0.7128" stop-color="#e6e680"/><stop offset="0.7407" stop-color="#e6bf1a"/><stop offset="0.7634" stop-color="#e68000"/><stop offset="0.7974" stop-color="#ff4026"/><stop offset="0.8187" stop-color="#993380"/><stop offset="0.8585" stop-color="#4c26bf"/><stop offset="0.9137" stop-color="#262680"/><stop offset="0.9943" stop-color="#000000"/></linearGradient><linearGradient id="g527" x1="0" y1="182.20" x2="0" y2="315.50" gradientUnits="userSpaceOnUse"><stop offset="0.6320" stop-color="#ffffff"/><stop offset="0.6605" stop-color="#efefad"/><stop offset="0.7145" stop-color="#e6e680"/><stop offset="0.7427" stop-color="#e6bf1a"/><stop offset="0.7650" stop-color="#e68000"/><stop offset="0.7987" stop-color="#ff4026"/><stop offset="0.8202" stop-color="#993380"/><stop offset="0.8605" stop-color="#4c26bf"/><stop offset="0.9153" stop-color="#262680"/><stop offset="0.9970" stop-color="#000000"/></linearGradient><linearGradient id="g528" x1="0" y1="182.20" x2="0" y2="315.50" gradientUnits="userSpaceOnUse"><stop offset="0.6317" stop-color="#ffffff"/><stop offset="0.6611" stop-color="#efefad"/><stop offset="0.7161" stop-color="#e6e680"/><stop offset="0.7446" stop-color="#e6bf1a"/><stop offset="0.7665" stop-color="#e68000"/><stop offset="0.8000" stop-color="#ff4026"/><stop offset="0.8216" stop-color="#993380"/><stop offset="0.8623" stop-color="#4c26bf"/><stop offset="0.9167" stop-color="#262680"/><stop offset="0.9997" stop-color="#000000"/></linearGradient><linearGradient id="g529" x1="0" y1="182.20" x2="0" y2="315.50" gradientUnits="userSpaceOnUse"><stop offset="0.6313" stop-color="#ffffff"/><stop offset="0.6614" stop-color="#efefad"/><stop offset="0.7179" stop-color="#e6e680"/><stop offset="0.7466" stop-color="#e6bf1a"/><stop offset="0.7680" stop-color="#e68000"/><stop offset="0.8013" stop-color="#ff4026"/><stop offset="0.8229" stop-color="#993380"/><stop offset="0.8641" stop-color="#4c26bf"/><stop offset="0.9181" stop-color="#262680"/><stop offset="1.0026" stop-color="#000000"/></linearGradient><linearGradient id="g52a" x1="0" y1="182.20" x2="0" y2="315.50" gradientUnits="userSpaceOnUse"><stop offset="0.6308" stop-color="#ffffff"/><stop offset="0.6615" stop-color="#efefad"/><stop offset="0.7197" stop-color="#e6e680"/><stop offset="0.7485" stop-color="#e6bf1a"/><stop offset="0.7694" stop-color="#e68000"/><stop offset="0.8022" stop-color="#ff4026"/><stop offset="0.8241" stop-color="#993380"/><stop offset="0.8657" stop-color="#4c26bf"/><stop offset="0.9194" stop-color="#262680"/><stop offset="1.0054" stop-color="#000000"/></linearGradient><linearGradient id="g52b" x1="0" y1="182.20" x2="0" y2="315.50" gradientUnits="userSpaceOnUse"><stop offset="0.6303" stop-color="#ffffff"/><stop offset="0.6616" stop-color="#efefad"/><stop offset="0.7214" stop-color="#e6e680"/><stop offset="0.7503" stop-color="#e6bf1a"/><stop offset="0.7708" stop-color="#e68000"/><stop offset="0.8032" stop-color="#ff4026"/><stop offset="0.8251" stop-color="#993380"/><stop offset="0.8674" stop-color="#4c26bf"/><stop offset="0.9204" stop-color="#262680"/><stop offset="1.0075" stop-color="#000000"/></linearGradient><linearGradient id="g52c" x1="0" y1="182.20" x2="0" y2="315.50" gradientUnits="userSpaceOnUse"><stop offset="0.6296" stop-color="#ffffff"/><stop offset="0.6616" stop-color="#efefad"/><stop offset="0.7229" stop-color="#e6e680"/><stop offset="0.7520" stop-color="#e6bf1a"/><stop offset="0.7721" stop-color="#e68000"/><stop offset="0.8043" stop-color="#ff4026"/><stop offset="0.8264" stop-color="#993380"/><stop offset="0.8689" stop-color="#4c26bf"/><stop offset="0.9212" stop-color="#262680"/><stop offset="1.0075" stop-color="#000000"/></linearGradient><linearGradient id="g52d" x1="0" y1="182.20" x2="0" y2="315.50" gradientUnits="userSpaceOnUse"><stop offset="0.6289" stop-color="#ffffff"/><stop offset="0.6616" stop-color="#efefad"/><stop offset="0.7242" stop-color="#e6e680"/><stop offset="0.7536" stop-color="#e6bf1a"/><stop offset="0.7733" stop-color="#e68000"/><stop offset="0.8050" stop-color="#ff4026"/><stop offset="0.8274" stop-color="#993380"/><stop offset="0.8704" stop-color="#4c26bf"/><stop offset="0.9221" stop-color="#262680"/><stop offset="1.0075" stop-color="#000000"/></linearGradient><linearGradient id="g52e" x1="0" y1="182.20" x2="0" y2="315.50" gradientUnits="userSpaceOnUse"><stop offset="0.6281" stop-color="#ffffff"/><stop offset="0.6616" stop-color="#efefad"/><stop offset="0.7254" stop-color="#e6e680"/><stop offset="0.7553" stop-color="#e6bf1a"/><stop offset="0.7744" stop-color="#e68000"/><stop offset="0.8058" stop-color="#ff4026"/><stop offset="0.8281" stop-color="#993380"/><stop offset="0.8718" stop-color="#4c26bf"/><stop offset="0.9226" stop-color="#262680"/><stop offset="1.0075" stop-color="#000000"/></linearGradient><linearGradient id="g52f" x1="0" y1="182.20" x2="0" y2="315.50" gradientUnits="userSpaceOnUse"><stop offset="0.6272" stop-color="#ffffff"/><stop offset="0.6616" stop-color="#efefad"/><stop offset="0.7266" stop-color="#e6e680"/><stop offset="0.7568" stop-color="#e6bf1a"/><stop offset="0.7755" stop-color="#e68000"/><stop offset="0.8064" stop-color="#ff4026"/><stop offset="0.8292" stop-color="#993380"/><stop offset="0.8731" stop-color="#4c26bf"/><stop offset="0.9236" stop-color="#262680"/><stop offset="1.0075" stop-color="#000000"/></linearGradient><linearGradient id="g52g" x1="0" y1="182.20" x2="0" y2="315.50" gradientUnits="userSpaceOnUse"><stop offset="0.6263" stop-color="#ffffff"/><stop offset="0.6615" stop-color="#efefad"/><stop offset="0.7279" stop-color="#e6e680"/><stop offset="0.7583" stop-color="#e6bf1a"/><stop offset="0.7766" stop-color="#e68000"/><stop offset="0.8071" stop-color="#ff4026"/><stop offset="0.8297" stop-color="#993380"/><stop offset="0.8744" stop-color="#4c26bf"/><stop offset="0.9250" stop-color="#262680"/><stop offset="1.0075" stop-color="#000000"/></linearGradient><linearGradient id="g52h" x1="0" y1="182.20" x2="0" y2="315.50" gradientUnits="userSpaceOnUse"><stop offset="0.6252" stop-color="#ffffff"/><stop offset="0.6613" stop-color="#efefad"/><stop offset="0.7293" stop-color="#e6e680"/><stop offset="0.7598" stop-color="#e6bf1a"/><stop offset="0.7775" stop-color="#e68000"/><stop offset="0.8076" stop-color="#ff4026"/><stop offset="0.8306" stop-color="#993380"/><stop offset="0.8755" stop-color="#4c26bf"/><stop offset="0.9268" stop-color="#262680"/><stop offset="1.0075" stop-color="#000000"/></linearGradient><linearGradient id="g52i" x1="0" y1="182.20" x2="0" y2="315.50" gradientUnits="userSpaceOnUse"><stop offset="0.6241" stop-color="#ffffff"/><stop offset="0.6609" stop-color="#efefad"/><stop offset="0.7307" stop-color="#e6e680"/><stop offset="0.7612" stop-color="#e6bf1a"/><stop offset="0.7784" stop-color="#e68000"/><stop offset="0.8080" stop-color="#ff4026"/><stop offset="0.8311" stop-color="#993380"/><stop offset="0.8766" stop-color="#4c26bf"/><stop offset="0.9292" stop-color="#262680"/><stop offset="1.0075" stop-color="#000000"/></linearGradient><linearGradient id="g52j" x1="0" y1="182.20" x2="0" y2="315.50" gradientUnits="userSpaceOnUse"><stop offset="0.6229" stop-color="#ffffff"/><stop offset="0.6601" stop-color="#efefad"/><stop offset="0.7313" stop-color="#e6e680"/><stop offset="0.7626" stop-color="#e6bf1a"/><stop offset="0.7793" stop-color="#e68000"/><stop offset="0.8084" stop-color="#ff4026"/><stop offset="0.8316" stop-color="#993380"/><stop offset="0.8776" stop-color="#4c26bf"/><stop offset="0.9320" stop-color="#262680"/><stop offset="1.0075" stop-color="#000000"/></linearGradient><linearGradient id="g52k" x1="0" y1="182.20" x2="0" y2="315.50" gradientUnits="userSpaceOnUse"><stop offset="0.6215" stop-color="#ffffff"/><stop offset="0.6599" stop-color="#efefad"/><stop offset="0.7324" stop-color="#e6e680"/><stop offset="0.7639" stop-color="#e6bf1a"/><stop offset="0.7800" stop-color="#e68000"/><stop offset="0.8087" stop-color="#ff4026"/><stop offset="0.8322" stop-color="#993380"/><stop offset="0.8786" stop-color="#4c26bf"/><stop offset="0.9356" stop-color="#262680"/><stop offset="1.0075" stop-color="#000000"/></linearGradient><linearGradient id="cbg" x2="0" y2="1"><stop offset="0.0000" stop-color="#ffffff"/><stop offset="0.1250" stop-color="#e6e680"/><stop offset="0.2500" stop-color="#e6bf1a"/><stop offset="0.3750" stop-color="#e68000"/><stop offset="0.5000" stop-color="#ff4026"/><stop offset="0.6250" stop-color="#993380"/><stop offset="0.7500" stop-color="#4c26bf"/><stop offset="0.8750" stop-color="#262680"/><stop offset="1.0000" stop-color="#000000"/></linearGradient></defs><g><g clip-path="url(#cp0)"><rect x="37" y="13.8" width="1" height="135.3" fill="#000"/><rect x="38" y="13.8" width="1" height="135.3" fill="#000"/><rect x="39" y="13.8" width="1" height="135.3" fill="#000"/><rect x="40" y="13.8" width="1" height="135.3" fill="#000"/><rect x="41" y="13.8" width="1" height="135.3" fill="url(#g00)"/><rect x="42" y="13.8" width="1" height="135.3" fill="url(#g01)"/><rect x="43" y="13.8" width="1" height="135.3" fill="url(#g02)"/><rect x="44" y="13.8" width="1" height="135.3" fill="url(#g03)"/><rect x="45" y="13.8" width="1" height="135.3" fill="url(#g04)"/><rect x="46" y="13.8" width="1" height="135.3" fill="url(#g05)"/><rect x="47" y="13.8" width="1" height="135.3" fill="url(#g06)"/><rect x="48" y="13.8" width="1" height="135.3" fill="url(#g07)"/><rect x="49" y="13.8" width="1" height="135.3" fill="url(#g08)"/><rect x="50" y="13.8" width="1" height="135.3" fill="url(#g09)"/><rect x="51" y="13.8" width="1" height="135.3" fill="url(#g0a)"/><rect x="52" y="13.8" width="1" height="135.3" fill="url(#g0b)"/><rect x="53" y="13.8" width="1" height="135.3" fill="url(#g0c)"/><rect x="54" y="13.8" width="1" height="135.3" fill="url(#g0d)"/><rect x="55" y="13.8" width="1" height="135.3" fill="url(#g0e)"/><rect x="56" y="13.8" width="1" height="135.3" fill="url(#g0f)"/><rect x="57" y="13.8" width="1" height="135.3" fill="url(#g0g)"/><rect x="58" y="13.8" width="1" height="135.3" fill="url(#g0h)"/><rect x="59" y="13.8" width="1" height="135.3" fill="url(#g0i)"/><rect x="60" y="13.8" width="2" height="135.3" fill="url(#g0j)"/><rect x="62" y="13.8" width="2" height="135.3" fill="url(#g0k)"/><rect x="64" y="13.8" width="2" height="135.3" fill="url(#g0l)"/><rect x="66" y="13.8" width="2" height="135.3" fill="url(#g0m)"/><rect x="68" y="13.8" width="2" height="135.3" fill="url(#g0n)"/><rect x="70" y="13.8" width="2" height="135.3" fill="url(#g0o)"/><rect x="72" y="13.8" width="2" height="135.3" fill="url(#g0p)"/><rect x="74" y="13.8" width="2" height="135.3" fill="url(#g0q)"/><rect x="76" y="13.8" width="2" height="135.3" fill="url(#g0r)"/><rect x="78" y="13.8" width="2" height="135.3" fill="url(#g0s)"/><rect x="80" y="13.8" width="2" height="135.3" fill="url(#g0t)"/><rect x="82" y="13.8" width="2" height="135.3" fill="url(#g0u)"/><rect x="84" y="13.8" width="2" height="135.3" fill="url(#g0v)"/><rect x="86" y="13.8" width="2" height="135.3" fill="url(#g0w)"/><rect x="88" y="13.8" width="2" height="135.3" fill="url(#g0x)"/><rect x="90" y="13.8" width="2" height="135.3" fill="url(#g0y)"/><rect x="92" y="13.8" width="2" height="135.3" fill="url(#g0z)"/><rect x="94" y="13.8" width="2" height="135.3" fill="url(#g010)"/><rect x="96" y="13.8" width="2" height="135.3" fill="url(#g011)"/><rect x="98" y="13.8" width="2" height="135.3" fill="url(#g012)"/><rect x="100" y="13.8" width="2" height="135.3" fill="url(#g013)"/><rect x="102" y="13.8" width="2" height="135.3" fill="url(#g014)"/><rect x="104" y="13.8" width="2" height="135.3" fill="url(#g015)"/><rect x="106" y="13.8" width="2" height="135.3" fill="url(#g016)"/><rect x="108" y="13.8" width="2" height="135.3" fill="url(#g017)"/><rect x="110" y="13.8" width="2" height="135.3" fill="url(#g018)"/><rect x="112" y="13.8" width="2" height="135.3" fill="url(#g019)"/><rect x="114" y="13.8" width="2" height="135.3" fill="url(#g01a)"/><rect x="116" y="13.8" width="2" height="135.3" fill="url(#g01b)"/><rect x="118" y="13.8" width="2" height="135.3" fill="url(#g01c)"/><rect x="120" y="13.8" width="2" height="135.3" fill="url(#g01d)"/><rect x="122" y="13.8" width="2" height="135.3" fill="url(#g01e)"/><rect x="124" y="13.8" width="2" height="135.3" fill="url(#g01f)"/><rect x="126" y="13.8" width="2" height="135.3" fill="url(#g01g)"/><rect x="128" y="13.8" width="2" height="135.3" fill="url(#g01h)"/><rect x="130" y="13.8" width="2" height="135.3" fill="url(#g01i)"/><rect x="132" y="13.8" width="2" height="135.3" fill="url(#g01j)"/><rect x="134" y="13.8" width="2" height="135.3" fill="url(#g01k)"/><rect x="136" y="13.8" width="2" height="135.3" fill="url(#g01l)"/><rect x="138" y="13.8" width="2" height="135.3" fill="url(#g01m)"/><rect x="140" y="13.8" width="2" height="135.3" fill="url(#g01n)"/><rect x="142" y="13.8" width="2" height="135.3" fill="url(#g01o)"/><rect x="144" y="13.8" width="2" height="135.3" fill="url(#g01p)"/><rect x="146" y="13.8" width="2" height="135.3" fill="url(#g01q)"/><rect x="148" y="13.8" width="2" height="135.3" fill="url(#g01r)"/><rect x="150" y="13.8" width="2" height="135.3" fill="url(#g01s)"/><rect x="152" y="13.8" width="2" height="135.3" fill="url(#g01t)"/><rect x="154" y="13.8" width="2" height="135.3" fill="url(#g01u)"/><rect x="156" y="13.8" width="2" height="135.3" fill="url(#g01v)"/><rect x="158" y="13.8" width="2" height="135.3" fill="url(#g01w)"/><rect x="160" y="13.8" width="2" height="135.3" fill="url(#g01x)"/><rect x="162" y="13.8" width="2" height="135.3" fill="url(#g01y)"/><rect x="164" y="13.8" width="2" height="135.3" fill="url(#g01z)"/><rect x="166" y="13.8" width="2" height="135.3" fill="url(#g020)"/><rect x="168" y="13.8" width="2" height="135.3" fill="url(#g021)"/><rect x="170" y="13.8" width="2" height="135.3" fill="url(#g022)"/><rect x="172" y="13.8" width="2" height="135.3" fill="url(#g023)"/><rect x="174" y="13.8" width="2" height="135.3" fill="url(#g024)"/><rect x="176" y="13.8" width="2" height="135.3" fill="url(#g025)"/><rect x="178" y="13.8" width="2" height="135.3" fill="url(#g026)"/><rect x="180" y="13.8" width="2" height="135.3" fill="url(#g027)"/><rect x="182" y="13.8" width="2" height="135.3" fill="url(#g028)"/><rect x="184" y="13.8" width="2" height="135.3" fill="url(#g029)"/><rect x="186" y="13.8" width="2" height="135.3" fill="url(#g02a)"/><rect x="188" y="13.8" width="2" height="135.3" fill="url(#g02b)"/><rect x="190" y="13.8" width="2" height="135.3" fill="url(#g02c)"/><rect x="192" y="13.8" width="2" height="135.3" fill="url(#g02d)"/><rect x="194" y="13.8" width="2" height="135.3" fill="url(#g02e)"/><rect x="196" y="13.8" width="2" height="135.3" fill="url(#g02f)"/><rect x="198" y="13.8" width="2" height="135.3" fill="url(#g02g)"/><rect x="200" y="13.8" width="2" height="135.3" fill="url(#g02h)"/><rect x="202" y="13.8" width="2" height="135.3" fill="url(#g02i)"/><rect x="204" y="13.8" width="2" height="135.3" fill="url(#g02j)"/><rect x="206" y="13.8" width="2" height="135.3" fill="url(#g02k)"/><rect x="208" y="13.8" width="2" height="135.3" fill="url(#g02l)"/><rect x="210" y="13.8" width="2" height="135.3" fill="url(#g02m)"/></g><g clip-path="url(#cp1)"><rect x="239.2" y="13.8" width="175.9" height="135.3" fill="#fff"/><path d="M240 149.1V13.8H241V13.8H242V13.8H243V13.8H244V13.8H245V16.4H246V23.0H247V29.6H248V36.2H249V42.8H250V49.4H251V57.9H252V66.6H253V75.3H254V81.6H255V81.6H256V81.7H257V81.9H258V82.3H261V82.9H264V83.4H267V83.9H270V84.4H273V84.9H276V85.3H279V85.7H282V86.0H285V86.3H288V86.6H291V86.9H294V87.1H297V87.3H300V87.5H303V87.7H306V87.8H309V87.9H312V87.9H315V87.9H318V88.0H321V88.0H324V88.0H327V88.0H330V88.0H333V88.1H336V88.1H339V88.1H342V88.1H345V88.2H348V88.2H351V88.2H354V88.2H357V88.3H360V88.3H363V88.3H366V88.3H369V88.4H372V88.4H375V88.4H378V88.5H381V88.5H384V88.5H387V88.5H390V88.6H393V88.6H396V88.6H399V88.7H402V88.7H405V88.7H408V88.8H411V88.8H414V88.8H417V149.1Z" fill="#f5f5cc"/><path d="M240 149.1V13.8H241V13.8H242V13.8H243V13.8H244V13.8H245V17.4H246V24.0H247V30.6H248V37.2H249V43.8H250V50.5H251V59.2H252V67.9H253V76.6H254V81.9H255V81.9H256V82.0H257V82.2H258V82.6H261V83.2H264V83.8H267V84.3H270V84.8H273V85.2H276V85.7H279V86.1H282V86.4H285V86.7H288V87.0H291V87.3H294V87.5H297V87.7H300V87.9H303V88.0H306V88.2H309V88.2H312V88.3H315V88.3H318V88.3H321V88.4H324V88.4H327V88.4H330V88.4H333V88.4H336V88.5H339V88.5H342V88.5H345V88.5H348V88.6H351V88.6H354V88.6H357V88.6H360V88.6H363V88.7H366V88.7H369V88.7H372V88.7H375V88.8H378V88.8H381V88.8H384V88.9H387V88.9H390V88.9H393V88.9H396V89.0H399V89.0H402V89.0H405V89.1H408V89.1H411V89.1H414V89.2H417V149.1Z" fill="#ebeb99"/><path d="M240 149.1V13.8H241V13.8H242V13.8H243V13.8H244V13.8H245V18.0H246V24.6H247V31.2H248V37.8H249V44.4H250V51.4H251V60.1H252V68.8H253V77.5H254V87.1H255V88.0H256V88.2H257V88.5H258V89.2H261V90.1H264V90.9H267V91.7H270V92.4H273V93.1H276V93.6H279V94.2H282V94.6H285V95.0H288V95.3H291V95.5H294V95.7H297V95.8H300V95.9H303V96.0H306V96.1H309V96.1H312V96.2H315V96.2H318V96.3H321V96.3H324V96.3H327V96.3H330V96.3H333V96.3H336V96.3H339V96.3H342V96.3H345V96.2H348V96.2H351V96.1H354V96.1H357V96.0H360V96.0H363V96.0H366V95.9H369V95.9H372V95.9H375V95.9H378V95.9H381V95.9H384V96.0H387V96.0H390V96.0H393V96.1H396V96.1H399V96.2H402V96.2H405V96.3H408V96.4H411V96.5H414V96.5H417V149.1Z" fill="#e6de6b"/><path d="M240 149.1V13.8H241V13.8H242V13.8H243V13.8H244V13.8H245V18.7H246V25.3H247V31.9H248V38.5H249V45.1H250V52.2H251V60.9H252V69.7H253V78.4H254V88.4H255V90.2H256V90.4H257V90.7H258V91.3H261V92.2H264V93.0H267V93.7H270V94.4H273V95.1H276V95.6H279V96.2H282V96.6H285V97.0H288V97.4H291V97.7H294V97.9H297V98.1H300V98.2H303V98.3H306V98.4H309V98.5H312V98.6H315V98.6H318V98.6H321V98.6H324V98.7H327V98.7H330V98.7H333V98.7H336V98.7H339V98.7H342V98.7H345V98.7H348V98.7H351V98.7H354V98.7H357V98.7H360V98.7H363V98.7H366V98.7H369V98.7H372V98.7H375V98.8H378V98.8H381V98.9H384V98.9H387V99.0H390V99.0H393V99.1H396V99.2H399V99.3H402V99.4H405V99.5H408V99.6H411V99.7H414V99.7H417V149.1Z" fill="#e6cf42"/><path d="M240 149.1V13.8H241V13.8H242V13.8H243V13.8H244V13.8H245V19.3H246V25.9H247V32.6H248V39.2H249V45.8H250V53.1H251V61.8H252V70.5H253V79.3H254V89.6H255V92.4H256V92.6H257V92.9H258V93.4H261V94.3H264V95.0H267V95.8H270V96.4H273V97.1H276V97.6H279V98.2H282V98.6H285V99.1H288V99.4H291V99.8H294V100.1H297V100.3H300V100.5H303V100.7H306V100.8H309V100.9H312V100.9H315V100.9H318V100.9H321V101.0H324V101.0H327V101.0H330V101.0H333V101.0H336V101.1H339V101.1H342V101.1H345V101.2H348V101.2H351V101.2H354V101.2H357V101.3H360V101.3H363V101.4H366V101.4H369V101.5H372V101.6H375V101.6H378V101.7H381V101.8H384V101.9H387V102.0H390V102.1H393V102.2H396V102.3H399V102.4H402V102.5H405V102.6H408V102.7H411V102.9H414V102.9H417V149.1Z" fill="#e6bf1a"/><path d="M240 149.1V13.8H241V13.8H242V13.8H243V13.8H244V13.8H245V20.0H246V26.6H247V33.2H248V39.8H249V46.4H250V54.0H251V62.7H252V71.4H253V80.1H254V90.9H255V94.5H256V94.7H257V95.0H258V95.5H261V96.3H264V97.1H267V97.8H270V98.5H273V99.1H276V99.7H279V100.3H282V100.8H285V101.2H288V101.6H291V102.0H294V102.3H297V102.6H300V102.8H303V103.0H306V103.1H309V103.2H312V103.3H315V103.3H318V103.3H321V103.3H324V103.4H327V103.4H330V103.4H333V103.5H336V103.5H339V103.5H342V103.6H345V103.6H348V103.7H351V103.7H354V103.8H357V103.9H360V103.9H363V104.0H366V104.1H369V104.2H372V104.3H375V104.4H378V104.4H381V104.5H384V104.6H387V104.8H390V104.9H393V105.0H396V105.1H399V105.2H402V105.3H405V105.5H408V105.6H411V105.8H414V105.8H417V149.1Z" fill="#e6a60f"/><path d="M240 149.1V13.8H241V13.8H242V13.8H243V13.8H244V13.8H245V20.7H246V27.3H247V33.9H248V40.5H249V47.1H250V54.8H251V63.6H252V72.3H253V81.0H254V92.1H255V96.5H256V96.7H257V97.0H258V97.6H261V98.4H264V99.2H267V99.9H270V100.6H273V101.3H276V101.9H279V102.5H282V103.0H285V103.5H288V103.9H291V104.3H294V104.6H297V104.9H300V105.2H303V105.4H306V105.5H309V105.6H312V105.7H315V105.7H318V105.7H321V105.8H324V105.8H327V105.8H330V105.9H333V105.9H336V106.0H339V106.0H342V106.1H345V106.1H348V106.2H351V106.3H354V106.3H357V106.4H360V106.5H363V106.6H366V106.7H369V106.7H372V106.8H375V106.9H378V107.0H381V107.1H384V107.2H387V107.3H390V107.5H393V107.6H396V107.7H399V107.8H402V108.0H405V108.1H408V108.2H411V108.4H414V108.4H417V149.1Z" fill="#e68c05"/><path d="M240 149.1V13.8H241V13.8H242V13.8H243V13.8H244V13.8H245V21.3H246V27.9H247V34.5H248V41.1H249V47.7H250V55.7H251V64.4H252V73.2H253V81.9H254V93.3H255V98.5H256V98.7H257V99.0H258V99.6H261V100.5H264V101.3H267V102.0H270V102.8H273V103.5H276V104.1H279V104.7H282V105.2H285V105.7H288V106.2H291V106.6H294V106.9H297V107.2H300V107.5H303V107.7H306V107.9H309V108.0H312V108.1H315V108.1H318V108.2H321V108.2H324V108.3H327V108.3H330V108.4H333V108.4H336V108.5H339V108.5H342V108.6H345V108.7H348V108.7H351V108.8H354V108.9H357V109.0H360V109.0H363V109.1H366V109.2H369V109.3H372V109.4H375V109.5H378V109.6H381V109.7H384V109.8H387V109.9H390V110.1H393V110.2H396V110.3H399V110.4H402V110.6H405V110.7H408V110.8H411V111.0H414V111.0H417V149.1Z" fill="#eb7308"/><path d="M240 149.1V13.8H241V13.8H242V13.8H243V13.8H244V15.4H245V22.0H246V28.6H247V35.2H248V41.8H249V48.4H250V56.6H251V65.3H252V74.0H253V82.7H254V94.6H255V100.1H256V100.3H257V100.6H258V101.2H261V102.1H264V103.0H267V103.8H270V104.5H273V105.2H276V105.9H279V106.5H282V107.0H285V107.5H288V107.9H291V108.3H294V108.7H297V108.9H300V109.2H303V109.4H306V109.6H309V109.7H312V109.9H315V110.0H318V110.1H321V110.1H324V110.2H327V110.3H330V110.4H333V110.5H336V110.6H339V110.7H342V110.8H345V110.9H348V110.9H351V111.0H354V111.1H357V111.2H360V111.3H363V111.4H366V111.5H369V111.6H372V111.7H375V111.8H378V111.9H381V112.1H384V112.2H387V112.3H390V112.5H393V112.6H396V112.8H399V112.9H402V113.1H405V113.2H408V113.4H411V113.5H414V113.6H417V149.1Z" fill="#f55917"/><path d="M240 149.1V13.8H241V13.8H242V13.8H243V13.8H244V16.0H245V22.6H246V29.2H247V35.9H248V42.5H249V49.1H250V57.5H251V66.2H252V74.9H253V83.6H254V95.8H255V101.7H256V101.9H257V102.2H258V102.9H261V103.8H264V104.7H267V105.5H270V106.3H273V107.0H276V107.7H279V108.3H282V108.8H285V109.3H288V109.7H291V110.1H294V110.4H297V110.6H300V110.9H303V111.1H306V111.3H309V111.5H312V111.6H315V111.8H318V111.9H321V112.1H324V112.2H327V112.4H330V112.5H333V112.6H336V112.7H339V112.8H342V112.9H345V113.1H348V113.1H351V113.2H354V113.3H357V113.4H360V113.5H363V113.6H366V113.8H369V113.9H372V114.0H375V114.1H378V114.3H381V114.4H384V114.6H387V114.7H390V114.9H393V115.0H396V115.2H399V115.4H402V115.6H405V115.7H408V115.9H411V116.1H414V116.2H417V149.1Z" fill="#ff4026"/><path d="M240 149.1V13.8H241V13.8H242V13.8H243V13.8H244V16.7H245V23.3H246V29.9H247V36.5H248V43.1H249V49.7H250V58.3H251V67.1H252V75.8H253V84.7H254V97.1H255V103.1H256V103.3H257V103.7H258V104.4H261V105.4H264V106.3H267V107.2H270V108.0H273V108.8H276V109.5H279V110.2H282V110.8H285V111.3H288V111.8H291V112.2H294V112.6H297V112.9H300V113.1H303V113.4H306V113.7H309V113.9H312V114.1H315V114.3H318V114.5H321V114.7H324V114.8H327V115.0H330V115.2H333V115.3H336V115.5H339V115.6H342V115.8H345V115.9H348V116.0H351V116.2H354V116.3H357V116.4H360V116.6H363V116.7H366V116.8H369V117.0H372V117.1H375V117.3H378V117.4H381V117.6H384V117.8H387V117.9H390V118.1H393V118.3H396V118.5H399V118.7H402V118.9H405V119.1H408V119.3H411V119.5H414V119.6H417V149.1Z" fill="#d63b4a"/><path d="M240 149.1V13.8H241V13.8H242V13.8H243V13.8H244V17.4H245V24.0H246V30.6H247V37.2H248V43.8H249V50.5H250V59.2H251V67.9H252V76.6H253V85.9H254V98.3H255V104.4H256V104.6H257V104.9H258V105.7H261V106.8H264V107.8H267V108.8H270V109.7H273V110.6H276V111.4H279V112.2H282V112.9H285V113.6H288V114.1H291V114.7H294V115.2H297V115.6H300V116.0H303V116.4H306V116.7H309V117.0H312V117.2H315V117.5H318V117.7H321V117.9H324V118.1H327V118.3H330V118.5H333V118.7H336V118.9H339V119.1H342V119.3H345V119.5H348V119.6H351V119.8H354V120.0H357V120.2H360V120.4H363V120.5H366V120.7H369V120.9H372V121.1H375V121.3H378V121.5H381V121.7H384V121.8H387V122.0H390V122.2H393V122.4H396V122.6H399V122.8H402V123.0H405V123.2H408V123.4H411V123.6H414V123.7H417V149.1Z" fill="#ad366e"/><path d="M240 149.1V13.8H241V13.8H242V13.8H243V13.8H244V18.0H245V24.6H246V31.2H247V37.8H248V44.4H249V51.4H250V60.1H251V68.8H252V77.5H253V87.1H254V99.5H255V105.6H256V105.8H257V106.2H258V107.0H261V108.2H264V109.3H267V110.4H270V111.4H273V112.4H276V113.3H279V114.2H282V115.0H285V115.8H288V116.5H291V117.2H294V117.8H297V118.3H300V118.9H303V119.3H306V119.7H309V120.1H312V120.4H315V120.6H318V120.9H321V121.1H324V121.3H327V121.6H330V121.8H333V122.1H336V122.3H339V122.5H342V122.8H345V123.0H348V123.2H351V123.5H354V123.7H357V123.9H360V124.2H363V124.4H366V124.6H369V124.8H372V125.0H375V125.3H378V125.5H381V125.7H384V125.9H387V126.1H390V126.3H393V126.5H396V126.8H399V127.0H402V127.2H405V127.4H408V127.6H411V127.8H414V127.9H417V149.1Z" fill="#8a308c"/><path d="M240 149.1V13.8H241V13.8H242V13.8H243V13.8H244V18.7H245V25.3H246V31.9H247V38.5H248V45.1H249V52.2H250V60.9H251V69.7H252V78.4H253V88.4H254V100.8H255V107.4H256V107.6H257V108.0H258V108.9H261V110.1H264V111.2H267V112.3H270V113.4H273V114.4H276V115.4H279V116.3H282V117.1H285V117.9H288V118.7H291V119.4H294V120.1H297V120.7H300V121.3H303V121.8H306V122.2H309V122.7H312V123.0H315V123.3H318V123.6H321V124.0H324V124.3H327V124.6H330V124.8H333V125.1H336V125.4H339V125.7H342V126.0H345V126.2H348V126.5H351V126.8H354V127.0H357V127.3H360V127.5H363V127.7H366V128.0H369V128.2H372V128.4H375V128.6H378V128.9H381V129.1H384V129.3H387V129.5H390V129.7H393V129.9H396V130.1H399V130.2H402V130.4H405V130.6H408V130.7H411V130.9H414V131.0H417V149.1Z" fill="#6b2ba6"/><path d="M240 149.1V13.8H241V13.8H242V13.8H243V13.8H244V19.3H245V25.9H246V32.6H247V39.2H248V45.8H249V53.1H250V61.8H251V70.5H252V79.3H253V89.6H254V102.0H255V109.2H256V109.4H257V109.8H258V110.7H261V111.9H264V113.1H267V114.2H270V115.3H273V116.4H276V117.4H279V118.3H282V119.2H285V120.1H288V120.9H291V121.7H294V122.4H297V123.0H300V123.7H303V124.2H306V124.8H309V125.2H312V125.7H315V126.1H318V126.4H321V126.8H324V127.2H327V127.5H330V127.9H333V128.2H336V128.5H339V128.8H342V129.2H345V129.5H348V129.8H351V130.0H354V130.3H357V130.6H360V130.9H363V131.1H366V131.3H369V131.6H372V131.8H375V132.0H378V132.2H381V132.5H384V132.6H387V132.8H390V133.0H393V133.2H396V133.3H399V133.5H402V133.6H405V133.8H408V133.9H411V134.0H414V134.1H417V149.1Z" fill="#4c26bf"/><path d="M240 149.1V13.8H241V13.8H242V13.8H243V13.8H244V20.0H245V26.6H246V33.2H247V39.8H248V46.4H249V54.0H250V62.7H251V71.4H252V80.1H253V90.9H254V103.2H255V111.1H256V111.3H257V111.8H258V112.6H261V113.9H264V115.1H267V116.3H270V117.5H273V118.5H276V119.6H279V120.6H282V121.5H285V122.4H288V123.3H291V124.1H294V124.8H297V125.5H300V126.2H303V126.8H306V127.4H309V127.9H312V128.4H315V128.8H318V129.2H321V129.6H324V130.0H327V130.4H330V130.8H333V131.1H336V131.5H339V131.8H342V132.2H345V132.5H348V132.8H351V133.1H354V133.4H357V133.7H360V134.0H363V134.3H366V134.5H369V134.8H372V135.0H375V135.3H378V135.5H381V135.7H384V135.9H387V136.1H390V136.3H393V136.5H396V136.7H399V136.8H402V137.0H405V137.1H408V137.3H411V137.4H414V137.4H417V149.1Z" fill="#3d26a6"/><path d="M240 149.1V13.8H241V13.8H242V13.8H243V13.8H244V20.7H245V27.3H246V33.9H247V40.5H248V47.1H249V54.8H250V63.6H251V72.3H252V81.0H253V92.1H254V104.5H255V113.1H256V113.3H257V113.8H258V114.7H261V116.0H264V117.3H267V118.6H270V119.8H273V120.9H276V122.0H279V123.0H282V124.0H285V125.0H288V125.8H291V126.7H294V127.5H297V128.2H300V128.9H303V129.5H306V130.1H309V130.6H312V131.1H315V131.5H318V132.0H321V132.4H324V132.8H327V133.2H330V133.6H333V133.9H336V134.3H339V134.7H342V135.0H345V135.4H348V135.7H351V136.1H354V136.4H357V136.7H360V137.0H363V137.3H366V137.6H369V137.9H372V138.1H375V138.4H378V138.7H381V138.9H384V139.1H387V139.4H390V139.6H393V139.8H396V140.0H399V140.2H402V140.4H405V140.6H408V140.8H411V140.9H414V141.0H417V149.1Z" fill="#2e268c"/><path d="M240 149.1V13.8H241V13.8H242V13.8H243V13.8H244V21.3H245V27.9H246V34.5H247V41.1H248V47.7H249V55.7H250V64.4H251V73.2H252V81.9H253V93.3H254V105.7H255V115.1H256V115.3H257V115.8H258V116.8H261V118.2H264V119.5H267V120.8H270V122.1H273V123.3H276V124.4H279V125.5H282V126.5H285V127.5H288V128.4H291V129.3H294V130.1H297V130.9H300V131.6H303V132.2H306V132.8H309V133.4H312V133.9H315V134.3H318V134.7H321V135.1H324V135.6H327V136.0H330V136.4H333V136.8H336V137.1H339V137.5H342V137.9H345V138.3H348V138.6H351V139.0H354V139.3H357V139.6H360V140.0H363V140.3H366V140.6H369V140.9H372V141.2H375V141.5H378V141.8H381V142.1H384V142.3H387V142.6H390V142.9H393V143.1H396V143.4H399V143.6H402V143.8H405V144.0H408V144.3H411V144.5H414V144.6H417V149.1Z" fill="#1f1f66"/><path d="M240 149.1V13.8H241V13.8H242V13.8H243V15.4H244V22.0H245V28.6H246V35.2H247V41.8H248V48.4H249V56.6H250V65.3H251V74.0H252V82.7H253V94.6H254V107.0H255V116.0H256V116.3H257V116.8H258V117.8H261V119.2H264V120.6H267V121.9H270V123.2H273V124.4H276V125.6H279V126.7H282V127.8H285V128.8H288V129.8H291V130.7H294V131.6H297V132.4H300V133.2H303V133.9H306V134.6H309V135.2H312V135.8H315V136.3H318V136.8H321V137.3H324V137.8H327V138.3H330V138.8H333V139.2H336V139.7H339V140.1H342V140.6H345V141.0H348V141.4H351V141.8H354V142.2H357V142.6H360V142.9H363V143.3H366V143.7H369V144.0H372V144.3H375V144.6H378V145.0H381V145.3H384V145.5H387V145.8H390V146.1H393V146.3H396V146.6H399V146.8H402V147.1H405V147.3H408V147.5H411V147.7H414V147.8H417V149.1Z" fill="#0f0f33"/><path d="M240 149.1V13.8H241V13.8H242V13.8H243V16.0H244V22.6H245V29.2H246V35.9H247V42.5H248V49.1H249V57.5H250V66.2H251V74.9H252V83.6H253V95.8H254V108.2H255V117.0H256V117.3H257V117.8H258V118.8H261V120.2H264V121.6H267V123.0H270V124.3H273V125.6H276V126.8H279V127.9H282V129.1H285V130.1H288V131.2H291V132.1H294V133.1H297V134.0H300V134.8H303V135.6H306V136.4H309V137.1H312V137.7H315V138.3H318V138.9H321V139.5H324V140.1H327V140.7H330V141.2H333V141.7H336V142.3H339V142.8H342V143.3H345V143.7H348V144.2H351V144.7H354V145.1H357V145.5H360V145.9H363V146.3H366V146.7H369V147.1H372V147.4H375V147.8H378V148.1H381V148.4H384V148.7H387V149.0H390V149.1H393V149.1H396V149.1H399V149.1H402V149.1H405V149.1H408V149.1H411V149.1H414V149.1H417V149.1Z" fill="#000000"/></g><g clip-path="url(#cp2)"><rect x="442" y="13.8" width="1" height="135.3" fill="#000"/><rect x="443" y="13.8" width="1" height="135.3" fill="#000"/><rect x="444" y="13.8" width="1" height="135.3" fill="#000"/><rect x="445" y="13.8" width="1" height="135.3" fill="#000"/><rect x="446" y="13.8" width="1" height="135.3" fill="#000"/><rect x="447" y="13.8" width="1" height="135.3" fill="#000"/><rect x="448" y="13.8" width="1" height="135.3" fill="#000"/><rect x="449" y="13.8" width="1" height="135.3" fill="#000"/><rect x="450" y="13.8" width="1" height="135.3" fill="url(#g20)"/><rect x="451" y="13.8" width="1" height="135.3" fill="url(#g21)"/><rect x="452" y="13.8" width="1" height="135.3" fill="url(#g22)"/><rect x="453" y="13.8" width="1" height="135.3" fill="url(#g23)"/><rect x="454" y="13.8" width="1" height="135.3" fill="url(#g24)"/><rect x="455" y="13.8" width="1" height="135.3" fill="url(#g25)"/><rect x="456" y="13.8" width="1" height="135.3" fill="url(#g26)"/><rect x="457" y="13.8" width="1" height="135.3" fill="url(#g27)"/><rect x="458" y="13.8" width="1" height="135.3" fill="url(#g28)"/><rect x="459" y="13.8" width="1" height="135.3" fill="url(#g29)"/><rect x="460" y="13.8" width="1" height="135.3" fill="url(#g2a)"/><rect x="461" y="13.8" width="1" height="135.3" fill="url(#g2b)"/><rect x="462" y="13.8" width="1" height="135.3" fill="url(#g2c)"/><rect x="463" y="13.8" width="1" height="135.3" fill="url(#g2d)"/><rect x="464" y="13.8" width="1" height="135.3" fill="url(#g2e)"/><rect x="465" y="13.8" width="1" height="135.3" fill="url(#g2f)"/><rect x="466" y="13.8" width="1" height="135.3" fill="url(#g2g)"/><rect x="467" y="13.8" width="1" height="135.3" fill="url(#g2h)"/><rect x="468" y="13.8" width="1" height="135.3" fill="url(#g2i)"/><rect x="469" y="13.8" width="1" height="135.3" fill="url(#g2j)"/><rect x="470" y="13.8" width="1" height="135.3" fill="url(#g2k)"/><rect x="471" y="13.8" width="1" height="135.3" fill="url(#g2l)"/><rect x="472" y="13.8" width="1" height="135.3" fill="url(#g2m)"/><rect x="473" y="13.8" width="1" height="135.3" fill="url(#g2n)"/><rect x="474" y="13.8" width="2" height="135.3" fill="url(#g2o)"/><rect x="476" y="13.8" width="2" height="135.3" fill="url(#g2p)"/><rect x="478" y="13.8" width="2" height="135.3" fill="url(#g2q)"/><rect x="480" y="13.8" width="2" height="135.3" fill="url(#g2r)"/><rect x="482" y="13.8" width="2" height="135.3" fill="url(#g2s)"/><rect x="484" y="13.8" width="2" height="135.3" fill="url(#g2t)"/><rect x="486" y="13.8" width="2" height="135.3" fill="url(#g2u)"/><rect x="488" y="13.8" width="2" height="135.3" fill="url(#g2v)"/><rect x="490" y="13.8" width="2" height="135.3" fill="url(#g2w)"/><rect x="492" y="13.8" width="2" height="135.3" fill="url(#g2x)"/><rect x="494" y="13.8" width="2" height="135.3" fill="url(#g2y)"/><rect x="496" y="13.8" width="2" height="135.3" fill="url(#g2z)"/><rect x="498" y="13.8" width="2" height="135.3" fill="url(#g210)"/><rect x="500" y="13.8" width="2" height="135.3" fill="url(#g211)"/><rect x="502" y="13.8" width="2" height="135.3" fill="url(#g212)"/><rect x="504" y="13.8" width="2" height="135.3" fill="url(#g213)"/><rect x="506" y="13.8" width="2" height="135.3" fill="url(#g214)"/><rect x="508" y="13.8" width="2" height="135.3" fill="url(#g215)"/><rect x="510" y="13.8" width="2" height="135.3" fill="url(#g216)"/><rect x="512" y="13.8" width="2" height="135.3" fill="url(#g217)"/><rect x="514" y="13.8" width="2" height="135.3" fill="url(#g218)"/><rect x="516" y="13.8" width="2" height="135.3" fill="url(#g219)"/><rect x="518" y="13.8" width="2" height="135.3" fill="url(#g21a)"/><rect x="520" y="13.8" width="2" height="135.3" fill="url(#g21b)"/><rect x="522" y="13.8" width="2" height="135.3" fill="url(#g21c)"/><rect x="524" y="13.8" width="2" height="135.3" fill="url(#g21d)"/><rect x="526" y="13.8" width="2" height="135.3" fill="url(#g21e)"/><rect x="528" y="13.8" width="2" height="135.3" fill="url(#g21f)"/><rect x="530" y="13.8" width="2" height="135.3" fill="url(#g21g)"/><rect x="532" y="13.8" width="2" height="135.3" fill="url(#g21h)"/><rect x="534" y="13.8" width="2" height="135.3" fill="url(#g21i)"/><rect x="536" y="13.8" width="2" height="135.3" fill="url(#g21j)"/><rect x="538" y="13.8" width="2" height="135.3" fill="url(#g21k)"/><rect x="540" y="13.8" width="2" height="135.3" fill="url(#g21l)"/><rect x="542" y="13.8" width="2" height="135.3" fill="url(#g21m)"/><rect x="544" y="13.8" width="2" height="135.3" fill="url(#g21n)"/><rect x="546" y="13.8" width="2" height="135.3" fill="url(#g21o)"/><rect x="548" y="13.8" width="2" height="135.3" fill="url(#g21p)"/><rect x="550" y="13.8" width="2" height="135.3" fill="url(#g21q)"/><rect x="552" y="13.8" width="2" height="135.3" fill="url(#g21r)"/><rect x="554" y="13.8" width="2" height="135.3" fill="url(#g21s)"/><rect x="556" y="13.8" width="2" height="135.3" fill="url(#g21t)"/><rect x="558" y="13.8" width="2" height="135.3" fill="url(#g21u)"/><rect x="560" y="13.8" width="2" height="135.3" fill="url(#g21v)"/><rect x="562" y="13.8" width="2" height="135.3" fill="url(#g21w)"/><rect x="564" y="13.8" width="2" height="135.3" fill="url(#g21x)"/><rect x="566" y="13.8" width="2" height="135.3" fill="url(#g21y)"/><rect x="568" y="13.8" width="2" height="135.3" fill="url(#g21z)"/><rect x="570" y="13.8" width="2" height="135.3" fill="url(#g220)"/><rect x="572" y="13.8" width="2" height="135.3" fill="url(#g221)"/><rect x="574" y="13.8" width="2" height="135.3" fill="url(#g222)"/><rect x="576" y="13.8" width="2" height="135.3" fill="url(#g223)"/><rect x="578" y="13.8" width="2" height="135.3" fill="url(#g224)"/><rect x="580" y="13.8" width="2" height="135.3" fill="url(#g225)"/><rect x="582" y="13.8" width="2" height="135.3" fill="url(#g226)"/><rect x="584" y="13.8" width="2" height="135.3" fill="url(#g227)"/><rect x="586" y="13.8" width="2" height="135.3" fill="url(#g228)"/><rect x="588" y="13.8" width="2" height="135.3" fill="url(#g229)"/><rect x="590" y="13.8" width="2" height="135.3" fill="url(#g22a)"/><rect x="592" y="13.8" width="2" height="135.3" fill="url(#g22b)"/><rect x="594" y="13.8" width="2" height="135.3" fill="url(#g22c)"/><rect x="596" y="13.8" width="2" height="135.3" fill="url(#g22d)"/><rect x="598" y="13.8" width="2" height="135.3" fill="url(#g22e)"/><rect x="600" y="13.8" width="2" height="135.3" fill="url(#g22f)"/><rect x="602" y="13.8" width="2" height="135.3" fill="url(#g22g)"/><rect x="604" y="13.8" width="2" height="135.3" fill="url(#g22h)"/><rect x="606" y="13.8" width="2" height="135.3" fill="url(#g22i)"/><rect x="608" y="13.8" width="2" height="135.3" fill="url(#g22j)"/><rect x="610" y="13.8" width="2" height="135.3" fill="url(#g22k)"/><rect x="612" y="13.8" width="2" height="135.3" fill="url(#g22l)"/><rect x="614" y="13.8" width="2" height="135.3" fill="url(#g22m)"/><rect x="616" y="13.8" width="2" height="135.3" fill="url(#g22n)"/></g><g clip-path="url(#cp3)"><rect x="37" y="181.2" width="1" height="135.3" fill="#000"/><rect x="38" y="181.2" width="1" height="135.3" fill="#000"/><rect x="39" y="181.2" width="1" height="135.3" fill="#000"/><rect x="40" y="181.2" width="1" height="135.3" fill="#000"/><rect x="41" y="181.2" width="1" height="135.3" fill="#000"/><rect x="42" y="181.2" width="1" height="135.3" fill="url(#g30)"/><rect x="43" y="181.2" width="1" height="135.3" fill="url(#g31)"/><rect x="44" y="181.2" width="1" height="135.3" fill="url(#g32)"/><rect x="45" y="181.2" width="1" height="135.3" fill="url(#g33)"/><rect x="46" y="181.2" width="1" height="135.3" fill="url(#g34)"/><rect x="47" y="181.2" width="1" height="135.3" fill="url(#g35)"/><rect x="48" y="181.2" width="1" height="135.3" fill="url(#g36)"/><rect x="49" y="181.2" width="1" height="135.3" fill="url(#g37)"/><rect x="50" y="181.2" width="1" height="135.3" fill="url(#g38)"/><rect x="51" y="181.2" width="1" height="135.3" fill="url(#g39)"/><rect x="52" y="181.2" width="1" height="135.3" fill="url(#g3a)"/><rect x="53" y="181.2" width="1" height="135.3" fill="url(#g3b)"/><rect x="54" y="181.2" width="1" height="135.3" fill="url(#g3b)"/><rect x="55" y="181.2" width="1" height="135.3" fill="url(#g3c)"/><rect x="56" y="181.2" width="1" height="135.3" fill="url(#g3d)"/><rect x="57" y="181.2" width="1" height="135.3" fill="url(#g3e)"/><rect x="58" y="181.2" width="1" height="135.3" fill="url(#g3f)"/><rect x="59" y="181.2" width="1" height="135.3" fill="url(#g3g)"/><rect x="60" y="181.2" width="1" height="135.3" fill="url(#g3h)"/><rect x="61" y="181.2" width="1" height="135.3" fill="url(#g3i)"/><rect x="62" y="181.2" width="2" height="135.3" fill="url(#g3j)"/><rect x="64" y="181.2" width="2" height="135.3" fill="url(#g3k)"/><rect x="66" y="181.2" width="2" height="135.3" fill="url(#g3l)"/><rect x="68" y="181.2" width="2" height="135.3" fill="url(#g3m)"/><rect x="70" y="181.2" width="2" height="135.3" fill="url(#g3n)"/><rect x="72" y="181.2" width="2" height="135.3" fill="url(#g3o)"/><rect x="74" y="181.2" width="2" height="135.3" fill="url(#g3p)"/><rect x="76" y="181.2" width="2" height="135.3" fill="url(#g3q)"/><rect x="78" y="181.2" width="2" height="135.3" fill="url(#g3r)"/><rect x="80" y="181.2" width="2" height="135.3" fill="url(#g3s)"/><rect x="82" y="181.2" width="2" height="135.3" fill="url(#g3t)"/><rect x="84" y="181.2" width="2" height="135.3" fill="url(#g3u)"/><rect x="86" y="181.2" width="2" height="135.3" fill="url(#g3v)"/><rect x="88" y="181.2" width="2" height="135.3" fill="url(#g3w)"/><rect x="90" y="181.2" width="2" height="135.3" fill="url(#g3x)"/><rect x="92" y="181.2" width="2" height="135.3" fill="url(#g3y)"/><rect x="94" y="181.2" width="2" height="135.3" fill="url(#g3z)"/><rect x="96" y="181.2" width="2" height="135.3" fill="url(#g310)"/><rect x="98" y="181.2" width="2" height="135.3" fill="url(#g311)"/><rect x="100" y="181.2" width="2" height="135.3" fill="url(#g312)"/><rect x="102" y="181.2" width="2" height="135.3" fill="url(#g313)"/><rect x="104" y="181.2" width="2" height="135.3" fill="url(#g314)"/><rect x="106" y="181.2" width="2" height="135.3" fill="url(#g315)"/><rect x="108" y="181.2" width="2" height="135.3" fill="url(#g316)"/><rect x="110" y="181.2" width="2" height="135.3" fill="url(#g317)"/><rect x="112" y="181.2" width="2" height="135.3" fill="url(#g318)"/><rect x="114" y="181.2" width="2" height="135.3" fill="url(#g319)"/><rect x="116" y="181.2" width="2" height="135.3" fill="url(#g31a)"/><rect x="118" y="181.2" width="2" height="135.3" fill="url(#g31b)"/><rect x="120" y="181.2" width="2" height="135.3" fill="url(#g31c)"/><rect x="122" y="181.2" width="2" height="135.3" fill="url(#g31d)"/><rect x="124" y="181.2" width="2" height="135.3" fill="url(#g31e)"/><rect x="126" y="181.2" width="2" height="135.3" fill="url(#g31f)"/><rect x="128" y="181.2" width="2" height="135.3" fill="url(#g31g)"/><rect x="130" y="181.2" width="2" height="135.3" fill="url(#g31h)"/><rect x="132" y="181.2" width="2" height="135.3" fill="url(#g31i)"/><rect x="134" y="181.2" width="2" height="135.3" fill="url(#g31j)"/><rect x="136" y="181.2" width="2" height="135.3" fill="url(#g31k)"/><rect x="138" y="181.2" width="2" height="135.3" fill="url(#g31l)"/><rect x="140" y="181.2" width="2" height="135.3" fill="url(#g31m)"/><rect x="142" y="181.2" width="2" height="135.3" fill="url(#g31n)"/><rect x="144" y="181.2" width="2" height="135.3" fill="url(#g31o)"/><rect x="146" y="181.2" width="2" height="135.3" fill="url(#g31p)"/><rect x="148" y="181.2" width="2" height="135.3" fill="url(#g31q)"/><rect x="150" y="181.2" width="2" height="135.3" fill="url(#g31r)"/><rect x="152" y="181.2" width="2" height="135.3" fill="url(#g31s)"/><rect x="154" y="181.2" width="2" height="135.3" fill="url(#g31t)"/><rect x="156" y="181.2" width="2" height="135.3" fill="url(#g31u)"/><rect x="158" y="181.2" width="2" height="135.3" fill="url(#g31v)"/><rect x="160" y="181.2" width="2" height="135.3" fill="url(#g31w)"/><rect x="162" y="181.2" width="2" height="135.3" fill="url(#g31x)"/><rect x="164" y="181.2" width="2" height="135.3" fill="url(#g31y)"/><rect x="166" y="181.2" width="2" height="135.3" fill="url(#g31z)"/><rect x="168" y="181.2" width="2" height="135.3" fill="url(#g320)"/><rect x="170" y="181.2" width="2" height="135.3" fill="url(#g321)"/><rect x="172" y="181.2" width="2" height="135.3" fill="url(#g322)"/><rect x="174" y="181.2" width="2" height="135.3" fill="url(#g323)"/><rect x="176" y="181.2" width="2" height="135.3" fill="url(#g324)"/><rect x="178" y="181.2" width="2" height="135.3" fill="url(#g325)"/><rect x="180" y="181.2" width="2" height="135.3" fill="url(#g326)"/><rect x="182" y="181.2" width="2" height="135.3" fill="url(#g327)"/><rect x="184" y="181.2" width="2" height="135.3" fill="url(#g328)"/><rect x="186" y="181.2" width="2" height="135.3" fill="url(#g329)"/><rect x="188" y="181.2" width="2" height="135.3" fill="url(#g32a)"/><rect x="190" y="181.2" width="2" height="135.3" fill="url(#g32b)"/><rect x="192" y="181.2" width="2" height="135.3" fill="url(#g32c)"/><rect x="194" y="181.2" width="2" height="135.3" fill="url(#g32d)"/><rect x="196" y="181.2" width="2" height="135.3" fill="url(#g32e)"/><rect x="198" y="181.2" width="2" height="135.3" fill="url(#g32f)"/><rect x="200" y="181.2" width="2" height="135.3" fill="url(#g32g)"/><rect x="202" y="181.2" width="2" height="135.3" fill="url(#g32h)"/><rect x="204" y="181.2" width="2" height="135.3" fill="url(#g32i)"/><rect x="206" y="181.2" width="2" height="135.3" fill="url(#g32j)"/><rect x="208" y="181.2" width="2" height="135.3" fill="url(#g32k)"/><rect x="210" y="181.2" width="2" height="135.3" fill="url(#g32l)"/></g><g clip-path="url(#cp4)"><rect x="239.2" y="181.2" width="175.9" height="135.3" fill="#fff"/><path d="M240 316.5V181.2H241V181.2H242V181.2H243V181.2H244V181.2H245V181.2H246V181.2H247V185.4H248V195.7H249V205.7H250V211.9H251V218.2H252V224.4H253V230.7H254V236.9H255V243.2H256V250.4H257V254.8H258V255.2H261V255.7H264V256.2H267V256.7H270V257.2H273V257.6H276V258.1H279V258.5H282V258.9H285V259.3H288V259.7H291V260.1H294V260.4H297V260.8H300V261.1H303V261.4H306V261.7H309V261.9H312V262.2H315V262.5H318V262.7H321V263.0H324V263.2H327V263.5H330V263.7H333V263.9H336V264.1H339V264.3H342V264.5H345V264.6H348V264.8H351V265.0H354V265.1H357V265.3H360V265.4H363V265.5H366V265.6H369V265.7H372V265.8H375V265.9H378V266.0H381V266.1H384V266.1H387V266.2H390V266.2H393V266.3H396V266.3H399V266.3H402V266.3H405V266.3H408V266.3H411V266.3H414V266.3H417V316.5Z" fill="#f5f5cc"/><path d="M240 316.5V181.2H241V181.2H242V181.2H243V181.2H244V181.2H245V181.2H246V181.2H247V186.9H248V197.3H249V206.6H250V212.9H251V219.1H252V225.4H253V231.6H254V237.9H255V244.1H256V251.6H257V255.7H258V256.3H261V257.3H264V258.2H267V259.1H270V259.9H273V260.7H276V261.5H279V262.2H282V262.9H285V263.5H288V264.1H291V264.7H294V265.3H297V265.8H300V266.2H303V266.7H306V267.1H309V267.5H312V267.9H315V268.3H318V268.7H321V269.0H324V269.4H327V269.7H330V270.1H333V270.4H336V270.7H339V271.0H342V271.3H345V271.6H348V271.9H351V272.1H354V272.4H357V272.6H360V272.9H363V273.1H366V273.3H369V273.5H372V273.7H375V273.9H378V274.1H381V274.3H384V274.4H387V274.6H390V274.7H393V274.8H396V274.9H399V275.0H402V275.1H405V275.2H408V275.3H411V275.3H414V275.4H417V316.5Z" fill="#ebeb99"/><path d="M240 316.5V181.2H241V181.2H242V181.2H243V181.2H244V181.2H245V181.2H246V181.2H247V188.0H248V198.3H249V207.2H250V213.5H251V219.7H252V226.0H253V232.2H254V238.5H255V244.7H256V252.3H257V255.9H258V256.7H261V257.8H264V258.8H267V259.8H270V260.8H273V261.7H276V262.6H279V263.4H282V264.2H285V265.0H288V265.6H291V266.3H294V266.9H297V267.5H300V268.0H303V268.5H306V268.9H309V269.4H312V269.8H315V270.2H318V270.7H321V271.1H324V271.5H327V271.8H330V272.2H333V272.6H336V272.9H339V273.3H342V273.6H345V274.0H348V274.3H351V274.6H354V274.9H357V275.1H360V275.4H363V275.7H366V275.9H369V276.2H372V276.4H375V276.6H378V276.8H381V277.0H384V277.2H387V277.4H390V277.5H393V277.7H396V277.8H399V278.0H402V278.1H405V278.2H408V278.3H411V278.4H414V278.5H417V316.5Z" fill="#e6de6b"/><path d="M240 316.5V181.2H241V181.2H242V181.2H243V181.2H244V181.2H245V181.2H246V181.2H247V189.0H248V199.4H249V207.9H250V214.1H251V220.4H252V226.6H253V232.9H254V239.1H255V245.4H256V253.1H257V256.4H258V257.2H261V258.3H264V259.4H267V260.5H270V261.5H273V262.4H276V263.4H279V264.2H282V265.0H285V265.8H288V266.5H291V267.2H294V267.9H297V268.4H300V269.0H303V269.5H306V270.0H309V270.4H312V270.9H315V271.3H318V271.8H321V272.2H324V272.6H327V273.0H330V273.4H333V273.8H336V274.1H339V274.5H342V274.8H345V275.2H348V275.5H351V275.8H354V276.1H357V276.4H360V276.6H363V276.9H366V277.1H369V277.4H372V277.6H375V277.8H378V278.0H381V278.2H384V278.4H387V278.5H390V278.7H393V278.8H396V279.0H399V279.1H402V279.2H405V279.3H408V279.3H411V279.4H414V279.5H417V316.5Z" fill="#e6cf42"/><path d="M240 316.5V181.2H241V181.2H242V181.2H243V181.2H244V181.2H245V181.2H246V181.2H247V190.0H248V200.4H249V208.5H250V214.7H251V221.0H252V227.2H253V233.5H254V239.7H255V246.2H256V253.8H257V256.8H258V257.6H261V258.8H264V260.0H267V261.1H270V262.1H273V263.1H276V264.1H279V265.0H282V265.9H285V266.7H288V267.4H291V268.2H294V268.8H297V269.4H300V270.0H303V270.5H306V271.0H309V271.5H312V272.0H315V272.5H318V272.9H321V273.3H324V273.8H327V274.2H330V274.6H333V275.0H336V275.3H339V275.7H342V276.1H345V276.4H348V276.7H351V277.0H354V277.3H357V277.6H360V277.9H363V278.1H366V278.4H369V278.6H372V278.8H375V279.0H378V279.2H381V279.4H384V279.5H387V279.7H390V279.8H393V280.0H396V280.1H399V280.2H402V280.2H405V280.3H408V280.4H411V280.4H414V280.5H417V316.5Z" fill="#e6bf1a"/><path d="M240 316.5V181.2H241V181.2H242V181.2H243V181.2H244V181.2H245V181.2H246V181.2H247V191.1H248V201.4H249V209.1H250V215.4H251V221.6H252V227.9H253V234.1H254V240.4H255V247.0H256V254.6H257V257.3H258V258.1H261V259.4H264V260.6H267V261.8H270V262.9H273V263.9H276V264.9H279V265.8H282V266.7H285V267.6H288V268.3H291V269.1H294V269.8H297V270.4H300V271.0H303V271.5H306V272.0H309V272.5H312V273.0H315V273.4H318V273.9H321V274.3H324V274.8H327V275.2H330V275.6H333V276.0H336V276.3H339V276.7H342V277.1H345V277.4H348V277.7H351V278.0H354V278.3H357V278.6H360V278.9H363V279.2H366V279.4H369V279.7H372V279.9H375V280.1H378V280.3H381V280.5H384V280.7H387V280.8H390V281.0H393V281.1H396V281.2H399V281.3H402V281.4H405V281.5H408V281.6H411V281.7H414V281.7H417V316.5Z" fill="#e6a60f"/><path d="M240 316.5V181.2H241V181.2H242V181.2H243V181.2H244V181.2H245V181.2H246V181.2H247V192.1H248V202.5H249V209.7H250V216.0H251V222.2H252V228.5H253V234.7H254V241.0H255V247.7H256V255.4H257V257.8H258V258.7H261V260.0H264V261.3H267V262.5H270V263.6H273V264.7H276V265.7H279V266.7H282V267.6H285V268.5H288V269.3H291V270.0H294V270.7H297V271.3H300V271.9H303V272.4H306V272.8H309V273.3H312V273.8H315V274.2H318V274.7H321V275.1H324V275.5H327V276.0H330V276.4H333V276.8H336V277.1H339V277.5H342V277.9H345V278.2H348V278.5H351V278.9H354V279.2H357V279.5H360V279.8H363V280.1H366V280.3H369V280.6H372V280.9H375V281.1H378V281.3H381V281.5H384V281.7H387V281.9H390V282.1H393V282.3H396V282.5H399V282.6H402V282.8H405V282.9H408V283.0H411V283.1H414V283.2H417V316.5Z" fill="#e68c05"/><path d="M240 316.5V181.2H241V181.2H242V181.2H243V181.2H244V181.2H245V181.2H246V182.8H247V193.1H248V203.5H249V210.4H250V216.6H251V222.9H252V229.1H253V235.4H254V241.6H255V248.5H256V256.1H257V258.3H258V259.2H261V260.6H264V262.0H267V263.2H270V264.4H273V265.5H276V266.6H279V267.6H282V268.5H285V269.4H288V270.2H291V270.9H294V271.6H297V272.2H300V272.8H303V273.2H306V273.7H309V274.2H312V274.6H315V275.1H318V275.5H321V275.9H324V276.3H327V276.8H330V277.2H333V277.5H336V277.9H339V278.3H342V278.7H345V279.0H348V279.4H351V279.7H354V280.0H357V280.3H360V280.7H363V281.0H366V281.3H369V281.5H372V281.8H375V282.1H378V282.3H381V282.6H384V282.8H387V283.1H390V283.3H393V283.5H396V283.7H399V283.9H402V284.1H405V284.3H408V284.4H411V284.6H414V284.7H417V316.5Z" fill="#eb7308"/><path d="M240 316.5V181.2H241V181.2H242V181.2H243V181.2H244V181.2H245V181.2H246V183.8H247V194.2H248V204.5H249V211.0H250V217.2H251V223.5H252V229.7H253V236.0H254V242.2H255V249.3H256V256.9H257V258.9H258V259.9H261V261.3H264V262.7H267V264.0H270V265.2H273V266.4H276V267.5H279V268.5H282V269.5H285V270.4H288V271.2H291V272.0H294V272.7H297V273.4H300V273.9H303V274.5H306V275.0H309V275.5H312V276.0H315V276.4H318V276.9H321V277.4H324V277.8H327V278.3H330V278.7H333V279.2H336V279.6H339V280.0H342V280.4H345V280.8H348V281.2H351V281.6H354V281.9H357V282.3H360V282.7H363V283.0H366V283.3H369V283.7H372V284.0H375V284.3H378V284.6H381V284.9H384V285.2H387V285.5H390V285.7H393V286.0H396V286.2H399V286.5H402V286.7H405V286.9H408V287.2H411V287.4H414V287.5H417V316.5Z" fill="#f55917"/><path d="M240 316.5V181.2H241V181.2H242V181.2H243V181.2H244V181.2H245V181.2H246V184.8H247V195.2H248V205.4H249V211.6H250V217.9H251V224.1H252V230.4H253V236.6H254V242.9H255V250.0H256V257.7H257V259.5H258V260.5H261V262.0H264V263.4H267V264.7H270V266.0H273V267.2H276V268.4H279V269.4H282V270.4H285V271.4H288V272.3H291V273.1H294V273.8H297V274.5H300V275.1H303V275.7H306V276.2H309V276.8H312V277.3H315V277.8H318V278.3H321V278.8H324V279.3H327V279.8H330V280.3H333V280.8H336V281.2H339V281.7H342V282.1H345V282.6H348V283.0H351V283.4H354V283.8H357V284.2H360V284.6H363V285.0H366V285.4H369V285.8H372V286.1H375V286.5H378V286.9H381V287.2H384V287.5H387V287.8H390V288.2H393V288.5H396V288.8H399V289.1H402V289.3H405V289.6H408V289.9H411V290.1H414V290.3H417V316.5Z" fill="#ff4026"/><path d="M240 316.5V181.2H241V181.2H242V181.2H243V181.2H244V181.2H245V181.2H246V185.9H247V196.2H248V206.0H249V212.2H250V218.5H251V224.7H252V231.0H253V237.2H254V243.5H255V250.8H256V258.9H257V260.1H258V261.1H261V262.6H264V264.1H267V265.4H270V266.8H273V268.0H276V269.2H279V270.3H282V271.4H285V272.3H288V273.3H291V274.1H294V274.9H297V275.7H300V276.4H303V277.0H306V277.6H309V278.2H312V278.7H315V279.3H318V279.9H321V280.4H324V281.0H327V281.5H330V282.0H333V282.6H336V283.1H339V283.6H342V284.1H345V284.5H348V285.0H351V285.5H354V285.9H357V286.4H360V286.8H363V287.2H366V287.6H369V288.0H372V288.4H375V288.8H378V289.2H381V289.6H384V289.9H387V290.3H390V290.6H393V290.9H396V291.3H399V291.6H402V291.9H405V292.2H408V292.4H411V292.7H414V292.9H417V316.5Z" fill="#d63b4a"/><path d="M240 316.5V181.2H241V181.2H242V181.2H243V181.2H244V181.2H245V181.2H246V186.9H247V197.3H248V206.6H249V212.9H250V219.1H251V225.4H252V231.6H253V237.9H254V244.1H255V251.6H256V260.1H257V260.6H258V261.7H261V263.2H264V264.7H267V266.1H270V267.4H273V268.7H276V269.9H279V271.1H282V272.2H285V273.3H288V274.3H291V275.2H294V276.1H297V276.9H300V277.6H303V278.3H306V279.0H309V279.6H312V280.3H315V280.9H318V281.6H321V282.2H324V282.8H327V283.4H330V284.0H333V284.5H336V285.1H339V285.6H342V286.2H345V286.7H348V287.2H351V287.7H354V288.2H357V288.6H360V289.1H363V289.5H366V290.0H369V290.4H372V290.8H375V291.2H378V291.6H381V292.0H384V292.4H387V292.7H390V293.1H393V293.4H396V293.7H399V294.0H402V294.3H405V294.6H408V294.9H411V295.1H414V295.3H417V316.5Z" fill="#ad366e"/><path d="M240 316.5V181.2H241V181.2H242V181.2H243V181.2H244V181.2H245V181.2H246V188.0H247V198.3H248V207.2H249V213.5H250V219.7H251V226.0H252V232.2H253V238.5H254V244.7H255V252.3H256V260.6H257V261.1H258V262.2H261V263.8H264V265.3H267V266.7H270V268.1H273V269.4H276V270.7H279V271.9H282V273.1H285V274.2H288V275.2H291V276.2H294V277.2H297V278.0H300V278.9H303V279.6H306V280.4H309V281.1H312V281.8H315V282.5H318V283.2H321V283.9H324V284.6H327V285.2H330V285.9H333V286.5H336V287.1H339V287.7H342V288.3H345V288.8H348V289.4H351V289.9H354V290.4H357V290.9H360V291.4H363V291.9H366V292.3H369V292.8H372V293.2H375V293.6H378V294.0H381V294.4H384V294.8H387V295.2H390V295.5H393V295.8H396V296.1H399V296.4H402V296.7H405V297.0H408V297.3H411V297.5H414V297.7H417V316.5Z" fill="#8a308c"/><path d="M240 316.5V181.2H241V181.2H242V181.2H243V181.2H244V181.2H245V181.2H246V189.0H247V199.4H248V207.9H249V214.1H250V220.4H251V226.6H252V232.9H253V239.1H254V245.4H255V253.1H256V261.0H257V261.6H258V262.7H261V264.3H264V265.9H267V267.4H270V268.8H273V270.1H276V271.4H279V272.7H282V274.0H285V275.2H288V276.3H291V277.4H294V278.3H297V279.2H300V280.1H303V280.8H306V281.5H309V282.2H312V283.0H315V283.6H318V284.3H321V285.0H324V285.7H327V286.3H330V286.9H333V287.6H336V288.2H339V288.8H342V289.4H345V289.9H348V290.5H351V291.1H354V291.6H357V292.1H360V292.7H363V293.2H366V293.7H369V294.1H372V294.6H375V295.1H378V295.5H381V296.0H384V296.4H387V296.8H390V297.2H393V297.6H396V298.0H399V298.4H402V298.7H405V299.1H408V299.4H411V299.7H414V300.0H417V316.5Z" fill="#6b2ba6"/><path d="M240 316.5V181.2H241V181.2H242V181.2H243V181.2H244V181.2H245V181.2H246V190.0H247V200.4H248V208.5H249V214.7H250V221.0H251V227.2H252V233.5H253V239.7H254V246.2H255V253.8H256V261.4H257V262.0H258V263.2H261V264.9H264V266.5H267V268.0H270V269.4H273V270.8H276V272.2H279V273.5H282V274.9H285V276.2H288V277.4H291V278.5H294V279.5H297V280.5H300V281.3H303V282.0H306V282.7H309V283.4H312V284.1H315V284.7H318V285.4H321V286.1H324V286.7H327V287.4H330V288.0H333V288.6H336V289.3H339V289.9H342V290.5H345V291.1H348V291.6H351V292.2H354V292.8H357V293.3H360V293.9H363V294.4H366V295.0H369V295.5H372V296.0H375V296.5H378V297.0H381V297.5H384V298.0H387V298.5H390V298.9H393V299.4H396V299.8H399V300.3H402V300.7H405V301.1H408V301.6H411V302.0H414V302.3H417V316.5Z" fill="#4c26bf"/><path d="M240 316.5V181.2H241V181.2H242V181.2H243V181.2H244V181.2H245V181.2H246V191.1H247V201.4H248V209.1H249V215.4H250V221.6H251V227.9H252V234.1H253V240.4H254V247.0H255V254.6H256V261.9H257V262.6H258V263.8H261V265.5H264V267.1H267V268.6H270V270.0H273V271.4H276V272.8H279V274.2H282V275.6H285V277.0H288V278.3H291V279.4H294V280.5H297V281.4H300V282.3H303V283.0H306V283.7H309V284.4H312V285.1H315V285.8H318V286.5H321V287.1H324V287.8H327V288.5H330V289.1H333V289.8H336V290.4H339V291.1H342V291.7H345V292.3H348V292.9H351V293.6H354V294.2H357V294.8H360V295.3H363V295.9H366V296.5H369V297.1H372V297.6H375V298.2H378V298.7H381V299.3H384V299.8H387V300.4H390V300.9H393V301.4H396V301.9H399V302.4H402V302.9H405V303.4H408V303.9H411V304.4H414V304.8H417V316.5Z" fill="#3d26a6"/><path d="M240 316.5V181.2H241V181.2H242V181.2H243V181.2H244V181.2H245V181.2H246V192.1H247V202.5H248V209.7H249V216.0H250V222.2H251V228.5H252V234.7H253V241.0H254V247.7H255V255.4H256V262.5H257V263.2H258V264.4H261V266.1H264V267.7H267V269.2H270V270.6H273V272.0H276V273.4H279V274.8H282V276.2H285V277.6H288V278.9H291V280.1H294V281.2H297V282.2H300V283.0H303V283.8H306V284.6H309V285.3H312V286.0H315V286.8H318V287.5H321V288.2H324V288.9H327V289.6H330V290.3H333V291.0H336V291.7H339V292.4H342V293.1H345V293.7H348V294.4H351V295.0H354V295.7H357V296.3H360V297.0H363V297.6H366V298.2H369V298.9H372V299.5H375V300.1H378V300.7H381V301.3H384V301.9H387V302.5H390V303.1H393V303.6H396V304.2H399V304.8H402V305.3H405V305.9H408V306.4H411V307.0H414V307.4H417V316.5Z" fill="#2e268c"/><path d="M240 316.5V181.2H241V181.2H242V181.2H243V181.2H244V181.2H245V182.8H246V193.1H247V203.5H248V210.4H249V216.6H250V222.9H251V229.1H252V235.4H253V241.6H254V248.5H255V256.1H256V263.1H257V263.8H258V265.0H261V266.7H264V268.4H267V269.9H270V271.2H273V272.6H276V273.9H279V275.4H282V276.8H285V278.3H288V279.6H291V280.8H294V281.9H297V282.9H300V283.8H303V284.6H306V285.4H309V286.2H312V287.0H315V287.7H318V288.5H321V289.2H324V290.0H327V290.7H330V291.5H333V292.2H336V293.0H339V293.7H342V294.4H345V295.1H348V295.8H351V296.5H354V297.2H357V297.9H360V298.6H363V299.3H366V300.0H369V300.7H372V301.3H375V302.0H378V302.7H381V303.3H384V304.0H387V304.6H390V305.2H393V305.9H396V306.5H399V307.1H402V307.7H405V308.3H408V309.0H411V309.6H414V310.1H417V316.5Z" fill="#1f1f66"/><path d="M240 316.5V181.2H241V181.2H242V181.2H243V181.2H244V181.2H245V183.8H246V194.2H247V204.5H248V211.0H249V217.2H250V223.5H251V229.7H252V236.0H253V242.2H254V249.3H255V256.9H256V263.7H257V264.4H258V265.5H261V267.2H264V268.8H267V270.3H270V271.7H273V273.0H276V274.4H279V275.8H282V277.2H285V278.6H288V279.9H291V281.1H294V282.3H297V283.3H300V284.2H303V285.1H306V285.9H309V286.7H312V287.6H315V288.4H318V289.2H321V290.0H324V290.8H327V291.6H330V292.4H333V293.1H336V293.9H339V294.7H342V295.4H345V296.2H348V297.0H351V297.7H354V298.4H357V299.2H360V299.9H363V300.6H366V301.4H369V302.1H372V302.8H375V303.5H378V304.2H381V304.9H384V305.5H387V306.2H390V306.9H393V307.6H396V308.2H399V308.9H402V309.5H405V310.2H408V310.8H411V311.4H414V311.9H417V316.5Z" fill="#0f0f33"/><path d="M240 316.5V181.2H241V181.2H242V181.2H243V181.2H244V181.2H245V184.8H246V195.2H247V205.4H248V211.6H249V217.9H250V224.1H251V230.4H252V236.6H253V242.9H254V250.0H255V257.7H256V264.3H257V264.9H258V266.1H261V267.7H264V269.2H267V270.7H270V272.1H273V273.5H276V274.9H279V276.3H282V277.6H285V279.0H288V280.3H291V281.5H294V282.6H297V283.7H300V284.6H303V285.5H306V286.4H309V287.3H312V288.1H315V289.0H318V289.9H321V290.7H324V291.6H327V292.4H330V293.2H333V294.1H336V294.9H339V295.7H342V296.5H345V297.3H348V298.1H351V298.9H354V299.7H357V300.4H360V301.2H363V302.0H366V302.7H369V303.5H372V304.2H375V305.0H378V305.7H381V306.4H384V307.1H387V307.8H390V308.5H393V309.2H396V309.9H399V310.6H402V311.3H405V312.0H408V312.6H411V313.3H414V313.8H417V316.5Z" fill="#000000"/></g><g clip-path="url(#cp5)"><rect x="442" y="181.2" width="1" height="135.3" fill="#000"/><rect x="443" y="181.2" width="1" height="135.3" fill="#000"/><rect x="444" y="181.2" width="1" height="135.3" fill="#000"/><rect x="445" y="181.2" width="1" height="135.3" fill="#000"/><rect x="446" y="181.2" width="1" height="135.3" fill="#000"/><rect x="447" y="181.2" width="1" height="135.3" fill="#000"/><rect x="448" y="181.2" width="1" height="135.3" fill="#000"/><rect x="449" y="181.2" width="1" height="135.3" fill="#000"/><rect x="450" y="181.2" width="1" height="135.3" fill="#000"/><rect x="451" y="181.2" width="1" height="135.3" fill="#000"/><rect x="452" y="181.2" width="1" height="135.3" fill="#000"/><rect x="453" y="181.2" width="1" height="135.3" fill="url(#g50)"/><rect x="454" y="181.2" width="1" height="135.3" fill="url(#g51)"/><rect x="455" y="181.2" width="1" height="135.3" fill="url(#g52)"/><rect x="456" y="181.2" width="1" height="135.3" fill="url(#g53)"/><rect x="457" y="181.2" width="1" height="135.3" fill="url(#g54)"/><rect x="458" y="181.2" width="1" height="135.3" fill="url(#g55)"/><rect x="459" y="181.2" width="1" height="135.3" fill="url(#g56)"/><rect x="460" y="181.2" width="1" height="135.3" fill="url(#g57)"/><rect x="461" y="181.2" width="1" height="135.3" fill="url(#g58)"/><rect x="462" y="181.2" width="1" height="135.3" fill="url(#g59)"/><rect x="463" y="181.2" width="1" height="135.3" fill="url(#g5a)"/><rect x="464" y="181.2" width="1" height="135.3" fill="url(#g5b)"/><rect x="465" y="181.2" width="1" height="135.3" fill="url(#g5c)"/><rect x="466" y="181.2" width="1" height="135.3" fill="url(#g5d)"/><rect x="467" y="181.2" width="1" height="135.3" fill="url(#g5e)"/><rect x="468" y="181.2" width="1" height="135.3" fill="url(#g5f)"/><rect x="469" y="181.2" width="1" height="135.3" fill="url(#g5g)"/><rect x="470" y="181.2" width="1" height="135.3" fill="url(#g5h)"/><rect x="471" y="181.2" width="1" height="135.3" fill="url(#g5i)"/><rect x="472" y="181.2" width="1" height="135.3" fill="url(#g5j)"/><rect x="473" y="181.2" width="1" height="135.3" fill="url(#g5k)"/><rect x="474" y="181.2" width="2" height="135.3" fill="url(#g5l)"/><rect x="476" y="181.2" width="2" height="135.3" fill="url(#g5m)"/><rect x="478" y="181.2" width="2" height="135.3" fill="url(#g5n)"/><rect x="480" y="181.2" width="2" height="135.3" fill="url(#g5o)"/><rect x="482" y="181.2" width="2" height="135.3" fill="url(#g5p)"/><rect x="484" y="181.2" width="2" height="135.3" fill="url(#g5q)"/><rect x="486" y="181.2" width="2" height="135.3" fill="url(#g5r)"/><rect x="488" y="181.2" width="2" height="135.3" fill="url(#g5s)"/><rect x="490" y="181.2" width="2" height="135.3" fill="url(#g5t)"/><rect x="492" y="181.2" width="2" height="135.3" fill="url(#g5u)"/><rect x="494" y="181.2" width="2" height="135.3" fill="url(#g5v)"/><rect x="496" y="181.2" width="2" height="135.3" fill="url(#g5w)"/><rect x="498" y="181.2" width="2" height="135.3" fill="url(#g5x)"/><rect x="500" y="181.2" width="2" height="135.3" fill="url(#g5y)"/><rect x="502" y="181.2" width="2" height="135.3" fill="url(#g5z)"/><rect x="504" y="181.2" width="2" height="135.3" fill="url(#g510)"/><rect x="506" y="181.2" width="2" height="135.3" fill="url(#g511)"/><rect x="508" y="181.2" width="2" height="135.3" fill="url(#g512)"/><rect x="510" y="181.2" width="2" height="135.3" fill="url(#g513)"/><rect x="512" y="181.2" width="2" height="135.3" fill="url(#g514)"/><rect x="514" y="181.2" width="2" height="135.3" fill="url(#g515)"/><rect x="516" y="181.2" width="2" height="135.3" fill="url(#g516)"/><rect x="518" y="181.2" width="2" height="135.3" fill="url(#g517)"/><rect x="520" y="181.2" width="2" height="135.3" fill="url(#g518)"/><rect x="522" y="181.2" width="2" height="135.3" fill="url(#g519)"/><rect x="524" y="181.2" width="2" height="135.3" fill="url(#g51a)"/><rect x="526" y="181.2" width="2" height="135.3" fill="url(#g51b)"/><rect x="528" y="181.2" width="2" height="135.3" fill="url(#g51c)"/><rect x="530" y="181.2" width="2" height="135.3" fill="url(#g51d)"/><rect x="532" y="181.2" width="2" height="135.3" fill="url(#g51e)"/><rect x="534" y="181.2" width="2" height="135.3" fill="url(#g51f)"/><rect x="536" y="181.2" width="2" height="135.3" fill="url(#g51g)"/><rect x="538" y="181.2" width="2" height="135.3" fill="url(#g51h)"/><rect x="540" y="181.2" width="2" height="135.3" fill="url(#g51i)"/><rect x="542" y="181.2" width="2" height="135.3" fill="url(#g51j)"/><rect x="544" y="181.2" width="2" height="135.3" fill="url(#g51k)"/><rect x="546" y="181.2" width="2" height="135.3" fill="url(#g51l)"/><rect x="548" y="181.2" width="2" height="135.3" fill="url(#g51m)"/><rect x="550" y="181.2" width="2" height="135.3" fill="url(#g51n)"/><rect x="552" y="181.2" width="2" height="135.3" fill="url(#g51o)"/><rect x="554" y="181.2" width="2" height="135.3" fill="url(#g51p)"/><rect x="556" y="181.2" width="2" height="135.3" fill="url(#g51q)"/><rect x="558" y="181.2" width="2" height="135.3" fill="url(#g51r)"/><rect x="560" y="181.2" width="2" height="135.3" fill="url(#g51s)"/><rect x="562" y="181.2" width="2" height="135.3" fill="url(#g51t)"/><rect x="564" y="181.2" width="2" height="135.3" fill="url(#g51u)"/><rect x="566" y="181.2" width="2" height="135.3" fill="url(#g51v)"/><rect x="568" y="181.2" width="2" height="135.3" fill="url(#g51w)"/><rect x="570" y="181.2" width="2" height="135.3" fill="url(#g51x)"/><rect x="572" y="181.2" width="2" height="135.3" fill="url(#g51y)"/><rect x="574" y="181.2" width="2" height="135.3" fill="url(#g51z)"/><rect x="576" y="181.2" width="2" height="135.3" fill="url(#g520)"/><rect x="578" y="181.2" width="2" height="135.3" fill="url(#g521)"/><rect x="580" y="181.2" width="2" height="135.3" fill="url(#g522)"/><rect x="582" y="181.2" width="2" height="135.3" fill="url(#g523)"/><rect x="584" y="181.2" width="2" height="135.3" fill="url(#g524)"/><rect x="586" y="181.2" width="2" height="135.3" fill="url(#g525)"/><rect x="588" y="181.2" width="2" height="135.3" fill="url(#g526)"/><rect x="590" y="181.2" width="2" height="135.3" fill="url(#g527)"/><rect x="592" y="181.2" width="2" height="135.3" fill="url(#g528)"/><rect x="594" y="181.2" width="2" height="135.3" fill="url(#g529)"/><rect x="596" y="181.2" width="2" height="135.3" fill="url(#g52a)"/><rect x="598" y="181.2" width="2" height="135.3" fill="url(#g52b)"/><rect x="600" y="181.2" width="2" height="135.3" fill="url(#g52c)"/><rect x="602" y="181.2" width="2" height="135.3" fill="url(#g52d)"/><rect x="604" y="181.2" width="2" height="135.3" fill="url(#g52e)"/><rect x="606" y="181.2" width="2" height="135.3" fill="url(#g52f)"/><rect x="608" y="181.2" width="2" height="135.3" fill="url(#g52g)"/><rect x="610" y="181.2" width="2" height="135.3" fill="url(#g52h)"/><rect x="612" y="181.2" width="2" height="135.3" fill="url(#g52i)"/><rect x="614" y="181.2" width="2" height="135.3" fill="url(#g52j)"/><rect x="616" y="181.2" width="2" height="135.3" fill="url(#g52k)"/></g><path d="M111.90 148.10v-9.50M111.90 14.80v9.50M186.25 148.10v-9.50M186.25 14.80v9.50M37.55 49.79h9.50M211.50 49.79h-9.50M37.55 84.77h9.50M211.50 84.77h-9.50M37.55 119.76h9.50M211.50 119.76h-9.50" stroke="#8a8a8a" stroke-width="1" fill="none"/><path d="M52.42 148.10v-3.00M52.42 14.80v3.00M67.29 148.10v-3.00M67.29 14.80v3.00M82.16 148.10v-3.00M82.16 14.80v3.00M97.03 148.10v-3.00M97.03 14.80v3.00M126.77 148.10v-3.00M126.77 14.80v3.00M141.64 148.10v-3.00M141.64 14.80v3.00M156.51 148.10v-3.00M156.51 14.80v3.00M171.38 148.10v-3.00M171.38 14.80v3.00M201.12 148.10v-3.00M201.12 14.80v3.00M37.55 23.55h3.00M211.50 23.55h-3.00M37.55 32.29h3.00M211.50 32.29h-3.00M37.55 41.04h3.00M211.50 41.04h-3.00M37.55 58.53h3.00M211.50 58.53h-3.00M37.55 67.28h3.00M211.50 67.28h-3.00M37.55 76.03h3.00M211.50 76.03h-3.00M37.55 93.52h3.00M211.50 93.52h-3.00M37.55 102.27h3.00M211.50 102.27h-3.00M37.55 111.01h3.00M211.50 111.01h-3.00M37.55 128.51h3.00M211.50 128.51h-3.00M37.55 137.25h3.00M211.50 137.25h-3.00M37.55 146.00h3.00M211.50 146.00h-3.00" stroke="#8a8a8a" stroke-width="0.75" fill="none"/><rect x="37.55" y="14.80" width="173.95" height="133.30" fill="none" stroke="#8a8a8a" stroke-width="1"/><path d="M314.50 148.10v-9.50M314.50 14.80v9.50M388.85 148.10v-9.50M388.85 14.80v9.50M240.15 54.59h9.50M414.10 54.59h-9.50M240.15 94.38h9.50M414.10 94.38h-9.50M240.15 134.17h9.50M414.10 134.17h-9.50" stroke="#8a8a8a" stroke-width="1" fill="none"/><path d="M255.02 148.10v-3.00M255.02 14.80v3.00M269.89 148.10v-3.00M269.89 14.80v3.00M284.76 148.10v-3.00M284.76 14.80v3.00M299.63 148.10v-3.00M299.63 14.80v3.00M329.37 148.10v-3.00M329.37 14.80v3.00M344.24 148.10v-3.00M344.24 14.80v3.00M359.11 148.10v-3.00M359.11 14.80v3.00M373.98 148.10v-3.00M373.98 14.80v3.00M403.72 148.10v-3.00M403.72 14.80v3.00M240.15 24.75h3.00M414.10 24.75h-3.00M240.15 34.70h3.00M414.10 34.70h-3.00M240.15 44.64h3.00M414.10 44.64h-3.00M240.15 64.54h3.00M414.10 64.54h-3.00M240.15 74.49h3.00M414.10 74.49h-3.00M240.15 84.43h3.00M414.10 84.43h-3.00M240.15 104.33h3.00M414.10 104.33h-3.00M240.15 114.28h3.00M414.10 114.28h-3.00M240.15 124.23h3.00M414.10 124.23h-3.00M240.15 144.12h3.00M414.10 144.12h-3.00" stroke="#8a8a8a" stroke-width="0.75" fill="none"/><rect x="240.15" y="14.80" width="173.95" height="133.30" fill="none" stroke="#8a8a8a" stroke-width="1"/><path d="M517.30 148.10v-9.50M517.30 14.80v9.50M591.65 148.10v-9.50M591.65 14.80v9.50M442.95 51.57h9.50M616.90 51.57h-9.50M442.95 88.34h9.50M616.90 88.34h-9.50M442.95 125.12h9.50M616.90 125.12h-9.50" stroke="#8a8a8a" stroke-width="1" fill="none"/><path d="M457.82 148.10v-3.00M457.82 14.80v3.00M472.69 148.10v-3.00M472.69 14.80v3.00M487.56 148.10v-3.00M487.56 14.80v3.00M502.43 148.10v-3.00M502.43 14.80v3.00M532.17 148.10v-3.00M532.17 14.80v3.00M547.04 148.10v-3.00M547.04 14.80v3.00M561.91 148.10v-3.00M561.91 14.80v3.00M576.78 148.10v-3.00M576.78 14.80v3.00M606.52 148.10v-3.00M606.52 14.80v3.00M442.95 23.99h3.00M616.90 23.99h-3.00M442.95 33.19h3.00M616.90 33.19h-3.00M442.95 42.38h3.00M616.90 42.38h-3.00M442.95 60.77h3.00M616.90 60.77h-3.00M442.95 69.96h3.00M616.90 69.96h-3.00M442.95 79.15h3.00M616.90 79.15h-3.00M442.95 97.54h3.00M616.90 97.54h-3.00M442.95 106.73h3.00M616.90 106.73h-3.00M442.95 115.92h3.00M616.90 115.92h-3.00M442.95 134.31h3.00M616.90 134.31h-3.00M442.95 143.50h3.00M616.90 143.50h-3.00" stroke="#8a8a8a" stroke-width="0.75" fill="none"/><rect x="442.95" y="14.80" width="173.95" height="133.30" fill="none" stroke="#8a8a8a" stroke-width="1"/><path d="M111.90 315.50v-9.50M111.90 182.20v9.50M186.25 315.50v-9.50M186.25 182.20v9.50M37.55 211.82h9.50M211.50 211.82h-9.50M37.55 241.44h9.50M211.50 241.44h-9.50M37.55 271.07h9.50M211.50 271.07h-9.50M37.55 300.69h9.50M211.50 300.69h-9.50" stroke="#8a8a8a" stroke-width="1" fill="none"/><path d="M52.42 315.50v-3.00M52.42 182.20v3.00M67.29 315.50v-3.00M67.29 182.20v3.00M82.16 315.50v-3.00M82.16 182.20v3.00M97.03 315.50v-3.00M97.03 182.20v3.00M126.77 315.50v-3.00M126.77 182.20v3.00M141.64 315.50v-3.00M141.64 182.20v3.00M156.51 315.50v-3.00M156.51 182.20v3.00M171.38 315.50v-3.00M171.38 182.20v3.00M201.12 315.50v-3.00M201.12 182.20v3.00M37.55 189.61h3.00M211.50 189.61h-3.00M37.55 197.01h3.00M211.50 197.01h-3.00M37.55 204.42h3.00M211.50 204.42h-3.00M37.55 219.23h3.00M211.50 219.23h-3.00M37.55 226.63h3.00M211.50 226.63h-3.00M37.55 234.04h3.00M211.50 234.04h-3.00M37.55 248.85h3.00M211.50 248.85h-3.00M37.55 256.26h3.00M211.50 256.26h-3.00M37.55 263.66h3.00M211.50 263.66h-3.00M37.55 278.47h3.00M211.50 278.47h-3.00M37.55 285.88h3.00M211.50 285.88h-3.00M37.55 293.28h3.00M211.50 293.28h-3.00M37.55 308.09h3.00M211.50 308.09h-3.00" stroke="#8a8a8a" stroke-width="0.75" fill="none"/><rect x="37.55" y="182.20" width="173.95" height="133.30" fill="none" stroke="#8a8a8a" stroke-width="1"/><path d="M314.50 315.50v-9.50M314.50 182.20v9.50M388.85 315.50v-9.50M388.85 182.20v9.50M240.15 212.91h9.50M414.10 212.91h-9.50M240.15 243.63h9.50M414.10 243.63h-9.50M240.15 274.34h9.50M414.10 274.34h-9.50M240.15 305.06h9.50M414.10 305.06h-9.50" stroke="#8a8a8a" stroke-width="1" fill="none"/><path d="M255.02 315.50v-3.00M255.02 182.20v3.00M269.89 315.50v-3.00M269.89 182.20v3.00M284.76 315.50v-3.00M284.76 182.20v3.00M299.63 315.50v-3.00M299.63 182.20v3.00M329.37 315.50v-3.00M329.37 182.20v3.00M344.24 315.50v-3.00M344.24 182.20v3.00M359.11 315.50v-3.00M359.11 182.20v3.00M373.98 315.50v-3.00M373.98 182.20v3.00M403.72 315.50v-3.00M403.72 182.20v3.00M240.15 189.88h3.00M414.10 189.88h-3.00M240.15 197.56h3.00M414.10 197.56h-3.00M240.15 205.24h3.00M414.10 205.24h-3.00M240.15 220.59h3.00M414.10 220.59h-3.00M240.15 228.27h3.00M414.10 228.27h-3.00M240.15 235.95h3.00M414.10 235.95h-3.00M240.15 251.31h3.00M414.10 251.31h-3.00M240.15 258.99h3.00M414.10 258.99h-3.00M240.15 266.66h3.00M414.10 266.66h-3.00M240.15 282.02h3.00M414.10 282.02h-3.00M240.15 289.70h3.00M414.10 289.70h-3.00M240.15 297.38h3.00M414.10 297.38h-3.00M240.15 312.74h3.00M414.10 312.74h-3.00" stroke="#8a8a8a" stroke-width="0.75" fill="none"/><rect x="240.15" y="182.20" width="173.95" height="133.30" fill="none" stroke="#8a8a8a" stroke-width="1"/><path d="M517.30 315.50v-9.50M517.30 182.20v9.50M591.65 315.50v-9.50M591.65 182.20v9.50M442.95 218.72h9.50M616.90 218.72h-9.50M442.95 255.24h9.50M616.90 255.24h-9.50M442.95 291.76h9.50M616.90 291.76h-9.50" stroke="#8a8a8a" stroke-width="1" fill="none"/><path d="M457.82 315.50v-3.00M457.82 182.20v3.00M472.69 315.50v-3.00M472.69 182.20v3.00M487.56 315.50v-3.00M487.56 182.20v3.00M502.43 315.50v-3.00M502.43 182.20v3.00M532.17 315.50v-3.00M532.17 182.20v3.00M547.04 315.50v-3.00M547.04 182.20v3.00M561.91 315.50v-3.00M561.91 182.20v3.00M576.78 315.50v-3.00M576.78 182.20v3.00M606.52 315.50v-3.00M606.52 182.20v3.00M442.95 191.33h3.00M616.90 191.33h-3.00M442.95 200.46h3.00M616.90 200.46h-3.00M442.95 209.59h3.00M616.90 209.59h-3.00M442.95 227.85h3.00M616.90 227.85h-3.00M442.95 236.98h3.00M616.90 236.98h-3.00M442.95 246.11h3.00M616.90 246.11h-3.00M442.95 264.37h3.00M616.90 264.37h-3.00M442.95 273.50h3.00M616.90 273.50h-3.00M442.95 282.63h3.00M616.90 282.63h-3.00M442.95 300.89h3.00M616.90 300.89h-3.00M442.95 310.02h3.00M616.90 310.02h-3.00" stroke="#8a8a8a" stroke-width="0.75" fill="none"/><rect x="442.95" y="182.20" width="173.95" height="133.30" fill="none" stroke="#8a8a8a" stroke-width="1"/><path d="M49.50 14.55h3.60v3.05h3.05v3.60h-3.05v3.05h-3.60v-3.05h-3.05v-3.60h3.05z" fill="#32cd32"/><path d="M48.40 26.75h3.60v3.05h3.05v3.60h-3.05v3.05h-3.60v-3.05h-3.05v-3.60h3.05z" fill="#32cd32"/><path d="M42.90 49.55h3.60v3.05h3.05v3.60h-3.05v3.05h-3.60v-3.05h-3.05v-3.60h3.05z" fill="#32cd32"/><path d="M76.70 73.25h3.60v3.05h3.05v3.60h-3.05v3.05h-3.60v-3.05h-3.05v-3.60h3.05z" fill="#32cd32"/><path d="M105.60 77.65h3.60v3.05h3.05v3.60h-3.05v3.05h-3.60v-3.05h-3.05v-3.60h3.05z" fill="#32cd32"/><path d="M83.60 85.25h3.60v3.05h3.05v3.60h-3.05v3.05h-3.60v-3.05h-3.05v-3.60h3.05z" fill="#32cd32"/><path d="M80.80 93.55h3.60v3.05h3.05v3.60h-3.05v3.05h-3.60v-3.05h-3.05v-3.60h3.05z" fill="#32cd32"/><path d="M249.80 19.65h3.60v3.05h3.05v3.60h-3.05v3.05h-3.60v-3.05h-3.05v-3.60h3.05z" fill="#32cd32"/><path d="M247.50 34.85h3.60v3.05h3.05v3.60h-3.05v3.05h-3.60v-3.05h-3.05v-3.60h3.05z" fill="#32cd32"/><path d="M483.70 96.65h3.60v3.05h3.05v3.60h-3.05v3.05h-3.60v-3.05h-3.05v-3.60h3.05z" fill="#32cd32"/><path d="M39.10 176.95h3.60v3.05h3.05v3.60h-3.05v3.05h-3.60v-3.05h-3.05v-3.60h3.05z" fill="#32cd32"/><path d="M49.60 179.45h3.60v3.05h3.05v3.60h-3.05v3.05h-3.60v-3.05h-3.05v-3.60h3.05z" fill="#32cd32"/><path d="M39.10 189.65h3.60v3.05h3.05v3.60h-3.05v3.05h-3.60v-3.05h-3.05v-3.60h3.05z" fill="#32cd32"/><path d="M39.10 194.75h3.60v3.05h3.05v3.60h-3.05v3.05h-3.60v-3.05h-3.05v-3.60h3.05z" fill="#32cd32"/><path d="M48.90 195.35h3.60v3.05h3.05v3.60h-3.05v3.05h-3.60v-3.05h-3.05v-3.60h3.05z" fill="#32cd32"/><path d="M47.80 206.75h3.60v3.05h3.05v3.60h-3.05v3.05h-3.60v-3.05h-3.05v-3.60h3.05z" fill="#32cd32"/><path d="M60.20 228.75h3.60v3.05h3.05v3.60h-3.05v3.05h-3.60v-3.05h-3.05v-3.60h3.05z" fill="#32cd32"/><path d="M57.30 239.05h3.60v3.05h3.05v3.60h-3.05v3.05h-3.60v-3.05h-3.05v-3.60h3.05z" fill="#32cd32"/><path d="M76.70 225.95h3.60v3.05h3.05v3.60h-3.05v3.05h-3.60v-3.05h-3.05v-3.60h3.05z" fill="#32cd32"/><path d="M80.80 225.75h3.60v3.05h3.05v3.60h-3.05v3.05h-3.60v-3.05h-3.05v-3.60h3.05z" fill="#32cd32"/><path d="M83.60 227.15h3.60v3.05h3.05v3.60h-3.05v3.05h-3.60v-3.05h-3.05v-3.60h3.05z" fill="#32cd32"/><path d="M106.70 222.35h3.60v3.05h3.05v3.60h-3.05v3.05h-3.60v-3.05h-3.05v-3.60h3.05z" fill="#32cd32"/><path d="M197.90 200.45h3.60v3.05h3.05v3.60h-3.05v3.05h-3.60v-3.05h-3.05v-3.60h3.05z" fill="#32cd32"/><path d="M173.70 230.25h3.60v3.05h3.05v3.60h-3.05v3.05h-3.60v-3.05h-3.05v-3.60h3.05z" fill="#32cd32"/><path d="M167.80 237.55h3.60v3.05h3.05v3.60h-3.05v3.05h-3.60v-3.05h-3.05v-3.60h3.05z" fill="#32cd32"/><path d="M249.50 184.35h3.60v3.05h3.05v3.60h-3.05v3.05h-3.60v-3.05h-3.05v-3.60h3.05z" fill="#32cd32"/><path d="M247.00 192.45h3.60v3.05h3.05v3.60h-3.05v3.05h-3.60v-3.05h-3.05v-3.60h3.05z" fill="#32cd32"/><path d="M483.30 238.45h3.60v3.05h3.05v3.60h-3.05v3.05h-3.60v-3.05h-3.05v-3.60h3.05z" fill="#32cd32"/><path d="M511.50 233.55h3.60v3.05h3.05v3.60h-3.05v3.05h-3.60v-3.05h-3.05v-3.60h3.05z" fill="#32cd32"/><path d="M554.70 243.45h3.60v3.05h3.05v3.60h-3.05v3.05h-3.60v-3.05h-3.05v-3.60h3.05z" fill="#32cd32"/><rect x="638.50" y="23.60" width="17.40" height="268.40" fill="url(#cbg)"/><path d="M655.90 238.32h-10.00M655.90 184.64h-10.00M655.90 130.96h-10.00M655.90 77.28h-10.00" stroke="#8a8a8a" stroke-width="1" fill="none"/><path d="M655.90 278.58h-3.50M655.90 265.16h-3.50M655.90 251.74h-3.50M655.90 224.90h-3.50M655.90 211.48h-3.50M655.90 198.06h-3.50M655.90 171.22h-3.50M655.90 157.80h-3.50M655.90 144.38h-3.50M655.90 117.54h-3.50M655.90 104.12h-3.50M655.90 90.70h-3.50M655.90 63.86h-3.50M655.90 50.44h-3.50M655.90 37.02h-3.50" stroke="#8a8a8a" stroke-width="0.75" fill="none"/><rect x="638.50" y="23.60" width="17.40" height="268.40" fill="none" stroke="#909090" stroke-width="0.9"/></g><g style="opacity:0.995"><text class="t" x="57.6" y="12.5">`</text><text class="t" x="63.0" y="10.3" textLength="130.4" lengthAdjust="spacing">Alopeke (GN)  562 nm</text><text class="l" x="34.6" y="19.6" text-anchor="end">0</text><text class="l" x="34.6" y="54.6" text-anchor="end">2</text><text class="l" x="34.6" y="89.6" text-anchor="end">4</text><text class="l" x="34.6" y="124.6" text-anchor="end">6</text><text class="l" x="37.5" y="161.1" text-anchor="middle">0</text><text class="l" x="111.9" y="161.1" text-anchor="middle">0.5</text><text class="l" x="186.2" y="161.1" text-anchor="middle">1</text><text class="t" x="269.5" y="10.3" textLength="116.0" lengthAdjust="spacing">Zorro (GS)  562 nm</text><text class="l" x="237.2" y="19.6" text-anchor="end">0</text><text class="l" x="237.2" y="59.4" text-anchor="end">2</text><text class="l" x="237.2" y="99.2" text-anchor="end">4</text><text class="l" x="237.2" y="139.0" text-anchor="end">6</text><text class="l" x="240.2" y="161.1" text-anchor="middle">0</text><text class="l" x="314.5" y="161.1" text-anchor="middle">0.5</text><text class="l" x="388.9" y="161.1" text-anchor="middle">1</text><text class="t" x="460.8" y="10.3" textLength="139.2" lengthAdjust="spacing">NESSI (WIYN)  562 nm</text><text class="l" x="440.1" y="19.6" text-anchor="end">0</text><text class="l" x="440.1" y="56.4" text-anchor="end">2</text><text class="l" x="440.1" y="93.2" text-anchor="end">4</text><text class="l" x="440.1" y="130.0" text-anchor="end">6</text><text class="l" x="442.9" y="161.1" text-anchor="middle">0</text><text class="l" x="517.3" y="161.1" text-anchor="middle">0.5</text><text class="l" x="591.6" y="161.1" text-anchor="middle">1</text><text class="t" x="57.6" y="179.6">`</text><text class="t" x="63.0" y="177.4" textLength="130.4" lengthAdjust="spacing">Alopeke (GN)  832 nm</text><text class="l" x="34.6" y="187.0" text-anchor="end">0</text><text class="l" x="34.6" y="216.7" text-anchor="end">2</text><text class="l" x="34.6" y="246.3" text-anchor="end">4</text><text class="l" x="34.6" y="275.9" text-anchor="end">6</text><text class="l" x="34.6" y="305.5" text-anchor="end">8</text><text class="l" x="37.5" y="328.5" text-anchor="middle">0</text><text class="l" x="111.9" y="328.5" text-anchor="middle">0.5</text><text class="l" x="186.2" y="328.5" text-anchor="middle">1</text><text class="t" x="269.5" y="177.4" textLength="116.0" lengthAdjust="spacing">Zorro (GS)  832 nm</text><text class="l" x="237.2" y="187.0" text-anchor="end">0</text><text class="l" x="237.2" y="217.8" text-anchor="end">2</text><text class="l" x="237.2" y="248.5" text-anchor="end">4</text><text class="l" x="237.2" y="279.2" text-anchor="end">6</text><text class="l" x="237.2" y="309.9" text-anchor="end">8</text><text class="l" x="240.2" y="328.5" text-anchor="middle">0</text><text class="l" x="314.5" y="328.5" text-anchor="middle">0.5</text><text class="l" x="388.9" y="328.5" text-anchor="middle">1</text><text class="t" x="460.8" y="177.4" textLength="139.2" lengthAdjust="spacing">NESSI (WIYN)  832 nm</text><text class="l" x="440.1" y="187.0" text-anchor="end">0</text><text class="l" x="440.1" y="223.6" text-anchor="end">2</text><text class="l" x="440.1" y="260.1" text-anchor="end">4</text><text class="l" x="440.1" y="296.6" text-anchor="end">6</text><text class="l" x="442.9" y="328.5" text-anchor="middle">0</text><text class="l" x="517.3" y="328.5" text-anchor="middle">0.5</text><text class="l" x="591.6" y="328.5" text-anchor="middle">1</text><text class="l" x="659.2" y="297.4">0.0</text><text class="l" x="659.2" y="243.7">0.2</text><text class="l" x="659.2" y="190.0">0.4</text><text class="l" x="659.2" y="136.4">0.6</text><text class="l" x="659.2" y="82.7">0.8</text><text class="l" x="659.2" y="29.0">1.0</text><text class="ax" transform="translate(13.6,191.8) rotate(-90)" textLength="50.5" lengthAdjust="spacing">Δmag</text><text class="ax" x="284.3" y="348.8" style="font-size:19.5px">ρ</text><text class="ax" x="302.2" y="348.8" style="font-size:19.5px" textLength="66.5" lengthAdjust="spacing">(arcsec)</text><text class="ax" transform="translate(697,231.5) rotate(-90)" style="font-size:15px" textLength="146" lengthAdjust="spacing">detectability fraction</text></g></svg></body></html>
